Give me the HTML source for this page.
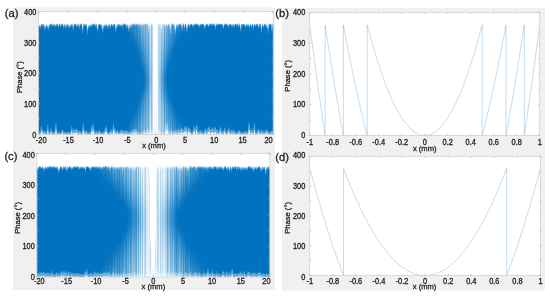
<!DOCTYPE html><html><head><meta charset="utf-8"><style>html,body{margin:0;padding:0;background:#fff;overflow:hidden}svg{display:block}stop{stop-color:#fff}</style></head><body><svg width="550" height="296" viewBox="0 0 550 296" font-family="'Liberation Sans', Arial, sans-serif"><defs><linearGradient id="g1" x1="0" y1="0" x2="0" y2="1"><stop offset="0.00" stop-opacity="0.00"/><stop offset="0.01" stop-opacity="0.00"/><stop offset="0.10" stop-opacity="0.00"/><stop offset="0.18" stop-opacity="0.00"/><stop offset="0.26" stop-opacity="0.00"/><stop offset="0.34" stop-opacity="0.00"/><stop offset="0.42" stop-opacity="0.00"/><stop offset="0.51" stop-opacity="0.00"/><stop offset="0.59" stop-opacity="0.00"/><stop offset="0.67" stop-opacity="0.00"/><stop offset="0.75" stop-opacity="0.00"/><stop offset="0.84" stop-opacity="0.00"/><stop offset="0.92" stop-opacity="0.00"/><stop offset="1.00" stop-opacity="0.03"/></linearGradient><linearGradient id="g2" x1="0" y1="0" x2="0" y2="1"><stop offset="0.00" stop-opacity="0.01"/><stop offset="0.01" stop-opacity="0.01"/><stop offset="0.10" stop-opacity="0.00"/><stop offset="0.18" stop-opacity="0.00"/><stop offset="0.26" stop-opacity="0.00"/><stop offset="0.34" stop-opacity="0.00"/><stop offset="0.42" stop-opacity="0.00"/><stop offset="0.51" stop-opacity="0.00"/><stop offset="0.59" stop-opacity="0.00"/><stop offset="0.67" stop-opacity="0.00"/><stop offset="0.75" stop-opacity="0.00"/><stop offset="0.84" stop-opacity="0.00"/><stop offset="0.92" stop-opacity="0.00"/><stop offset="1.00" stop-opacity="0.03"/></linearGradient><linearGradient id="g3" x1="0" y1="0" x2="0" y2="1"><stop offset="0.00" stop-opacity="0.03"/><stop offset="0.01" stop-opacity="0.03"/><stop offset="0.10" stop-opacity="0.00"/><stop offset="0.18" stop-opacity="0.00"/><stop offset="0.26" stop-opacity="0.00"/><stop offset="0.34" stop-opacity="0.00"/><stop offset="0.42" stop-opacity="0.00"/><stop offset="0.51" stop-opacity="0.00"/><stop offset="0.59" stop-opacity="0.00"/><stop offset="0.67" stop-opacity="0.00"/><stop offset="0.75" stop-opacity="0.00"/><stop offset="0.84" stop-opacity="0.00"/><stop offset="0.92" stop-opacity="0.00"/><stop offset="1.00" stop-opacity="0.07"/></linearGradient><linearGradient id="g4" x1="0" y1="0" x2="0" y2="1"><stop offset="0.00" stop-opacity="0.03"/><stop offset="0.01" stop-opacity="0.03"/><stop offset="0.10" stop-opacity="0.00"/><stop offset="0.18" stop-opacity="0.00"/><stop offset="0.26" stop-opacity="0.00"/><stop offset="0.34" stop-opacity="0.00"/><stop offset="0.42" stop-opacity="0.00"/><stop offset="0.51" stop-opacity="0.00"/><stop offset="0.59" stop-opacity="0.00"/><stop offset="0.67" stop-opacity="0.00"/><stop offset="0.75" stop-opacity="0.00"/><stop offset="0.84" stop-opacity="0.00"/><stop offset="0.92" stop-opacity="0.00"/><stop offset="1.00" stop-opacity="0.05"/></linearGradient><linearGradient id="g5" x1="0" y1="0" x2="0" y2="1"><stop offset="0.00" stop-opacity="0.05"/><stop offset="0.01" stop-opacity="0.05"/><stop offset="0.10" stop-opacity="0.00"/><stop offset="0.18" stop-opacity="0.00"/><stop offset="0.26" stop-opacity="0.00"/><stop offset="0.34" stop-opacity="0.00"/><stop offset="0.42" stop-opacity="0.00"/><stop offset="0.51" stop-opacity="0.00"/><stop offset="0.59" stop-opacity="0.00"/><stop offset="0.67" stop-opacity="0.00"/><stop offset="0.75" stop-opacity="0.00"/><stop offset="0.84" stop-opacity="0.00"/><stop offset="0.92" stop-opacity="0.01"/><stop offset="1.00" stop-opacity="0.08"/></linearGradient><linearGradient id="g6" x1="0" y1="0" x2="0" y2="1"><stop offset="0.00" stop-opacity="0.07"/><stop offset="0.01" stop-opacity="0.07"/><stop offset="0.10" stop-opacity="0.00"/><stop offset="0.18" stop-opacity="0.00"/><stop offset="0.26" stop-opacity="0.00"/><stop offset="0.34" stop-opacity="0.00"/><stop offset="0.42" stop-opacity="0.00"/><stop offset="0.51" stop-opacity="0.00"/><stop offset="0.59" stop-opacity="0.00"/><stop offset="0.67" stop-opacity="0.00"/><stop offset="0.75" stop-opacity="0.00"/><stop offset="0.84" stop-opacity="0.00"/><stop offset="0.92" stop-opacity="0.03"/><stop offset="1.00" stop-opacity="0.11"/></linearGradient><linearGradient id="g7" x1="0" y1="0" x2="0" y2="1"><stop offset="0.00" stop-opacity="0.09"/><stop offset="0.01" stop-opacity="0.09"/><stop offset="0.10" stop-opacity="0.02"/><stop offset="0.18" stop-opacity="0.00"/><stop offset="0.26" stop-opacity="0.00"/><stop offset="0.34" stop-opacity="0.00"/><stop offset="0.42" stop-opacity="0.00"/><stop offset="0.51" stop-opacity="0.00"/><stop offset="0.59" stop-opacity="0.00"/><stop offset="0.67" stop-opacity="0.00"/><stop offset="0.75" stop-opacity="0.00"/><stop offset="0.84" stop-opacity="0.00"/><stop offset="0.92" stop-opacity="0.04"/><stop offset="1.00" stop-opacity="0.12"/></linearGradient><linearGradient id="g8" x1="0" y1="0" x2="0" y2="1"><stop offset="0.00" stop-opacity="0.12"/><stop offset="0.01" stop-opacity="0.12"/><stop offset="0.10" stop-opacity="0.04"/><stop offset="0.18" stop-opacity="0.00"/><stop offset="0.26" stop-opacity="0.00"/><stop offset="0.34" stop-opacity="0.00"/><stop offset="0.42" stop-opacity="0.00"/><stop offset="0.51" stop-opacity="0.00"/><stop offset="0.59" stop-opacity="0.00"/><stop offset="0.67" stop-opacity="0.00"/><stop offset="0.75" stop-opacity="0.00"/><stop offset="0.84" stop-opacity="0.00"/><stop offset="0.92" stop-opacity="0.07"/><stop offset="1.00" stop-opacity="0.16"/></linearGradient><linearGradient id="g9" x1="0" y1="0" x2="0" y2="1"><stop offset="0.00" stop-opacity="0.16"/><stop offset="0.01" stop-opacity="0.16"/><stop offset="0.10" stop-opacity="0.06"/><stop offset="0.18" stop-opacity="0.00"/><stop offset="0.26" stop-opacity="0.00"/><stop offset="0.34" stop-opacity="0.00"/><stop offset="0.42" stop-opacity="0.00"/><stop offset="0.51" stop-opacity="0.00"/><stop offset="0.59" stop-opacity="0.00"/><stop offset="0.67" stop-opacity="0.00"/><stop offset="0.75" stop-opacity="0.00"/><stop offset="0.84" stop-opacity="0.00"/><stop offset="0.92" stop-opacity="0.10"/><stop offset="1.00" stop-opacity="0.20"/></linearGradient><linearGradient id="g10" x1="0" y1="0" x2="0" y2="1"><stop offset="0.00" stop-opacity="0.21"/><stop offset="0.01" stop-opacity="0.21"/><stop offset="0.10" stop-opacity="0.10"/><stop offset="0.18" stop-opacity="0.00"/><stop offset="0.26" stop-opacity="0.00"/><stop offset="0.34" stop-opacity="0.00"/><stop offset="0.42" stop-opacity="0.00"/><stop offset="0.51" stop-opacity="0.00"/><stop offset="0.59" stop-opacity="0.00"/><stop offset="0.67" stop-opacity="0.00"/><stop offset="0.75" stop-opacity="0.00"/><stop offset="0.84" stop-opacity="0.02"/><stop offset="0.92" stop-opacity="0.14"/><stop offset="1.00" stop-opacity="0.25"/></linearGradient><linearGradient id="g11" x1="0" y1="0" x2="0" y2="1"><stop offset="0.00" stop-opacity="0.15"/><stop offset="0.01" stop-opacity="0.15"/><stop offset="0.10" stop-opacity="0.08"/><stop offset="0.18" stop-opacity="0.01"/><stop offset="0.26" stop-opacity="0.00"/><stop offset="0.34" stop-opacity="0.00"/><stop offset="0.42" stop-opacity="0.00"/><stop offset="0.51" stop-opacity="0.00"/><stop offset="0.59" stop-opacity="0.00"/><stop offset="0.67" stop-opacity="0.00"/><stop offset="0.75" stop-opacity="0.00"/><stop offset="0.84" stop-opacity="0.03"/><stop offset="0.92" stop-opacity="0.10"/><stop offset="1.00" stop-opacity="0.18"/></linearGradient><linearGradient id="g12" x1="0" y1="0" x2="0" y2="1"><stop offset="0.00" stop-opacity="0.22"/><stop offset="0.01" stop-opacity="0.22"/><stop offset="0.10" stop-opacity="0.13"/><stop offset="0.18" stop-opacity="0.04"/><stop offset="0.26" stop-opacity="0.00"/><stop offset="0.34" stop-opacity="0.00"/><stop offset="0.42" stop-opacity="0.00"/><stop offset="0.51" stop-opacity="0.00"/><stop offset="0.59" stop-opacity="0.00"/><stop offset="0.67" stop-opacity="0.00"/><stop offset="0.75" stop-opacity="0.00"/><stop offset="0.84" stop-opacity="0.06"/><stop offset="0.92" stop-opacity="0.17"/><stop offset="1.00" stop-opacity="0.25"/></linearGradient><linearGradient id="g13" x1="0" y1="0" x2="0" y2="1"><stop offset="0.00" stop-opacity="0.25"/><stop offset="0.01" stop-opacity="0.25"/><stop offset="0.10" stop-opacity="0.17"/><stop offset="0.18" stop-opacity="0.07"/><stop offset="0.26" stop-opacity="0.00"/><stop offset="0.34" stop-opacity="0.00"/><stop offset="0.42" stop-opacity="0.00"/><stop offset="0.51" stop-opacity="0.00"/><stop offset="0.59" stop-opacity="0.00"/><stop offset="0.67" stop-opacity="0.00"/><stop offset="0.75" stop-opacity="0.00"/><stop offset="0.84" stop-opacity="0.09"/><stop offset="0.92" stop-opacity="0.20"/><stop offset="1.00" stop-opacity="0.29"/></linearGradient><linearGradient id="g14" x1="0" y1="0" x2="0" y2="1"><stop offset="0.00" stop-opacity="0.21"/><stop offset="0.01" stop-opacity="0.21"/><stop offset="0.10" stop-opacity="0.15"/><stop offset="0.18" stop-opacity="0.07"/><stop offset="0.26" stop-opacity="0.00"/><stop offset="0.34" stop-opacity="0.00"/><stop offset="0.42" stop-opacity="0.00"/><stop offset="0.51" stop-opacity="0.00"/><stop offset="0.59" stop-opacity="0.00"/><stop offset="0.67" stop-opacity="0.00"/><stop offset="0.75" stop-opacity="0.01"/><stop offset="0.84" stop-opacity="0.09"/><stop offset="0.92" stop-opacity="0.17"/><stop offset="1.00" stop-opacity="0.24"/></linearGradient><linearGradient id="g15" x1="0" y1="0" x2="0" y2="1"><stop offset="0.00" stop-opacity="0.18"/><stop offset="0.01" stop-opacity="0.18"/><stop offset="0.10" stop-opacity="0.13"/><stop offset="0.18" stop-opacity="0.07"/><stop offset="0.26" stop-opacity="0.01"/><stop offset="0.34" stop-opacity="0.00"/><stop offset="0.42" stop-opacity="0.00"/><stop offset="0.51" stop-opacity="0.00"/><stop offset="0.59" stop-opacity="0.00"/><stop offset="0.67" stop-opacity="0.00"/><stop offset="0.75" stop-opacity="0.02"/><stop offset="0.84" stop-opacity="0.08"/><stop offset="0.92" stop-opacity="0.15"/><stop offset="1.00" stop-opacity="0.20"/></linearGradient><linearGradient id="g16" x1="0" y1="0" x2="0" y2="1"><stop offset="0.00" stop-opacity="0.39"/><stop offset="0.01" stop-opacity="0.39"/><stop offset="0.10" stop-opacity="0.30"/><stop offset="0.18" stop-opacity="0.20"/><stop offset="0.26" stop-opacity="0.07"/><stop offset="0.34" stop-opacity="0.00"/><stop offset="0.42" stop-opacity="0.00"/><stop offset="0.51" stop-opacity="0.00"/><stop offset="0.59" stop-opacity="0.00"/><stop offset="0.67" stop-opacity="0.00"/><stop offset="0.75" stop-opacity="0.09"/><stop offset="0.84" stop-opacity="0.22"/><stop offset="0.92" stop-opacity="0.34"/><stop offset="1.00" stop-opacity="0.42"/></linearGradient><linearGradient id="g17" x1="0" y1="0" x2="0" y2="1"><stop offset="0.00" stop-opacity="0.28"/><stop offset="0.01" stop-opacity="0.28"/><stop offset="0.10" stop-opacity="0.22"/><stop offset="0.18" stop-opacity="0.15"/><stop offset="0.26" stop-opacity="0.07"/><stop offset="0.34" stop-opacity="0.00"/><stop offset="0.42" stop-opacity="0.00"/><stop offset="0.51" stop-opacity="0.00"/><stop offset="0.59" stop-opacity="0.00"/><stop offset="0.67" stop-opacity="0.00"/><stop offset="0.75" stop-opacity="0.08"/><stop offset="0.84" stop-opacity="0.17"/><stop offset="0.92" stop-opacity="0.24"/><stop offset="1.00" stop-opacity="0.30"/></linearGradient><linearGradient id="g18" x1="0" y1="0" x2="0" y2="1"><stop offset="0.00" stop-opacity="0.31"/><stop offset="0.01" stop-opacity="0.31"/><stop offset="0.10" stop-opacity="0.25"/><stop offset="0.18" stop-opacity="0.18"/><stop offset="0.26" stop-opacity="0.10"/><stop offset="0.34" stop-opacity="0.02"/><stop offset="0.42" stop-opacity="0.00"/><stop offset="0.51" stop-opacity="0.00"/><stop offset="0.59" stop-opacity="0.00"/><stop offset="0.67" stop-opacity="0.02"/><stop offset="0.75" stop-opacity="0.11"/><stop offset="0.84" stop-opacity="0.20"/><stop offset="0.92" stop-opacity="0.27"/><stop offset="1.00" stop-opacity="0.33"/></linearGradient><linearGradient id="g19" x1="0" y1="0" x2="0" y2="1"><stop offset="0.00" stop-opacity="0.47"/><stop offset="0.01" stop-opacity="0.47"/><stop offset="0.10" stop-opacity="0.40"/><stop offset="0.18" stop-opacity="0.31"/><stop offset="0.26" stop-opacity="0.20"/><stop offset="0.34" stop-opacity="0.08"/><stop offset="0.42" stop-opacity="0.00"/><stop offset="0.51" stop-opacity="0.00"/><stop offset="0.59" stop-opacity="0.00"/><stop offset="0.67" stop-opacity="0.08"/><stop offset="0.75" stop-opacity="0.22"/><stop offset="0.84" stop-opacity="0.33"/><stop offset="0.92" stop-opacity="0.42"/><stop offset="1.00" stop-opacity="0.49"/></linearGradient><linearGradient id="g20" x1="0" y1="0" x2="0" y2="1"><stop offset="0.00" stop-opacity="0.43"/><stop offset="0.01" stop-opacity="0.43"/><stop offset="0.10" stop-opacity="0.37"/><stop offset="0.18" stop-opacity="0.30"/><stop offset="0.26" stop-opacity="0.21"/><stop offset="0.34" stop-opacity="0.11"/><stop offset="0.42" stop-opacity="0.01"/><stop offset="0.51" stop-opacity="0.00"/><stop offset="0.59" stop-opacity="0.01"/><stop offset="0.67" stop-opacity="0.11"/><stop offset="0.75" stop-opacity="0.22"/><stop offset="0.84" stop-opacity="0.31"/><stop offset="0.92" stop-opacity="0.39"/><stop offset="1.00" stop-opacity="0.45"/></linearGradient><linearGradient id="g21" x1="0" y1="0" x2="0" y2="1"><stop offset="0.00" stop-opacity="0.43"/><stop offset="0.01" stop-opacity="0.43"/><stop offset="0.10" stop-opacity="0.38"/><stop offset="0.18" stop-opacity="0.31"/><stop offset="0.26" stop-opacity="0.23"/><stop offset="0.34" stop-opacity="0.14"/><stop offset="0.42" stop-opacity="0.05"/><stop offset="0.51" stop-opacity="0.00"/><stop offset="0.59" stop-opacity="0.04"/><stop offset="0.67" stop-opacity="0.14"/><stop offset="0.75" stop-opacity="0.24"/><stop offset="0.84" stop-opacity="0.33"/><stop offset="0.92" stop-opacity="0.39"/><stop offset="1.00" stop-opacity="0.45"/></linearGradient><linearGradient id="g22" x1="0" y1="0" x2="0" y2="1"><stop offset="0.00" stop-opacity="0.54"/><stop offset="0.01" stop-opacity="0.54"/><stop offset="0.10" stop-opacity="0.49"/><stop offset="0.18" stop-opacity="0.42"/><stop offset="0.26" stop-opacity="0.34"/><stop offset="0.34" stop-opacity="0.23"/><stop offset="0.42" stop-opacity="0.12"/><stop offset="0.51" stop-opacity="0.04"/><stop offset="0.59" stop-opacity="0.11"/><stop offset="0.67" stop-opacity="0.24"/><stop offset="0.75" stop-opacity="0.35"/><stop offset="0.84" stop-opacity="0.43"/><stop offset="0.92" stop-opacity="0.50"/><stop offset="1.00" stop-opacity="0.55"/></linearGradient><linearGradient id="g23" x1="0" y1="0" x2="0" y2="1"><stop offset="0.00" stop-opacity="0.37"/><stop offset="0.01" stop-opacity="0.37"/><stop offset="0.10" stop-opacity="0.33"/><stop offset="0.18" stop-opacity="0.29"/><stop offset="0.26" stop-opacity="0.23"/><stop offset="0.34" stop-opacity="0.17"/><stop offset="0.42" stop-opacity="0.10"/><stop offset="0.51" stop-opacity="0.06"/><stop offset="0.59" stop-opacity="0.10"/><stop offset="0.67" stop-opacity="0.17"/><stop offset="0.75" stop-opacity="0.24"/><stop offset="0.84" stop-opacity="0.30"/><stop offset="0.92" stop-opacity="0.34"/><stop offset="1.00" stop-opacity="0.38"/></linearGradient><linearGradient id="g24" x1="0" y1="0" x2="0" y2="1"><stop offset="0.00" stop-opacity="0.58"/><stop offset="0.01" stop-opacity="0.58"/><stop offset="0.10" stop-opacity="0.54"/><stop offset="0.18" stop-opacity="0.49"/><stop offset="0.26" stop-opacity="0.43"/><stop offset="0.34" stop-opacity="0.35"/><stop offset="0.42" stop-opacity="0.25"/><stop offset="0.51" stop-opacity="0.18"/><stop offset="0.59" stop-opacity="0.24"/><stop offset="0.67" stop-opacity="0.35"/><stop offset="0.75" stop-opacity="0.43"/><stop offset="0.84" stop-opacity="0.50"/><stop offset="0.92" stop-opacity="0.55"/><stop offset="1.00" stop-opacity="0.59"/></linearGradient><linearGradient id="g25" x1="0" y1="0" x2="0" y2="1"><stop offset="0.00" stop-opacity="0.52"/><stop offset="0.01" stop-opacity="0.52"/><stop offset="0.10" stop-opacity="0.49"/><stop offset="0.18" stop-opacity="0.45"/><stop offset="0.26" stop-opacity="0.40"/><stop offset="0.34" stop-opacity="0.34"/><stop offset="0.42" stop-opacity="0.26"/><stop offset="0.51" stop-opacity="0.21"/><stop offset="0.59" stop-opacity="0.26"/><stop offset="0.67" stop-opacity="0.34"/><stop offset="0.75" stop-opacity="0.40"/><stop offset="0.84" stop-opacity="0.46"/><stop offset="0.92" stop-opacity="0.50"/><stop offset="1.00" stop-opacity="0.53"/></linearGradient><linearGradient id="g26" x1="0" y1="0" x2="0" y2="1"><stop offset="0.00" stop-opacity="0.47"/><stop offset="0.01" stop-opacity="0.47"/><stop offset="0.10" stop-opacity="0.45"/><stop offset="0.18" stop-opacity="0.42"/><stop offset="0.26" stop-opacity="0.38"/><stop offset="0.34" stop-opacity="0.33"/><stop offset="0.42" stop-opacity="0.27"/><stop offset="0.51" stop-opacity="0.23"/><stop offset="0.59" stop-opacity="0.26"/><stop offset="0.67" stop-opacity="0.32"/><stop offset="0.75" stop-opacity="0.38"/><stop offset="0.84" stop-opacity="0.42"/><stop offset="0.92" stop-opacity="0.45"/><stop offset="1.00" stop-opacity="0.48"/></linearGradient><linearGradient id="g27" x1="0" y1="0" x2="0" y2="1"><stop offset="0.00" stop-opacity="0.67"/><stop offset="0.01" stop-opacity="0.67"/><stop offset="0.10" stop-opacity="0.65"/><stop offset="0.18" stop-opacity="0.62"/><stop offset="0.26" stop-opacity="0.58"/><stop offset="0.34" stop-opacity="0.54"/><stop offset="0.42" stop-opacity="0.48"/><stop offset="0.51" stop-opacity="0.43"/><stop offset="0.59" stop-opacity="0.47"/><stop offset="0.67" stop-opacity="0.53"/><stop offset="0.75" stop-opacity="0.58"/><stop offset="0.84" stop-opacity="0.62"/><stop offset="0.92" stop-opacity="0.65"/><stop offset="1.00" stop-opacity="0.67"/></linearGradient><linearGradient id="g28" x1="0" y1="0" x2="0" y2="1"><stop offset="0.00" stop-opacity="0.78"/><stop offset="0.01" stop-opacity="0.78"/><stop offset="0.10" stop-opacity="0.77"/><stop offset="0.18" stop-opacity="0.75"/><stop offset="0.26" stop-opacity="0.72"/><stop offset="0.34" stop-opacity="0.68"/><stop offset="0.42" stop-opacity="0.64"/><stop offset="0.51" stop-opacity="0.60"/><stop offset="0.59" stop-opacity="0.63"/><stop offset="0.67" stop-opacity="0.68"/><stop offset="0.75" stop-opacity="0.72"/><stop offset="0.84" stop-opacity="0.74"/><stop offset="0.92" stop-opacity="0.77"/><stop offset="1.00" stop-opacity="0.78"/></linearGradient><linearGradient id="g29" x1="0" y1="0" x2="0" y2="1"><stop offset="0.00" stop-opacity="0.60"/><stop offset="0.01" stop-opacity="0.60"/><stop offset="0.10" stop-opacity="0.59"/><stop offset="0.18" stop-opacity="0.58"/><stop offset="0.26" stop-opacity="0.57"/><stop offset="0.34" stop-opacity="0.55"/><stop offset="0.42" stop-opacity="0.52"/><stop offset="0.51" stop-opacity="0.50"/><stop offset="0.59" stop-opacity="0.52"/><stop offset="0.67" stop-opacity="0.54"/><stop offset="0.75" stop-opacity="0.56"/><stop offset="0.84" stop-opacity="0.58"/><stop offset="0.92" stop-opacity="0.59"/><stop offset="1.00" stop-opacity="0.60"/></linearGradient><linearGradient id="g30" x1="0" y1="0" x2="0" y2="1"><stop offset="0.00" stop-opacity="0.76"/><stop offset="0.01" stop-opacity="0.76"/><stop offset="0.10" stop-opacity="0.76"/><stop offset="0.18" stop-opacity="0.76"/><stop offset="0.26" stop-opacity="0.75"/><stop offset="0.34" stop-opacity="0.75"/><stop offset="0.42" stop-opacity="0.74"/><stop offset="0.51" stop-opacity="0.73"/><stop offset="0.59" stop-opacity="0.73"/><stop offset="0.67" stop-opacity="0.74"/><stop offset="0.75" stop-opacity="0.75"/><stop offset="0.84" stop-opacity="0.75"/><stop offset="0.92" stop-opacity="0.75"/><stop offset="1.00" stop-opacity="0.75"/></linearGradient><linearGradient id="g31" x1="0" y1="0" x2="0" y2="1"><stop offset="0.00" stop-opacity="1.00"/><stop offset="0.01" stop-opacity="1.00"/><stop offset="0.10" stop-opacity="1.00"/><stop offset="0.18" stop-opacity="1.00"/><stop offset="0.26" stop-opacity="1.00"/><stop offset="0.34" stop-opacity="1.00"/><stop offset="0.42" stop-opacity="1.00"/><stop offset="0.51" stop-opacity="1.00"/><stop offset="0.59" stop-opacity="1.00"/><stop offset="0.67" stop-opacity="1.00"/><stop offset="0.75" stop-opacity="1.00"/><stop offset="0.84" stop-opacity="1.00"/><stop offset="0.92" stop-opacity="1.00"/><stop offset="1.00" stop-opacity="1.00"/></linearGradient><linearGradient id="g32" x1="0" y1="0" x2="0" y2="1"><stop offset="0.00" stop-opacity="1.00"/><stop offset="0.01" stop-opacity="1.00"/><stop offset="0.10" stop-opacity="1.00"/><stop offset="0.18" stop-opacity="1.00"/><stop offset="0.26" stop-opacity="1.00"/><stop offset="0.34" stop-opacity="1.00"/><stop offset="0.42" stop-opacity="1.00"/><stop offset="0.51" stop-opacity="1.00"/><stop offset="0.59" stop-opacity="1.00"/><stop offset="0.67" stop-opacity="1.00"/><stop offset="0.75" stop-opacity="1.00"/><stop offset="0.84" stop-opacity="1.00"/><stop offset="0.92" stop-opacity="1.00"/><stop offset="1.00" stop-opacity="1.00"/></linearGradient><linearGradient id="g33" x1="0" y1="0" x2="0" y2="1"><stop offset="0.00" stop-opacity="1.00"/><stop offset="0.01" stop-opacity="1.00"/><stop offset="0.10" stop-opacity="1.00"/><stop offset="0.18" stop-opacity="1.00"/><stop offset="0.26" stop-opacity="1.00"/><stop offset="0.34" stop-opacity="1.00"/><stop offset="0.42" stop-opacity="1.00"/><stop offset="0.51" stop-opacity="1.00"/><stop offset="0.59" stop-opacity="1.00"/><stop offset="0.67" stop-opacity="1.00"/><stop offset="0.75" stop-opacity="1.00"/><stop offset="0.84" stop-opacity="1.00"/><stop offset="0.92" stop-opacity="1.00"/><stop offset="1.00" stop-opacity="1.00"/></linearGradient><linearGradient id="g34" x1="0" y1="0" x2="0" y2="1"><stop offset="0.00" stop-opacity="1.00"/><stop offset="0.01" stop-opacity="1.00"/><stop offset="0.10" stop-opacity="1.00"/><stop offset="0.18" stop-opacity="1.00"/><stop offset="0.26" stop-opacity="1.00"/><stop offset="0.34" stop-opacity="1.00"/><stop offset="0.42" stop-opacity="1.00"/><stop offset="0.51" stop-opacity="1.00"/><stop offset="0.59" stop-opacity="1.00"/><stop offset="0.67" stop-opacity="1.00"/><stop offset="0.75" stop-opacity="1.00"/><stop offset="0.84" stop-opacity="1.00"/><stop offset="0.92" stop-opacity="1.00"/><stop offset="1.00" stop-opacity="1.00"/></linearGradient><linearGradient id="g35" x1="0" y1="0" x2="0" y2="1"><stop offset="0.00" stop-opacity="1.00"/><stop offset="0.01" stop-opacity="1.00"/><stop offset="0.10" stop-opacity="1.00"/><stop offset="0.18" stop-opacity="1.00"/><stop offset="0.26" stop-opacity="1.00"/><stop offset="0.34" stop-opacity="1.00"/><stop offset="0.42" stop-opacity="1.00"/><stop offset="0.51" stop-opacity="1.00"/><stop offset="0.59" stop-opacity="1.00"/><stop offset="0.67" stop-opacity="1.00"/><stop offset="0.75" stop-opacity="1.00"/><stop offset="0.84" stop-opacity="1.00"/><stop offset="0.92" stop-opacity="1.00"/><stop offset="1.00" stop-opacity="1.00"/></linearGradient><linearGradient id="g36" x1="0" y1="0" x2="0" y2="1"><stop offset="0.00" stop-opacity="0.76"/><stop offset="0.01" stop-opacity="0.76"/><stop offset="0.10" stop-opacity="0.75"/><stop offset="0.18" stop-opacity="0.75"/><stop offset="0.26" stop-opacity="0.74"/><stop offset="0.34" stop-opacity="0.73"/><stop offset="0.42" stop-opacity="0.71"/><stop offset="0.51" stop-opacity="0.70"/><stop offset="0.59" stop-opacity="0.71"/><stop offset="0.67" stop-opacity="0.72"/><stop offset="0.75" stop-opacity="0.73"/><stop offset="0.84" stop-opacity="0.74"/><stop offset="0.92" stop-opacity="0.75"/><stop offset="1.00" stop-opacity="0.75"/></linearGradient><linearGradient id="g37" x1="0" y1="0" x2="0" y2="1"><stop offset="0.00" stop-opacity="0.73"/><stop offset="0.01" stop-opacity="0.73"/><stop offset="0.10" stop-opacity="0.72"/><stop offset="0.18" stop-opacity="0.70"/><stop offset="0.26" stop-opacity="0.68"/><stop offset="0.34" stop-opacity="0.66"/><stop offset="0.42" stop-opacity="0.63"/><stop offset="0.51" stop-opacity="0.60"/><stop offset="0.59" stop-opacity="0.62"/><stop offset="0.67" stop-opacity="0.65"/><stop offset="0.75" stop-opacity="0.68"/><stop offset="0.84" stop-opacity="0.70"/><stop offset="0.92" stop-opacity="0.71"/><stop offset="1.00" stop-opacity="0.73"/></linearGradient><linearGradient id="g38" x1="0" y1="0" x2="0" y2="1"><stop offset="0.00" stop-opacity="0.74"/><stop offset="0.01" stop-opacity="0.74"/><stop offset="0.10" stop-opacity="0.72"/><stop offset="0.18" stop-opacity="0.70"/><stop offset="0.26" stop-opacity="0.66"/><stop offset="0.34" stop-opacity="0.62"/><stop offset="0.42" stop-opacity="0.57"/><stop offset="0.51" stop-opacity="0.53"/><stop offset="0.59" stop-opacity="0.57"/><stop offset="0.67" stop-opacity="0.62"/><stop offset="0.75" stop-opacity="0.66"/><stop offset="0.84" stop-opacity="0.69"/><stop offset="0.92" stop-opacity="0.72"/><stop offset="1.00" stop-opacity="0.74"/></linearGradient><linearGradient id="g39" x1="0" y1="0" x2="0" y2="1"><stop offset="0.00" stop-opacity="0.59"/><stop offset="0.01" stop-opacity="0.59"/><stop offset="0.10" stop-opacity="0.57"/><stop offset="0.18" stop-opacity="0.54"/><stop offset="0.26" stop-opacity="0.50"/><stop offset="0.34" stop-opacity="0.45"/><stop offset="0.42" stop-opacity="0.39"/><stop offset="0.51" stop-opacity="0.34"/><stop offset="0.59" stop-opacity="0.38"/><stop offset="0.67" stop-opacity="0.45"/><stop offset="0.75" stop-opacity="0.50"/><stop offset="0.84" stop-opacity="0.54"/><stop offset="0.92" stop-opacity="0.57"/><stop offset="1.00" stop-opacity="0.59"/></linearGradient><linearGradient id="g40" x1="0" y1="0" x2="0" y2="1"><stop offset="0.00" stop-opacity="0.65"/><stop offset="0.01" stop-opacity="0.65"/><stop offset="0.10" stop-opacity="0.62"/><stop offset="0.18" stop-opacity="0.58"/><stop offset="0.26" stop-opacity="0.53"/><stop offset="0.34" stop-opacity="0.46"/><stop offset="0.42" stop-opacity="0.39"/><stop offset="0.51" stop-opacity="0.32"/><stop offset="0.59" stop-opacity="0.38"/><stop offset="0.67" stop-opacity="0.46"/><stop offset="0.75" stop-opacity="0.53"/><stop offset="0.84" stop-opacity="0.59"/><stop offset="0.92" stop-opacity="0.63"/><stop offset="1.00" stop-opacity="0.66"/></linearGradient><linearGradient id="g41" x1="0" y1="0" x2="0" y2="1"><stop offset="0.00" stop-opacity="0.65"/><stop offset="0.01" stop-opacity="0.65"/><stop offset="0.10" stop-opacity="0.61"/><stop offset="0.18" stop-opacity="0.57"/><stop offset="0.26" stop-opacity="0.50"/><stop offset="0.34" stop-opacity="0.42"/><stop offset="0.42" stop-opacity="0.33"/><stop offset="0.51" stop-opacity="0.25"/><stop offset="0.59" stop-opacity="0.32"/><stop offset="0.67" stop-opacity="0.42"/><stop offset="0.75" stop-opacity="0.51"/><stop offset="0.84" stop-opacity="0.57"/><stop offset="0.92" stop-opacity="0.62"/><stop offset="1.00" stop-opacity="0.66"/></linearGradient><linearGradient id="g42" x1="0" y1="0" x2="0" y2="1"><stop offset="0.00" stop-opacity="0.41"/><stop offset="0.01" stop-opacity="0.41"/><stop offset="0.10" stop-opacity="0.37"/><stop offset="0.18" stop-opacity="0.33"/><stop offset="0.26" stop-opacity="0.27"/><stop offset="0.34" stop-opacity="0.21"/><stop offset="0.42" stop-opacity="0.14"/><stop offset="0.51" stop-opacity="0.09"/><stop offset="0.59" stop-opacity="0.13"/><stop offset="0.67" stop-opacity="0.21"/><stop offset="0.75" stop-opacity="0.28"/><stop offset="0.84" stop-opacity="0.33"/><stop offset="0.92" stop-opacity="0.38"/><stop offset="1.00" stop-opacity="0.42"/></linearGradient><linearGradient id="g43" x1="0" y1="0" x2="0" y2="1"><stop offset="0.00" stop-opacity="0.58"/><stop offset="0.01" stop-opacity="0.58"/><stop offset="0.10" stop-opacity="0.53"/><stop offset="0.18" stop-opacity="0.46"/><stop offset="0.26" stop-opacity="0.38"/><stop offset="0.34" stop-opacity="0.28"/><stop offset="0.42" stop-opacity="0.17"/><stop offset="0.51" stop-opacity="0.09"/><stop offset="0.59" stop-opacity="0.16"/><stop offset="0.67" stop-opacity="0.28"/><stop offset="0.75" stop-opacity="0.39"/><stop offset="0.84" stop-opacity="0.48"/><stop offset="0.92" stop-opacity="0.54"/><stop offset="1.00" stop-opacity="0.59"/></linearGradient><linearGradient id="g44" x1="0" y1="0" x2="0" y2="1"><stop offset="0.00" stop-opacity="0.43"/><stop offset="0.01" stop-opacity="0.43"/><stop offset="0.10" stop-opacity="0.38"/><stop offset="0.18" stop-opacity="0.32"/><stop offset="0.26" stop-opacity="0.25"/><stop offset="0.34" stop-opacity="0.16"/><stop offset="0.42" stop-opacity="0.07"/><stop offset="0.51" stop-opacity="0.02"/><stop offset="0.59" stop-opacity="0.07"/><stop offset="0.67" stop-opacity="0.16"/><stop offset="0.75" stop-opacity="0.26"/><stop offset="0.84" stop-opacity="0.33"/><stop offset="0.92" stop-opacity="0.39"/><stop offset="1.00" stop-opacity="0.44"/></linearGradient><linearGradient id="g45" x1="0" y1="0" x2="0" y2="1"><stop offset="0.00" stop-opacity="0.42"/><stop offset="0.01" stop-opacity="0.42"/><stop offset="0.10" stop-opacity="0.37"/><stop offset="0.18" stop-opacity="0.30"/><stop offset="0.26" stop-opacity="0.22"/><stop offset="0.34" stop-opacity="0.12"/><stop offset="0.42" stop-opacity="0.03"/><stop offset="0.51" stop-opacity="0.00"/><stop offset="0.59" stop-opacity="0.03"/><stop offset="0.67" stop-opacity="0.13"/><stop offset="0.75" stop-opacity="0.23"/><stop offset="0.84" stop-opacity="0.32"/><stop offset="0.92" stop-opacity="0.38"/><stop offset="1.00" stop-opacity="0.44"/></linearGradient><linearGradient id="g46" x1="0" y1="0" x2="0" y2="1"><stop offset="0.00" stop-opacity="0.31"/><stop offset="0.01" stop-opacity="0.31"/><stop offset="0.10" stop-opacity="0.26"/><stop offset="0.18" stop-opacity="0.20"/><stop offset="0.26" stop-opacity="0.13"/><stop offset="0.34" stop-opacity="0.06"/><stop offset="0.42" stop-opacity="0.00"/><stop offset="0.51" stop-opacity="0.00"/><stop offset="0.59" stop-opacity="0.00"/><stop offset="0.67" stop-opacity="0.06"/><stop offset="0.75" stop-opacity="0.14"/><stop offset="0.84" stop-opacity="0.22"/><stop offset="0.92" stop-opacity="0.28"/><stop offset="1.00" stop-opacity="0.33"/></linearGradient><linearGradient id="g47" x1="0" y1="0" x2="0" y2="1"><stop offset="0.00" stop-opacity="0.41"/><stop offset="0.01" stop-opacity="0.41"/><stop offset="0.10" stop-opacity="0.35"/><stop offset="0.18" stop-opacity="0.26"/><stop offset="0.26" stop-opacity="0.16"/><stop offset="0.34" stop-opacity="0.05"/><stop offset="0.42" stop-opacity="0.00"/><stop offset="0.51" stop-opacity="0.00"/><stop offset="0.59" stop-opacity="0.00"/><stop offset="0.67" stop-opacity="0.05"/><stop offset="0.75" stop-opacity="0.18"/><stop offset="0.84" stop-opacity="0.28"/><stop offset="0.92" stop-opacity="0.37"/><stop offset="1.00" stop-opacity="0.44"/></linearGradient><linearGradient id="g48" x1="0" y1="0" x2="0" y2="1"><stop offset="0.00" stop-opacity="0.30"/><stop offset="0.01" stop-opacity="0.30"/><stop offset="0.10" stop-opacity="0.24"/><stop offset="0.18" stop-opacity="0.17"/><stop offset="0.26" stop-opacity="0.09"/><stop offset="0.34" stop-opacity="0.01"/><stop offset="0.42" stop-opacity="0.00"/><stop offset="0.51" stop-opacity="0.00"/><stop offset="0.59" stop-opacity="0.00"/><stop offset="0.67" stop-opacity="0.01"/><stop offset="0.75" stop-opacity="0.10"/><stop offset="0.84" stop-opacity="0.18"/><stop offset="0.92" stop-opacity="0.26"/><stop offset="1.00" stop-opacity="0.32"/></linearGradient><linearGradient id="g49" x1="0" y1="0" x2="0" y2="1"><stop offset="0.00" stop-opacity="0.39"/><stop offset="0.01" stop-opacity="0.39"/><stop offset="0.10" stop-opacity="0.31"/><stop offset="0.18" stop-opacity="0.21"/><stop offset="0.26" stop-opacity="0.09"/><stop offset="0.34" stop-opacity="0.00"/><stop offset="0.42" stop-opacity="0.00"/><stop offset="0.51" stop-opacity="0.00"/><stop offset="0.59" stop-opacity="0.00"/><stop offset="0.67" stop-opacity="0.00"/><stop offset="0.75" stop-opacity="0.11"/><stop offset="0.84" stop-opacity="0.23"/><stop offset="0.92" stop-opacity="0.34"/><stop offset="1.00" stop-opacity="0.42"/></linearGradient><linearGradient id="g50" x1="0" y1="0" x2="0" y2="1"><stop offset="0.00" stop-opacity="0.24"/><stop offset="0.01" stop-opacity="0.24"/><stop offset="0.10" stop-opacity="0.18"/><stop offset="0.18" stop-opacity="0.11"/><stop offset="0.26" stop-opacity="0.03"/><stop offset="0.34" stop-opacity="0.00"/><stop offset="0.42" stop-opacity="0.00"/><stop offset="0.51" stop-opacity="0.00"/><stop offset="0.59" stop-opacity="0.00"/><stop offset="0.67" stop-opacity="0.00"/><stop offset="0.75" stop-opacity="0.04"/><stop offset="0.84" stop-opacity="0.13"/><stop offset="0.92" stop-opacity="0.20"/><stop offset="1.00" stop-opacity="0.27"/></linearGradient><linearGradient id="g51" x1="0" y1="0" x2="0" y2="1"><stop offset="0.00" stop-opacity="0.27"/><stop offset="0.01" stop-opacity="0.27"/><stop offset="0.10" stop-opacity="0.20"/><stop offset="0.18" stop-opacity="0.11"/><stop offset="0.26" stop-opacity="0.02"/><stop offset="0.34" stop-opacity="0.00"/><stop offset="0.42" stop-opacity="0.00"/><stop offset="0.51" stop-opacity="0.00"/><stop offset="0.59" stop-opacity="0.00"/><stop offset="0.67" stop-opacity="0.00"/><stop offset="0.75" stop-opacity="0.03"/><stop offset="0.84" stop-opacity="0.13"/><stop offset="0.92" stop-opacity="0.22"/><stop offset="1.00" stop-opacity="0.30"/></linearGradient><linearGradient id="g52" x1="0" y1="0" x2="0" y2="1"><stop offset="0.00" stop-opacity="0.22"/><stop offset="0.01" stop-opacity="0.22"/><stop offset="0.10" stop-opacity="0.15"/><stop offset="0.18" stop-opacity="0.07"/><stop offset="0.26" stop-opacity="0.00"/><stop offset="0.34" stop-opacity="0.00"/><stop offset="0.42" stop-opacity="0.00"/><stop offset="0.51" stop-opacity="0.00"/><stop offset="0.59" stop-opacity="0.00"/><stop offset="0.67" stop-opacity="0.00"/><stop offset="0.75" stop-opacity="0.00"/><stop offset="0.84" stop-opacity="0.09"/><stop offset="0.92" stop-opacity="0.17"/><stop offset="1.00" stop-opacity="0.25"/></linearGradient><linearGradient id="g53" x1="0" y1="0" x2="0" y2="1"><stop offset="0.00" stop-opacity="0.23"/><stop offset="0.01" stop-opacity="0.23"/><stop offset="0.10" stop-opacity="0.15"/><stop offset="0.18" stop-opacity="0.05"/><stop offset="0.26" stop-opacity="0.00"/><stop offset="0.34" stop-opacity="0.00"/><stop offset="0.42" stop-opacity="0.00"/><stop offset="0.51" stop-opacity="0.00"/><stop offset="0.59" stop-opacity="0.00"/><stop offset="0.67" stop-opacity="0.00"/><stop offset="0.75" stop-opacity="0.00"/><stop offset="0.84" stop-opacity="0.08"/><stop offset="0.92" stop-opacity="0.18"/><stop offset="1.00" stop-opacity="0.26"/></linearGradient><linearGradient id="g54" x1="0" y1="0" x2="0" y2="1"><stop offset="0.00" stop-opacity="0.15"/><stop offset="0.01" stop-opacity="0.15"/><stop offset="0.10" stop-opacity="0.08"/><stop offset="0.18" stop-opacity="0.02"/><stop offset="0.26" stop-opacity="0.00"/><stop offset="0.34" stop-opacity="0.00"/><stop offset="0.42" stop-opacity="0.00"/><stop offset="0.51" stop-opacity="0.00"/><stop offset="0.59" stop-opacity="0.00"/><stop offset="0.67" stop-opacity="0.00"/><stop offset="0.75" stop-opacity="0.00"/><stop offset="0.84" stop-opacity="0.04"/><stop offset="0.92" stop-opacity="0.11"/><stop offset="1.00" stop-opacity="0.17"/></linearGradient><linearGradient id="g55" x1="0" y1="0" x2="0" y2="1"><stop offset="0.00" stop-opacity="0.13"/><stop offset="0.01" stop-opacity="0.13"/><stop offset="0.10" stop-opacity="0.06"/><stop offset="0.18" stop-opacity="0.01"/><stop offset="0.26" stop-opacity="0.00"/><stop offset="0.34" stop-opacity="0.00"/><stop offset="0.42" stop-opacity="0.00"/><stop offset="0.51" stop-opacity="0.00"/><stop offset="0.59" stop-opacity="0.00"/><stop offset="0.67" stop-opacity="0.00"/><stop offset="0.75" stop-opacity="0.00"/><stop offset="0.84" stop-opacity="0.02"/><stop offset="0.92" stop-opacity="0.09"/><stop offset="1.00" stop-opacity="0.15"/></linearGradient><linearGradient id="g56" x1="0" y1="0" x2="0" y2="1"><stop offset="0.00" stop-opacity="0.17"/><stop offset="0.01" stop-opacity="0.17"/><stop offset="0.10" stop-opacity="0.08"/><stop offset="0.18" stop-opacity="0.00"/><stop offset="0.26" stop-opacity="0.00"/><stop offset="0.34" stop-opacity="0.00"/><stop offset="0.42" stop-opacity="0.00"/><stop offset="0.51" stop-opacity="0.00"/><stop offset="0.59" stop-opacity="0.00"/><stop offset="0.67" stop-opacity="0.00"/><stop offset="0.75" stop-opacity="0.00"/><stop offset="0.84" stop-opacity="0.01"/><stop offset="0.92" stop-opacity="0.11"/><stop offset="1.00" stop-opacity="0.21"/></linearGradient><linearGradient id="g57" x1="0" y1="0" x2="0" y2="1"><stop offset="0.00" stop-opacity="0.15"/><stop offset="0.01" stop-opacity="0.15"/><stop offset="0.10" stop-opacity="0.06"/><stop offset="0.18" stop-opacity="0.00"/><stop offset="0.26" stop-opacity="0.00"/><stop offset="0.34" stop-opacity="0.00"/><stop offset="0.42" stop-opacity="0.00"/><stop offset="0.51" stop-opacity="0.00"/><stop offset="0.59" stop-opacity="0.00"/><stop offset="0.67" stop-opacity="0.00"/><stop offset="0.75" stop-opacity="0.00"/><stop offset="0.84" stop-opacity="0.00"/><stop offset="0.92" stop-opacity="0.09"/><stop offset="1.00" stop-opacity="0.19"/></linearGradient><linearGradient id="g58" x1="0" y1="0" x2="0" y2="1"><stop offset="0.00" stop-opacity="0.11"/><stop offset="0.01" stop-opacity="0.11"/><stop offset="0.10" stop-opacity="0.03"/><stop offset="0.18" stop-opacity="0.00"/><stop offset="0.26" stop-opacity="0.00"/><stop offset="0.34" stop-opacity="0.00"/><stop offset="0.42" stop-opacity="0.00"/><stop offset="0.51" stop-opacity="0.00"/><stop offset="0.59" stop-opacity="0.00"/><stop offset="0.67" stop-opacity="0.00"/><stop offset="0.75" stop-opacity="0.00"/><stop offset="0.84" stop-opacity="0.00"/><stop offset="0.92" stop-opacity="0.06"/><stop offset="1.00" stop-opacity="0.15"/></linearGradient><linearGradient id="g59" x1="0" y1="0" x2="0" y2="1"><stop offset="0.00" stop-opacity="0.11"/><stop offset="0.01" stop-opacity="0.11"/><stop offset="0.10" stop-opacity="0.02"/><stop offset="0.18" stop-opacity="0.00"/><stop offset="0.26" stop-opacity="0.00"/><stop offset="0.34" stop-opacity="0.00"/><stop offset="0.42" stop-opacity="0.00"/><stop offset="0.51" stop-opacity="0.00"/><stop offset="0.59" stop-opacity="0.00"/><stop offset="0.67" stop-opacity="0.00"/><stop offset="0.75" stop-opacity="0.00"/><stop offset="0.84" stop-opacity="0.00"/><stop offset="0.92" stop-opacity="0.05"/><stop offset="1.00" stop-opacity="0.16"/></linearGradient><linearGradient id="g60" x1="0" y1="0" x2="0" y2="1"><stop offset="0.00" stop-opacity="0.05"/><stop offset="0.01" stop-opacity="0.05"/><stop offset="0.10" stop-opacity="0.00"/><stop offset="0.18" stop-opacity="0.00"/><stop offset="0.26" stop-opacity="0.00"/><stop offset="0.34" stop-opacity="0.00"/><stop offset="0.42" stop-opacity="0.00"/><stop offset="0.51" stop-opacity="0.00"/><stop offset="0.59" stop-opacity="0.00"/><stop offset="0.67" stop-opacity="0.00"/><stop offset="0.75" stop-opacity="0.00"/><stop offset="0.84" stop-opacity="0.00"/><stop offset="0.92" stop-opacity="0.02"/><stop offset="1.00" stop-opacity="0.08"/></linearGradient><linearGradient id="g61" x1="0" y1="0" x2="0" y2="1"><stop offset="0.00" stop-opacity="0.06"/><stop offset="0.01" stop-opacity="0.06"/><stop offset="0.10" stop-opacity="0.00"/><stop offset="0.18" stop-opacity="0.00"/><stop offset="0.26" stop-opacity="0.00"/><stop offset="0.34" stop-opacity="0.00"/><stop offset="0.42" stop-opacity="0.00"/><stop offset="0.51" stop-opacity="0.00"/><stop offset="0.59" stop-opacity="0.00"/><stop offset="0.67" stop-opacity="0.00"/><stop offset="0.75" stop-opacity="0.00"/><stop offset="0.84" stop-opacity="0.00"/><stop offset="0.92" stop-opacity="0.01"/><stop offset="1.00" stop-opacity="0.11"/></linearGradient><linearGradient id="g62" x1="0" y1="0" x2="0" y2="1"><stop offset="0.00" stop-opacity="0.02"/><stop offset="0.01" stop-opacity="0.02"/><stop offset="0.10" stop-opacity="0.00"/><stop offset="0.18" stop-opacity="0.00"/><stop offset="0.26" stop-opacity="0.00"/><stop offset="0.34" stop-opacity="0.00"/><stop offset="0.42" stop-opacity="0.00"/><stop offset="0.51" stop-opacity="0.00"/><stop offset="0.59" stop-opacity="0.00"/><stop offset="0.67" stop-opacity="0.00"/><stop offset="0.75" stop-opacity="0.00"/><stop offset="0.84" stop-opacity="0.00"/><stop offset="0.92" stop-opacity="0.00"/><stop offset="1.00" stop-opacity="0.05"/></linearGradient><linearGradient id="g63" x1="0" y1="0" x2="0" y2="1"><stop offset="0.00" stop-opacity="0.03"/><stop offset="0.01" stop-opacity="0.03"/><stop offset="0.10" stop-opacity="0.00"/><stop offset="0.18" stop-opacity="0.00"/><stop offset="0.26" stop-opacity="0.00"/><stop offset="0.34" stop-opacity="0.00"/><stop offset="0.42" stop-opacity="0.00"/><stop offset="0.51" stop-opacity="0.00"/><stop offset="0.59" stop-opacity="0.00"/><stop offset="0.67" stop-opacity="0.00"/><stop offset="0.75" stop-opacity="0.00"/><stop offset="0.84" stop-opacity="0.00"/><stop offset="0.92" stop-opacity="0.00"/><stop offset="1.00" stop-opacity="0.07"/></linearGradient><linearGradient id="g64" x1="0" y1="0" x2="0" y2="1"><stop offset="0.00" stop-opacity="0.01"/><stop offset="0.01" stop-opacity="0.01"/><stop offset="0.10" stop-opacity="0.00"/><stop offset="0.18" stop-opacity="0.00"/><stop offset="0.26" stop-opacity="0.00"/><stop offset="0.34" stop-opacity="0.00"/><stop offset="0.42" stop-opacity="0.00"/><stop offset="0.51" stop-opacity="0.00"/><stop offset="0.59" stop-opacity="0.00"/><stop offset="0.67" stop-opacity="0.00"/><stop offset="0.75" stop-opacity="0.00"/><stop offset="0.84" stop-opacity="0.00"/><stop offset="0.92" stop-opacity="0.00"/><stop offset="1.00" stop-opacity="0.04"/></linearGradient><linearGradient id="g65" x1="0" y1="0" x2="0" y2="1"><stop offset="0.00" stop-opacity="0.00"/><stop offset="0.01" stop-opacity="0.00"/><stop offset="0.10" stop-opacity="0.00"/><stop offset="0.18" stop-opacity="0.00"/><stop offset="0.26" stop-opacity="0.00"/><stop offset="0.34" stop-opacity="0.00"/><stop offset="0.42" stop-opacity="0.00"/><stop offset="0.51" stop-opacity="0.00"/><stop offset="0.59" stop-opacity="0.00"/><stop offset="0.67" stop-opacity="0.00"/><stop offset="0.75" stop-opacity="0.00"/><stop offset="0.84" stop-opacity="0.00"/><stop offset="0.92" stop-opacity="0.00"/><stop offset="1.00" stop-opacity="0.03"/></linearGradient><linearGradient id="g66" x1="0" y1="0" x2="0" y2="1"><stop offset="0.00" stop-opacity="0.02"/><stop offset="0.01" stop-opacity="0.02"/><stop offset="0.10" stop-opacity="0.00"/><stop offset="0.18" stop-opacity="0.00"/><stop offset="0.26" stop-opacity="0.00"/><stop offset="0.34" stop-opacity="0.00"/><stop offset="0.42" stop-opacity="0.00"/><stop offset="0.51" stop-opacity="0.00"/><stop offset="0.59" stop-opacity="0.00"/><stop offset="0.67" stop-opacity="0.00"/><stop offset="0.75" stop-opacity="0.00"/><stop offset="0.84" stop-opacity="0.00"/><stop offset="0.92" stop-opacity="0.00"/><stop offset="1.00" stop-opacity="0.01"/></linearGradient><linearGradient id="g67" x1="0" y1="0" x2="0" y2="1"><stop offset="0.00" stop-opacity="0.03"/><stop offset="0.01" stop-opacity="0.03"/><stop offset="0.10" stop-opacity="0.00"/><stop offset="0.18" stop-opacity="0.00"/><stop offset="0.26" stop-opacity="0.00"/><stop offset="0.34" stop-opacity="0.00"/><stop offset="0.42" stop-opacity="0.00"/><stop offset="0.51" stop-opacity="0.00"/><stop offset="0.59" stop-opacity="0.00"/><stop offset="0.67" stop-opacity="0.00"/><stop offset="0.75" stop-opacity="0.00"/><stop offset="0.84" stop-opacity="0.00"/><stop offset="0.92" stop-opacity="0.00"/><stop offset="1.00" stop-opacity="0.02"/></linearGradient><linearGradient id="g68" x1="0" y1="0" x2="0" y2="1"><stop offset="0.00" stop-opacity="0.03"/><stop offset="0.01" stop-opacity="0.03"/><stop offset="0.10" stop-opacity="0.00"/><stop offset="0.18" stop-opacity="0.00"/><stop offset="0.26" stop-opacity="0.00"/><stop offset="0.34" stop-opacity="0.00"/><stop offset="0.42" stop-opacity="0.00"/><stop offset="0.51" stop-opacity="0.00"/><stop offset="0.59" stop-opacity="0.00"/><stop offset="0.67" stop-opacity="0.00"/><stop offset="0.75" stop-opacity="0.00"/><stop offset="0.84" stop-opacity="0.00"/><stop offset="0.92" stop-opacity="0.00"/><stop offset="1.00" stop-opacity="0.01"/></linearGradient><linearGradient id="g69" x1="0" y1="0" x2="0" y2="1"><stop offset="0.00" stop-opacity="0.03"/><stop offset="0.01" stop-opacity="0.03"/><stop offset="0.10" stop-opacity="0.00"/><stop offset="0.18" stop-opacity="0.00"/><stop offset="0.26" stop-opacity="0.00"/><stop offset="0.34" stop-opacity="0.00"/><stop offset="0.42" stop-opacity="0.00"/><stop offset="0.51" stop-opacity="0.00"/><stop offset="0.59" stop-opacity="0.00"/><stop offset="0.67" stop-opacity="0.00"/><stop offset="0.75" stop-opacity="0.00"/><stop offset="0.84" stop-opacity="0.00"/><stop offset="0.92" stop-opacity="0.00"/><stop offset="1.00" stop-opacity="0.02"/></linearGradient><linearGradient id="g70" x1="0" y1="0" x2="0" y2="1"><stop offset="0.00" stop-opacity="0.11"/><stop offset="0.01" stop-opacity="0.11"/><stop offset="0.10" stop-opacity="0.00"/><stop offset="0.18" stop-opacity="0.00"/><stop offset="0.26" stop-opacity="0.00"/><stop offset="0.34" stop-opacity="0.00"/><stop offset="0.42" stop-opacity="0.00"/><stop offset="0.51" stop-opacity="0.00"/><stop offset="0.59" stop-opacity="0.00"/><stop offset="0.67" stop-opacity="0.00"/><stop offset="0.75" stop-opacity="0.00"/><stop offset="0.84" stop-opacity="0.00"/><stop offset="0.92" stop-opacity="0.00"/><stop offset="1.00" stop-opacity="0.07"/></linearGradient><linearGradient id="g71" x1="0" y1="0" x2="0" y2="1"><stop offset="0.00" stop-opacity="0.09"/><stop offset="0.01" stop-opacity="0.09"/><stop offset="0.10" stop-opacity="0.00"/><stop offset="0.18" stop-opacity="0.00"/><stop offset="0.26" stop-opacity="0.00"/><stop offset="0.34" stop-opacity="0.00"/><stop offset="0.42" stop-opacity="0.00"/><stop offset="0.51" stop-opacity="0.00"/><stop offset="0.59" stop-opacity="0.00"/><stop offset="0.67" stop-opacity="0.00"/><stop offset="0.75" stop-opacity="0.00"/><stop offset="0.84" stop-opacity="0.00"/><stop offset="0.92" stop-opacity="0.00"/><stop offset="1.00" stop-opacity="0.07"/></linearGradient><linearGradient id="g72" x1="0" y1="0" x2="0" y2="1"><stop offset="0.00" stop-opacity="0.07"/><stop offset="0.01" stop-opacity="0.07"/><stop offset="0.10" stop-opacity="0.00"/><stop offset="0.18" stop-opacity="0.00"/><stop offset="0.26" stop-opacity="0.00"/><stop offset="0.34" stop-opacity="0.00"/><stop offset="0.42" stop-opacity="0.00"/><stop offset="0.51" stop-opacity="0.00"/><stop offset="0.59" stop-opacity="0.00"/><stop offset="0.67" stop-opacity="0.00"/><stop offset="0.75" stop-opacity="0.00"/><stop offset="0.84" stop-opacity="0.00"/><stop offset="0.92" stop-opacity="0.00"/><stop offset="1.00" stop-opacity="0.05"/></linearGradient><linearGradient id="g73" x1="0" y1="0" x2="0" y2="1"><stop offset="0.00" stop-opacity="0.10"/><stop offset="0.01" stop-opacity="0.10"/><stop offset="0.10" stop-opacity="0.00"/><stop offset="0.18" stop-opacity="0.00"/><stop offset="0.26" stop-opacity="0.00"/><stop offset="0.34" stop-opacity="0.00"/><stop offset="0.42" stop-opacity="0.00"/><stop offset="0.51" stop-opacity="0.00"/><stop offset="0.59" stop-opacity="0.00"/><stop offset="0.67" stop-opacity="0.00"/><stop offset="0.75" stop-opacity="0.00"/><stop offset="0.84" stop-opacity="0.00"/><stop offset="0.92" stop-opacity="0.00"/><stop offset="1.00" stop-opacity="0.08"/></linearGradient><linearGradient id="g74" x1="0" y1="0" x2="0" y2="1"><stop offset="0.00" stop-opacity="0.17"/><stop offset="0.01" stop-opacity="0.17"/><stop offset="0.10" stop-opacity="0.02"/><stop offset="0.18" stop-opacity="0.00"/><stop offset="0.26" stop-opacity="0.00"/><stop offset="0.34" stop-opacity="0.00"/><stop offset="0.42" stop-opacity="0.00"/><stop offset="0.51" stop-opacity="0.00"/><stop offset="0.59" stop-opacity="0.00"/><stop offset="0.67" stop-opacity="0.00"/><stop offset="0.75" stop-opacity="0.00"/><stop offset="0.84" stop-opacity="0.00"/><stop offset="0.92" stop-opacity="0.01"/><stop offset="1.00" stop-opacity="0.14"/></linearGradient><linearGradient id="g75" x1="0" y1="0" x2="0" y2="1"><stop offset="0.00" stop-opacity="0.18"/><stop offset="0.01" stop-opacity="0.18"/><stop offset="0.10" stop-opacity="0.03"/><stop offset="0.18" stop-opacity="0.00"/><stop offset="0.26" stop-opacity="0.00"/><stop offset="0.34" stop-opacity="0.00"/><stop offset="0.42" stop-opacity="0.00"/><stop offset="0.51" stop-opacity="0.00"/><stop offset="0.59" stop-opacity="0.00"/><stop offset="0.67" stop-opacity="0.00"/><stop offset="0.75" stop-opacity="0.00"/><stop offset="0.84" stop-opacity="0.00"/><stop offset="0.92" stop-opacity="0.03"/><stop offset="1.00" stop-opacity="0.15"/></linearGradient><linearGradient id="g76" x1="0" y1="0" x2="0" y2="1"><stop offset="0.00" stop-opacity="0.19"/><stop offset="0.01" stop-opacity="0.19"/><stop offset="0.10" stop-opacity="0.05"/><stop offset="0.18" stop-opacity="0.00"/><stop offset="0.26" stop-opacity="0.00"/><stop offset="0.34" stop-opacity="0.00"/><stop offset="0.42" stop-opacity="0.00"/><stop offset="0.51" stop-opacity="0.00"/><stop offset="0.59" stop-opacity="0.00"/><stop offset="0.67" stop-opacity="0.00"/><stop offset="0.75" stop-opacity="0.00"/><stop offset="0.84" stop-opacity="0.00"/><stop offset="0.92" stop-opacity="0.05"/><stop offset="1.00" stop-opacity="0.16"/></linearGradient><linearGradient id="g77" x1="0" y1="0" x2="0" y2="1"><stop offset="0.00" stop-opacity="0.14"/><stop offset="0.01" stop-opacity="0.14"/><stop offset="0.10" stop-opacity="0.04"/><stop offset="0.18" stop-opacity="0.00"/><stop offset="0.26" stop-opacity="0.00"/><stop offset="0.34" stop-opacity="0.00"/><stop offset="0.42" stop-opacity="0.00"/><stop offset="0.51" stop-opacity="0.00"/><stop offset="0.59" stop-opacity="0.00"/><stop offset="0.67" stop-opacity="0.00"/><stop offset="0.75" stop-opacity="0.00"/><stop offset="0.84" stop-opacity="0.00"/><stop offset="0.92" stop-opacity="0.04"/><stop offset="1.00" stop-opacity="0.12"/></linearGradient><linearGradient id="g78" x1="0" y1="0" x2="0" y2="1"><stop offset="0.00" stop-opacity="0.17"/><stop offset="0.01" stop-opacity="0.17"/><stop offset="0.10" stop-opacity="0.06"/><stop offset="0.18" stop-opacity="0.00"/><stop offset="0.26" stop-opacity="0.00"/><stop offset="0.34" stop-opacity="0.00"/><stop offset="0.42" stop-opacity="0.00"/><stop offset="0.51" stop-opacity="0.00"/><stop offset="0.59" stop-opacity="0.00"/><stop offset="0.67" stop-opacity="0.00"/><stop offset="0.75" stop-opacity="0.00"/><stop offset="0.84" stop-opacity="0.00"/><stop offset="0.92" stop-opacity="0.06"/><stop offset="1.00" stop-opacity="0.14"/></linearGradient><linearGradient id="g79" x1="0" y1="0" x2="0" y2="1"><stop offset="0.00" stop-opacity="0.21"/><stop offset="0.01" stop-opacity="0.21"/><stop offset="0.10" stop-opacity="0.09"/><stop offset="0.18" stop-opacity="0.00"/><stop offset="0.26" stop-opacity="0.00"/><stop offset="0.34" stop-opacity="0.00"/><stop offset="0.42" stop-opacity="0.00"/><stop offset="0.51" stop-opacity="0.00"/><stop offset="0.59" stop-opacity="0.00"/><stop offset="0.67" stop-opacity="0.00"/><stop offset="0.75" stop-opacity="0.00"/><stop offset="0.84" stop-opacity="0.00"/><stop offset="0.92" stop-opacity="0.08"/><stop offset="1.00" stop-opacity="0.18"/></linearGradient><linearGradient id="g80" x1="0" y1="0" x2="0" y2="1"><stop offset="0.00" stop-opacity="0.12"/><stop offset="0.01" stop-opacity="0.12"/><stop offset="0.10" stop-opacity="0.05"/><stop offset="0.18" stop-opacity="0.00"/><stop offset="0.26" stop-opacity="0.00"/><stop offset="0.34" stop-opacity="0.00"/><stop offset="0.42" stop-opacity="0.00"/><stop offset="0.51" stop-opacity="0.00"/><stop offset="0.59" stop-opacity="0.00"/><stop offset="0.67" stop-opacity="0.00"/><stop offset="0.75" stop-opacity="0.00"/><stop offset="0.84" stop-opacity="0.00"/><stop offset="0.92" stop-opacity="0.05"/><stop offset="1.00" stop-opacity="0.10"/></linearGradient><linearGradient id="g81" x1="0" y1="0" x2="0" y2="1"><stop offset="0.00" stop-opacity="0.22"/><stop offset="0.01" stop-opacity="0.22"/><stop offset="0.10" stop-opacity="0.11"/><stop offset="0.18" stop-opacity="0.00"/><stop offset="0.26" stop-opacity="0.00"/><stop offset="0.34" stop-opacity="0.00"/><stop offset="0.42" stop-opacity="0.00"/><stop offset="0.51" stop-opacity="0.00"/><stop offset="0.59" stop-opacity="0.00"/><stop offset="0.67" stop-opacity="0.00"/><stop offset="0.75" stop-opacity="0.00"/><stop offset="0.84" stop-opacity="0.01"/><stop offset="0.92" stop-opacity="0.10"/><stop offset="1.00" stop-opacity="0.19"/></linearGradient><linearGradient id="g82" x1="0" y1="0" x2="0" y2="1"><stop offset="0.00" stop-opacity="0.18"/><stop offset="0.01" stop-opacity="0.18"/><stop offset="0.10" stop-opacity="0.09"/><stop offset="0.18" stop-opacity="0.00"/><stop offset="0.26" stop-opacity="0.00"/><stop offset="0.34" stop-opacity="0.00"/><stop offset="0.42" stop-opacity="0.00"/><stop offset="0.51" stop-opacity="0.00"/><stop offset="0.59" stop-opacity="0.00"/><stop offset="0.67" stop-opacity="0.00"/><stop offset="0.75" stop-opacity="0.00"/><stop offset="0.84" stop-opacity="0.02"/><stop offset="0.92" stop-opacity="0.09"/><stop offset="1.00" stop-opacity="0.15"/></linearGradient><linearGradient id="g83" x1="0" y1="0" x2="0" y2="1"><stop offset="0.00" stop-opacity="0.31"/><stop offset="0.01" stop-opacity="0.31"/><stop offset="0.10" stop-opacity="0.18"/><stop offset="0.18" stop-opacity="0.02"/><stop offset="0.26" stop-opacity="0.00"/><stop offset="0.34" stop-opacity="0.00"/><stop offset="0.42" stop-opacity="0.00"/><stop offset="0.51" stop-opacity="0.00"/><stop offset="0.59" stop-opacity="0.00"/><stop offset="0.67" stop-opacity="0.00"/><stop offset="0.75" stop-opacity="0.00"/><stop offset="0.84" stop-opacity="0.05"/><stop offset="0.92" stop-opacity="0.17"/><stop offset="1.00" stop-opacity="0.28"/></linearGradient><linearGradient id="g84" x1="0" y1="0" x2="0" y2="1"><stop offset="0.00" stop-opacity="0.16"/><stop offset="0.01" stop-opacity="0.16"/><stop offset="0.10" stop-opacity="0.09"/><stop offset="0.18" stop-opacity="0.02"/><stop offset="0.26" stop-opacity="0.00"/><stop offset="0.34" stop-opacity="0.00"/><stop offset="0.42" stop-opacity="0.00"/><stop offset="0.51" stop-opacity="0.00"/><stop offset="0.59" stop-opacity="0.00"/><stop offset="0.67" stop-opacity="0.00"/><stop offset="0.75" stop-opacity="0.00"/><stop offset="0.84" stop-opacity="0.03"/><stop offset="0.92" stop-opacity="0.08"/><stop offset="1.00" stop-opacity="0.14"/></linearGradient><linearGradient id="g85" x1="0" y1="0" x2="0" y2="1"><stop offset="0.00" stop-opacity="0.30"/><stop offset="0.01" stop-opacity="0.30"/><stop offset="0.10" stop-opacity="0.19"/><stop offset="0.18" stop-opacity="0.06"/><stop offset="0.26" stop-opacity="0.00"/><stop offset="0.34" stop-opacity="0.00"/><stop offset="0.42" stop-opacity="0.00"/><stop offset="0.51" stop-opacity="0.00"/><stop offset="0.59" stop-opacity="0.00"/><stop offset="0.67" stop-opacity="0.00"/><stop offset="0.75" stop-opacity="0.00"/><stop offset="0.84" stop-opacity="0.08"/><stop offset="0.92" stop-opacity="0.18"/><stop offset="1.00" stop-opacity="0.27"/></linearGradient><linearGradient id="g86" x1="0" y1="0" x2="0" y2="1"><stop offset="0.00" stop-opacity="0.36"/><stop offset="0.01" stop-opacity="0.36"/><stop offset="0.10" stop-opacity="0.24"/><stop offset="0.18" stop-opacity="0.09"/><stop offset="0.26" stop-opacity="0.00"/><stop offset="0.34" stop-opacity="0.00"/><stop offset="0.42" stop-opacity="0.00"/><stop offset="0.51" stop-opacity="0.00"/><stop offset="0.59" stop-opacity="0.00"/><stop offset="0.67" stop-opacity="0.00"/><stop offset="0.75" stop-opacity="0.00"/><stop offset="0.84" stop-opacity="0.11"/><stop offset="0.92" stop-opacity="0.23"/><stop offset="1.00" stop-opacity="0.33"/></linearGradient><linearGradient id="g87" x1="0" y1="0" x2="0" y2="1"><stop offset="0.00" stop-opacity="0.23"/><stop offset="0.01" stop-opacity="0.23"/><stop offset="0.10" stop-opacity="0.15"/><stop offset="0.18" stop-opacity="0.06"/><stop offset="0.26" stop-opacity="0.00"/><stop offset="0.34" stop-opacity="0.00"/><stop offset="0.42" stop-opacity="0.00"/><stop offset="0.51" stop-opacity="0.00"/><stop offset="0.59" stop-opacity="0.00"/><stop offset="0.67" stop-opacity="0.00"/><stop offset="0.75" stop-opacity="0.00"/><stop offset="0.84" stop-opacity="0.07"/><stop offset="0.92" stop-opacity="0.14"/><stop offset="1.00" stop-opacity="0.20"/></linearGradient><linearGradient id="g88" x1="0" y1="0" x2="0" y2="1"><stop offset="0.00" stop-opacity="0.40"/><stop offset="0.01" stop-opacity="0.40"/><stop offset="0.10" stop-opacity="0.28"/><stop offset="0.18" stop-opacity="0.13"/><stop offset="0.26" stop-opacity="0.00"/><stop offset="0.34" stop-opacity="0.00"/><stop offset="0.42" stop-opacity="0.00"/><stop offset="0.51" stop-opacity="0.00"/><stop offset="0.59" stop-opacity="0.00"/><stop offset="0.67" stop-opacity="0.00"/><stop offset="0.75" stop-opacity="0.03"/><stop offset="0.84" stop-opacity="0.16"/><stop offset="0.92" stop-opacity="0.27"/><stop offset="1.00" stop-opacity="0.37"/></linearGradient><linearGradient id="g89" x1="0" y1="0" x2="0" y2="1"><stop offset="0.00" stop-opacity="0.42"/><stop offset="0.01" stop-opacity="0.42"/><stop offset="0.10" stop-opacity="0.30"/><stop offset="0.18" stop-opacity="0.15"/><stop offset="0.26" stop-opacity="0.00"/><stop offset="0.34" stop-opacity="0.00"/><stop offset="0.42" stop-opacity="0.00"/><stop offset="0.51" stop-opacity="0.00"/><stop offset="0.59" stop-opacity="0.00"/><stop offset="0.67" stop-opacity="0.00"/><stop offset="0.75" stop-opacity="0.05"/><stop offset="0.84" stop-opacity="0.18"/><stop offset="0.92" stop-opacity="0.29"/><stop offset="1.00" stop-opacity="0.38"/></linearGradient><linearGradient id="g90" x1="0" y1="0" x2="0" y2="1"><stop offset="0.00" stop-opacity="0.21"/><stop offset="0.01" stop-opacity="0.21"/><stop offset="0.10" stop-opacity="0.14"/><stop offset="0.18" stop-opacity="0.07"/><stop offset="0.26" stop-opacity="0.00"/><stop offset="0.34" stop-opacity="0.00"/><stop offset="0.42" stop-opacity="0.00"/><stop offset="0.51" stop-opacity="0.00"/><stop offset="0.59" stop-opacity="0.00"/><stop offset="0.67" stop-opacity="0.00"/><stop offset="0.75" stop-opacity="0.03"/><stop offset="0.84" stop-opacity="0.08"/><stop offset="0.92" stop-opacity="0.14"/><stop offset="1.00" stop-opacity="0.19"/></linearGradient><linearGradient id="g91" x1="0" y1="0" x2="0" y2="1"><stop offset="0.00" stop-opacity="0.41"/><stop offset="0.01" stop-opacity="0.41"/><stop offset="0.10" stop-opacity="0.30"/><stop offset="0.18" stop-opacity="0.18"/><stop offset="0.26" stop-opacity="0.03"/><stop offset="0.34" stop-opacity="0.00"/><stop offset="0.42" stop-opacity="0.00"/><stop offset="0.51" stop-opacity="0.00"/><stop offset="0.59" stop-opacity="0.00"/><stop offset="0.67" stop-opacity="0.00"/><stop offset="0.75" stop-opacity="0.09"/><stop offset="0.84" stop-opacity="0.20"/><stop offset="0.92" stop-opacity="0.29"/><stop offset="1.00" stop-opacity="0.38"/></linearGradient><linearGradient id="g92" x1="0" y1="0" x2="0" y2="1"><stop offset="0.00" stop-opacity="0.23"/><stop offset="0.01" stop-opacity="0.23"/><stop offset="0.10" stop-opacity="0.16"/><stop offset="0.18" stop-opacity="0.09"/><stop offset="0.26" stop-opacity="0.02"/><stop offset="0.34" stop-opacity="0.00"/><stop offset="0.42" stop-opacity="0.00"/><stop offset="0.51" stop-opacity="0.00"/><stop offset="0.59" stop-opacity="0.00"/><stop offset="0.67" stop-opacity="0.00"/><stop offset="0.75" stop-opacity="0.05"/><stop offset="0.84" stop-opacity="0.10"/><stop offset="0.92" stop-opacity="0.15"/><stop offset="1.00" stop-opacity="0.20"/></linearGradient><linearGradient id="g93" x1="0" y1="0" x2="0" y2="1"><stop offset="0.00" stop-opacity="0.38"/><stop offset="0.01" stop-opacity="0.38"/><stop offset="0.10" stop-opacity="0.29"/><stop offset="0.18" stop-opacity="0.19"/><stop offset="0.26" stop-opacity="0.07"/><stop offset="0.34" stop-opacity="0.00"/><stop offset="0.42" stop-opacity="0.00"/><stop offset="0.51" stop-opacity="0.00"/><stop offset="0.59" stop-opacity="0.00"/><stop offset="0.67" stop-opacity="0.01"/><stop offset="0.75" stop-opacity="0.11"/><stop offset="0.84" stop-opacity="0.20"/><stop offset="0.92" stop-opacity="0.28"/><stop offset="1.00" stop-opacity="0.35"/></linearGradient><linearGradient id="g94" x1="0" y1="0" x2="0" y2="1"><stop offset="0.00" stop-opacity="0.38"/><stop offset="0.01" stop-opacity="0.38"/><stop offset="0.10" stop-opacity="0.29"/><stop offset="0.18" stop-opacity="0.19"/><stop offset="0.26" stop-opacity="0.08"/><stop offset="0.34" stop-opacity="0.00"/><stop offset="0.42" stop-opacity="0.00"/><stop offset="0.51" stop-opacity="0.00"/><stop offset="0.59" stop-opacity="0.00"/><stop offset="0.67" stop-opacity="0.03"/><stop offset="0.75" stop-opacity="0.12"/><stop offset="0.84" stop-opacity="0.21"/><stop offset="0.92" stop-opacity="0.28"/><stop offset="1.00" stop-opacity="0.35"/></linearGradient><linearGradient id="g95" x1="0" y1="0" x2="0" y2="1"><stop offset="0.00" stop-opacity="0.32"/><stop offset="0.01" stop-opacity="0.32"/><stop offset="0.10" stop-opacity="0.25"/><stop offset="0.18" stop-opacity="0.17"/><stop offset="0.26" stop-opacity="0.08"/><stop offset="0.34" stop-opacity="0.00"/><stop offset="0.42" stop-opacity="0.00"/><stop offset="0.51" stop-opacity="0.00"/><stop offset="0.59" stop-opacity="0.00"/><stop offset="0.67" stop-opacity="0.04"/><stop offset="0.75" stop-opacity="0.11"/><stop offset="0.84" stop-opacity="0.18"/><stop offset="0.92" stop-opacity="0.24"/><stop offset="1.00" stop-opacity="0.30"/></linearGradient><linearGradient id="g96" x1="0" y1="0" x2="0" y2="1"><stop offset="0.00" stop-opacity="0.37"/><stop offset="0.01" stop-opacity="0.37"/><stop offset="0.10" stop-opacity="0.30"/><stop offset="0.18" stop-opacity="0.21"/><stop offset="0.26" stop-opacity="0.11"/><stop offset="0.34" stop-opacity="0.01"/><stop offset="0.42" stop-opacity="0.00"/><stop offset="0.51" stop-opacity="0.00"/><stop offset="0.59" stop-opacity="0.00"/><stop offset="0.67" stop-opacity="0.06"/><stop offset="0.75" stop-opacity="0.14"/><stop offset="0.84" stop-opacity="0.22"/><stop offset="0.92" stop-opacity="0.29"/><stop offset="1.00" stop-opacity="0.35"/></linearGradient><linearGradient id="g97" x1="0" y1="0" x2="0" y2="1"><stop offset="0.00" stop-opacity="0.54"/><stop offset="0.01" stop-opacity="0.54"/><stop offset="0.10" stop-opacity="0.45"/><stop offset="0.18" stop-opacity="0.33"/><stop offset="0.26" stop-opacity="0.19"/><stop offset="0.34" stop-opacity="0.04"/><stop offset="0.42" stop-opacity="0.00"/><stop offset="0.51" stop-opacity="0.00"/><stop offset="0.59" stop-opacity="0.00"/><stop offset="0.67" stop-opacity="0.12"/><stop offset="0.75" stop-opacity="0.24"/><stop offset="0.84" stop-opacity="0.35"/><stop offset="0.92" stop-opacity="0.44"/><stop offset="1.00" stop-opacity="0.51"/></linearGradient><linearGradient id="g98" x1="0" y1="0" x2="0" y2="1"><stop offset="0.00" stop-opacity="0.40"/><stop offset="0.01" stop-opacity="0.40"/><stop offset="0.10" stop-opacity="0.33"/><stop offset="0.18" stop-opacity="0.24"/><stop offset="0.26" stop-opacity="0.15"/><stop offset="0.34" stop-opacity="0.04"/><stop offset="0.42" stop-opacity="0.00"/><stop offset="0.51" stop-opacity="0.00"/><stop offset="0.59" stop-opacity="0.02"/><stop offset="0.67" stop-opacity="0.10"/><stop offset="0.75" stop-opacity="0.18"/><stop offset="0.84" stop-opacity="0.25"/><stop offset="0.92" stop-opacity="0.32"/><stop offset="1.00" stop-opacity="0.37"/></linearGradient><linearGradient id="g99" x1="0" y1="0" x2="0" y2="1"><stop offset="0.00" stop-opacity="0.36"/><stop offset="0.01" stop-opacity="0.36"/><stop offset="0.10" stop-opacity="0.30"/><stop offset="0.18" stop-opacity="0.22"/><stop offset="0.26" stop-opacity="0.14"/><stop offset="0.34" stop-opacity="0.05"/><stop offset="0.42" stop-opacity="0.00"/><stop offset="0.51" stop-opacity="0.00"/><stop offset="0.59" stop-opacity="0.03"/><stop offset="0.67" stop-opacity="0.10"/><stop offset="0.75" stop-opacity="0.16"/><stop offset="0.84" stop-opacity="0.23"/><stop offset="0.92" stop-opacity="0.29"/><stop offset="1.00" stop-opacity="0.34"/></linearGradient><linearGradient id="g100" x1="0" y1="0" x2="0" y2="1"><stop offset="0.00" stop-opacity="0.56"/><stop offset="0.01" stop-opacity="0.56"/><stop offset="0.10" stop-opacity="0.48"/><stop offset="0.18" stop-opacity="0.38"/><stop offset="0.26" stop-opacity="0.26"/><stop offset="0.34" stop-opacity="0.12"/><stop offset="0.42" stop-opacity="0.00"/><stop offset="0.51" stop-opacity="0.00"/><stop offset="0.59" stop-opacity="0.09"/><stop offset="0.67" stop-opacity="0.20"/><stop offset="0.75" stop-opacity="0.30"/><stop offset="0.84" stop-opacity="0.39"/><stop offset="0.92" stop-opacity="0.47"/><stop offset="1.00" stop-opacity="0.53"/></linearGradient><linearGradient id="g101" x1="0" y1="0" x2="0" y2="1"><stop offset="0.00" stop-opacity="0.50"/><stop offset="0.01" stop-opacity="0.50"/><stop offset="0.10" stop-opacity="0.43"/><stop offset="0.18" stop-opacity="0.34"/><stop offset="0.26" stop-opacity="0.24"/><stop offset="0.34" stop-opacity="0.12"/><stop offset="0.42" stop-opacity="0.03"/><stop offset="0.51" stop-opacity="0.02"/><stop offset="0.59" stop-opacity="0.09"/><stop offset="0.67" stop-opacity="0.18"/><stop offset="0.75" stop-opacity="0.27"/><stop offset="0.84" stop-opacity="0.34"/><stop offset="0.92" stop-opacity="0.41"/><stop offset="1.00" stop-opacity="0.47"/></linearGradient><linearGradient id="g102" x1="0" y1="0" x2="0" y2="1"><stop offset="0.00" stop-opacity="0.64"/><stop offset="0.01" stop-opacity="0.64"/><stop offset="0.10" stop-opacity="0.56"/><stop offset="0.18" stop-opacity="0.46"/><stop offset="0.26" stop-opacity="0.34"/><stop offset="0.34" stop-opacity="0.20"/><stop offset="0.42" stop-opacity="0.07"/><stop offset="0.51" stop-opacity="0.07"/><stop offset="0.59" stop-opacity="0.16"/><stop offset="0.67" stop-opacity="0.27"/><stop offset="0.75" stop-opacity="0.38"/><stop offset="0.84" stop-opacity="0.47"/><stop offset="0.92" stop-opacity="0.54"/><stop offset="1.00" stop-opacity="0.60"/></linearGradient><linearGradient id="g103" x1="0" y1="0" x2="0" y2="1"><stop offset="0.00" stop-opacity="0.45"/><stop offset="0.01" stop-opacity="0.45"/><stop offset="0.10" stop-opacity="0.39"/><stop offset="0.18" stop-opacity="0.32"/><stop offset="0.26" stop-opacity="0.23"/><stop offset="0.34" stop-opacity="0.14"/><stop offset="0.42" stop-opacity="0.06"/><stop offset="0.51" stop-opacity="0.06"/><stop offset="0.59" stop-opacity="0.12"/><stop offset="0.67" stop-opacity="0.19"/><stop offset="0.75" stop-opacity="0.26"/><stop offset="0.84" stop-opacity="0.32"/><stop offset="0.92" stop-opacity="0.38"/><stop offset="1.00" stop-opacity="0.42"/></linearGradient><linearGradient id="g104" x1="0" y1="0" x2="0" y2="1"><stop offset="0.00" stop-opacity="0.50"/><stop offset="0.01" stop-opacity="0.50"/><stop offset="0.10" stop-opacity="0.44"/><stop offset="0.18" stop-opacity="0.37"/><stop offset="0.26" stop-opacity="0.28"/><stop offset="0.34" stop-opacity="0.18"/><stop offset="0.42" stop-opacity="0.10"/><stop offset="0.51" stop-opacity="0.09"/><stop offset="0.59" stop-opacity="0.15"/><stop offset="0.67" stop-opacity="0.23"/><stop offset="0.75" stop-opacity="0.30"/><stop offset="0.84" stop-opacity="0.37"/><stop offset="0.92" stop-opacity="0.42"/><stop offset="1.00" stop-opacity="0.47"/></linearGradient><linearGradient id="g105" x1="0" y1="0" x2="0" y2="1"><stop offset="0.00" stop-opacity="0.69"/><stop offset="0.01" stop-opacity="0.69"/><stop offset="0.10" stop-opacity="0.63"/><stop offset="0.18" stop-opacity="0.54"/><stop offset="0.26" stop-opacity="0.43"/><stop offset="0.34" stop-opacity="0.31"/><stop offset="0.42" stop-opacity="0.19"/><stop offset="0.51" stop-opacity="0.18"/><stop offset="0.59" stop-opacity="0.27"/><stop offset="0.67" stop-opacity="0.37"/><stop offset="0.75" stop-opacity="0.46"/><stop offset="0.84" stop-opacity="0.54"/><stop offset="0.92" stop-opacity="0.61"/><stop offset="1.00" stop-opacity="0.66"/></linearGradient><linearGradient id="g106" x1="0" y1="0" x2="0" y2="1"><stop offset="0.00" stop-opacity="0.60"/><stop offset="0.01" stop-opacity="0.60"/><stop offset="0.10" stop-opacity="0.54"/><stop offset="0.18" stop-opacity="0.47"/><stop offset="0.26" stop-opacity="0.38"/><stop offset="0.34" stop-opacity="0.28"/><stop offset="0.42" stop-opacity="0.18"/><stop offset="0.51" stop-opacity="0.18"/><stop offset="0.59" stop-opacity="0.25"/><stop offset="0.67" stop-opacity="0.33"/><stop offset="0.75" stop-opacity="0.40"/><stop offset="0.84" stop-opacity="0.47"/><stop offset="0.92" stop-opacity="0.53"/><stop offset="1.00" stop-opacity="0.57"/></linearGradient><linearGradient id="g107" x1="0" y1="0" x2="0" y2="1"><stop offset="0.00" stop-opacity="0.62"/><stop offset="0.01" stop-opacity="0.62"/><stop offset="0.10" stop-opacity="0.57"/><stop offset="0.18" stop-opacity="0.50"/><stop offset="0.26" stop-opacity="0.41"/><stop offset="0.34" stop-opacity="0.31"/><stop offset="0.42" stop-opacity="0.22"/><stop offset="0.51" stop-opacity="0.21"/><stop offset="0.59" stop-opacity="0.28"/><stop offset="0.67" stop-opacity="0.36"/><stop offset="0.75" stop-opacity="0.43"/><stop offset="0.84" stop-opacity="0.49"/><stop offset="0.92" stop-opacity="0.55"/><stop offset="1.00" stop-opacity="0.59"/></linearGradient><linearGradient id="g108" x1="0" y1="0" x2="0" y2="1"><stop offset="0.00" stop-opacity="0.53"/><stop offset="0.01" stop-opacity="0.53"/><stop offset="0.10" stop-opacity="0.49"/><stop offset="0.18" stop-opacity="0.43"/><stop offset="0.26" stop-opacity="0.35"/><stop offset="0.34" stop-opacity="0.27"/><stop offset="0.42" stop-opacity="0.19"/><stop offset="0.51" stop-opacity="0.19"/><stop offset="0.59" stop-opacity="0.24"/><stop offset="0.67" stop-opacity="0.31"/><stop offset="0.75" stop-opacity="0.37"/><stop offset="0.84" stop-opacity="0.42"/><stop offset="0.92" stop-opacity="0.47"/><stop offset="1.00" stop-opacity="0.50"/></linearGradient><linearGradient id="g109" x1="0" y1="0" x2="0" y2="1"><stop offset="0.00" stop-opacity="0.46"/><stop offset="0.01" stop-opacity="0.46"/><stop offset="0.10" stop-opacity="0.42"/><stop offset="0.18" stop-opacity="0.37"/><stop offset="0.26" stop-opacity="0.31"/><stop offset="0.34" stop-opacity="0.24"/><stop offset="0.42" stop-opacity="0.17"/><stop offset="0.51" stop-opacity="0.17"/><stop offset="0.59" stop-opacity="0.21"/><stop offset="0.67" stop-opacity="0.27"/><stop offset="0.75" stop-opacity="0.32"/><stop offset="0.84" stop-opacity="0.36"/><stop offset="0.92" stop-opacity="0.40"/><stop offset="1.00" stop-opacity="0.44"/></linearGradient><linearGradient id="g110" x1="0" y1="0" x2="0" y2="1"><stop offset="0.00" stop-opacity="0.85"/><stop offset="0.01" stop-opacity="0.85"/><stop offset="0.10" stop-opacity="0.79"/><stop offset="0.18" stop-opacity="0.73"/><stop offset="0.26" stop-opacity="0.64"/><stop offset="0.34" stop-opacity="0.54"/><stop offset="0.42" stop-opacity="0.44"/><stop offset="0.51" stop-opacity="0.43"/><stop offset="0.59" stop-opacity="0.50"/><stop offset="0.67" stop-opacity="0.59"/><stop offset="0.75" stop-opacity="0.66"/><stop offset="0.84" stop-opacity="0.72"/><stop offset="0.92" stop-opacity="0.77"/><stop offset="1.00" stop-opacity="0.81"/></linearGradient><linearGradient id="g111" x1="0" y1="0" x2="0" y2="1"><stop offset="0.00" stop-opacity="0.53"/><stop offset="0.01" stop-opacity="0.53"/><stop offset="0.10" stop-opacity="0.49"/><stop offset="0.18" stop-opacity="0.44"/><stop offset="0.26" stop-opacity="0.38"/><stop offset="0.34" stop-opacity="0.31"/><stop offset="0.42" stop-opacity="0.25"/><stop offset="0.51" stop-opacity="0.24"/><stop offset="0.59" stop-opacity="0.29"/><stop offset="0.67" stop-opacity="0.34"/><stop offset="0.75" stop-opacity="0.39"/><stop offset="0.84" stop-opacity="0.43"/><stop offset="0.92" stop-opacity="0.47"/><stop offset="1.00" stop-opacity="0.50"/></linearGradient><linearGradient id="g112" x1="0" y1="0" x2="0" y2="1"><stop offset="0.00" stop-opacity="0.85"/><stop offset="0.01" stop-opacity="0.85"/><stop offset="0.10" stop-opacity="0.81"/><stop offset="0.18" stop-opacity="0.75"/><stop offset="0.26" stop-opacity="0.68"/><stop offset="0.34" stop-opacity="0.60"/><stop offset="0.42" stop-opacity="0.51"/><stop offset="0.51" stop-opacity="0.50"/><stop offset="0.59" stop-opacity="0.56"/><stop offset="0.67" stop-opacity="0.63"/><stop offset="0.75" stop-opacity="0.69"/><stop offset="0.84" stop-opacity="0.74"/><stop offset="0.92" stop-opacity="0.78"/><stop offset="1.00" stop-opacity="0.81"/></linearGradient><linearGradient id="g113" x1="0" y1="0" x2="0" y2="1"><stop offset="0.00" stop-opacity="0.68"/><stop offset="0.01" stop-opacity="0.68"/><stop offset="0.10" stop-opacity="0.64"/><stop offset="0.18" stop-opacity="0.60"/><stop offset="0.26" stop-opacity="0.54"/><stop offset="0.34" stop-opacity="0.47"/><stop offset="0.42" stop-opacity="0.41"/><stop offset="0.51" stop-opacity="0.40"/><stop offset="0.59" stop-opacity="0.45"/><stop offset="0.67" stop-opacity="0.50"/><stop offset="0.75" stop-opacity="0.54"/><stop offset="0.84" stop-opacity="0.58"/><stop offset="0.92" stop-opacity="0.62"/><stop offset="1.00" stop-opacity="0.64"/></linearGradient><linearGradient id="g114" x1="0" y1="0" x2="0" y2="1"><stop offset="0.00" stop-opacity="0.92"/><stop offset="0.01" stop-opacity="0.92"/><stop offset="0.10" stop-opacity="0.90"/><stop offset="0.18" stop-opacity="0.85"/><stop offset="0.26" stop-opacity="0.79"/><stop offset="0.34" stop-opacity="0.72"/><stop offset="0.42" stop-opacity="0.65"/><stop offset="0.51" stop-opacity="0.64"/><stop offset="0.59" stop-opacity="0.69"/><stop offset="0.67" stop-opacity="0.74"/><stop offset="0.75" stop-opacity="0.79"/><stop offset="0.84" stop-opacity="0.84"/><stop offset="0.92" stop-opacity="0.87"/><stop offset="1.00" stop-opacity="0.90"/></linearGradient><linearGradient id="g115" x1="0" y1="0" x2="0" y2="1"><stop offset="0.00" stop-opacity="0.73"/><stop offset="0.01" stop-opacity="0.73"/><stop offset="0.10" stop-opacity="0.70"/><stop offset="0.18" stop-opacity="0.66"/><stop offset="0.26" stop-opacity="0.61"/><stop offset="0.34" stop-opacity="0.56"/><stop offset="0.42" stop-opacity="0.50"/><stop offset="0.51" stop-opacity="0.49"/><stop offset="0.59" stop-opacity="0.53"/><stop offset="0.67" stop-opacity="0.57"/><stop offset="0.75" stop-opacity="0.61"/><stop offset="0.84" stop-opacity="0.64"/><stop offset="0.92" stop-opacity="0.67"/><stop offset="1.00" stop-opacity="0.69"/></linearGradient><linearGradient id="g116" x1="0" y1="0" x2="0" y2="1"><stop offset="0.00" stop-opacity="0.92"/><stop offset="0.01" stop-opacity="0.92"/><stop offset="0.10" stop-opacity="0.92"/><stop offset="0.18" stop-opacity="0.91"/><stop offset="0.26" stop-opacity="0.86"/><stop offset="0.34" stop-opacity="0.80"/><stop offset="0.42" stop-opacity="0.74"/><stop offset="0.51" stop-opacity="0.74"/><stop offset="0.59" stop-opacity="0.77"/><stop offset="0.67" stop-opacity="0.82"/><stop offset="0.75" stop-opacity="0.85"/><stop offset="0.84" stop-opacity="0.89"/><stop offset="0.92" stop-opacity="0.91"/><stop offset="1.00" stop-opacity="0.92"/></linearGradient><linearGradient id="g117" x1="0" y1="0" x2="0" y2="1"><stop offset="0.00" stop-opacity="0.83"/><stop offset="0.01" stop-opacity="0.83"/><stop offset="0.10" stop-opacity="0.81"/><stop offset="0.18" stop-opacity="0.78"/><stop offset="0.26" stop-opacity="0.74"/><stop offset="0.34" stop-opacity="0.70"/><stop offset="0.42" stop-opacity="0.65"/><stop offset="0.51" stop-opacity="0.64"/><stop offset="0.59" stop-opacity="0.67"/><stop offset="0.67" stop-opacity="0.70"/><stop offset="0.75" stop-opacity="0.73"/><stop offset="0.84" stop-opacity="0.76"/><stop offset="0.92" stop-opacity="0.78"/><stop offset="1.00" stop-opacity="0.80"/></linearGradient><linearGradient id="g118" x1="0" y1="0" x2="0" y2="1"><stop offset="0.00" stop-opacity="0.72"/><stop offset="0.01" stop-opacity="0.72"/><stop offset="0.10" stop-opacity="0.70"/><stop offset="0.18" stop-opacity="0.68"/><stop offset="0.26" stop-opacity="0.65"/><stop offset="0.34" stop-opacity="0.61"/><stop offset="0.42" stop-opacity="0.57"/><stop offset="0.51" stop-opacity="0.57"/><stop offset="0.59" stop-opacity="0.59"/><stop offset="0.67" stop-opacity="0.61"/><stop offset="0.75" stop-opacity="0.63"/><stop offset="0.84" stop-opacity="0.65"/><stop offset="0.92" stop-opacity="0.67"/><stop offset="1.00" stop-opacity="0.68"/></linearGradient><linearGradient id="g119" x1="0" y1="0" x2="0" y2="1"><stop offset="0.00" stop-opacity="0.92"/><stop offset="0.01" stop-opacity="0.92"/><stop offset="0.10" stop-opacity="0.92"/><stop offset="0.18" stop-opacity="0.91"/><stop offset="0.26" stop-opacity="0.89"/><stop offset="0.34" stop-opacity="0.86"/><stop offset="0.42" stop-opacity="0.82"/><stop offset="0.51" stop-opacity="0.81"/><stop offset="0.59" stop-opacity="0.83"/><stop offset="0.67" stop-opacity="0.85"/><stop offset="0.75" stop-opacity="0.87"/><stop offset="0.84" stop-opacity="0.89"/><stop offset="0.92" stop-opacity="0.90"/><stop offset="1.00" stop-opacity="0.91"/></linearGradient><linearGradient id="g120" x1="0" y1="0" x2="0" y2="1"><stop offset="0.00" stop-opacity="0.92"/><stop offset="0.01" stop-opacity="0.92"/><stop offset="0.10" stop-opacity="0.92"/><stop offset="0.18" stop-opacity="0.92"/><stop offset="0.26" stop-opacity="0.90"/><stop offset="0.34" stop-opacity="0.87"/><stop offset="0.42" stop-opacity="0.85"/><stop offset="0.51" stop-opacity="0.84"/><stop offset="0.59" stop-opacity="0.85"/><stop offset="0.67" stop-opacity="0.86"/><stop offset="0.75" stop-opacity="0.88"/><stop offset="0.84" stop-opacity="0.89"/><stop offset="0.92" stop-opacity="0.90"/><stop offset="1.00" stop-opacity="0.91"/></linearGradient><linearGradient id="g121" x1="0" y1="0" x2="0" y2="1"><stop offset="0.00" stop-opacity="0.92"/><stop offset="0.01" stop-opacity="0.92"/><stop offset="0.10" stop-opacity="0.92"/><stop offset="0.18" stop-opacity="0.92"/><stop offset="0.26" stop-opacity="0.92"/><stop offset="0.34" stop-opacity="0.92"/><stop offset="0.42" stop-opacity="0.90"/><stop offset="0.51" stop-opacity="0.89"/><stop offset="0.59" stop-opacity="0.90"/><stop offset="0.67" stop-opacity="0.91"/><stop offset="0.75" stop-opacity="0.91"/><stop offset="0.84" stop-opacity="0.92"/><stop offset="0.92" stop-opacity="0.92"/><stop offset="1.00" stop-opacity="0.92"/></linearGradient><linearGradient id="g122" x1="0" y1="0" x2="0" y2="1"><stop offset="0.00" stop-opacity="1.00"/><stop offset="0.01" stop-opacity="1.00"/><stop offset="0.10" stop-opacity="1.00"/><stop offset="0.18" stop-opacity="0.89"/><stop offset="0.26" stop-opacity="0.88"/><stop offset="0.34" stop-opacity="0.87"/><stop offset="0.42" stop-opacity="0.86"/><stop offset="0.51" stop-opacity="0.85"/><stop offset="0.59" stop-opacity="0.85"/><stop offset="0.67" stop-opacity="0.85"/><stop offset="0.75" stop-opacity="0.85"/><stop offset="0.84" stop-opacity="0.85"/><stop offset="0.92" stop-opacity="0.86"/><stop offset="1.00" stop-opacity="0.86"/></linearGradient><linearGradient id="g123" x1="0" y1="0" x2="0" y2="1"><stop offset="0.00" stop-opacity="1.00"/><stop offset="0.01" stop-opacity="1.00"/><stop offset="0.10" stop-opacity="1.00"/><stop offset="0.18" stop-opacity="1.00"/><stop offset="0.26" stop-opacity="1.00"/><stop offset="0.34" stop-opacity="1.00"/><stop offset="0.42" stop-opacity="1.00"/><stop offset="0.51" stop-opacity="1.00"/><stop offset="0.59" stop-opacity="1.00"/><stop offset="0.67" stop-opacity="1.00"/><stop offset="0.75" stop-opacity="0.78"/><stop offset="0.84" stop-opacity="0.78"/><stop offset="0.92" stop-opacity="0.78"/><stop offset="1.00" stop-opacity="0.77"/></linearGradient><linearGradient id="g124" x1="0" y1="0" x2="0" y2="1"><stop offset="0.00" stop-opacity="1.00"/><stop offset="0.01" stop-opacity="1.00"/><stop offset="0.10" stop-opacity="1.00"/><stop offset="0.18" stop-opacity="1.00"/><stop offset="0.26" stop-opacity="1.00"/><stop offset="0.34" stop-opacity="1.00"/><stop offset="0.42" stop-opacity="1.00"/><stop offset="0.51" stop-opacity="1.00"/><stop offset="0.59" stop-opacity="1.00"/><stop offset="0.67" stop-opacity="1.00"/><stop offset="0.75" stop-opacity="1.00"/><stop offset="0.84" stop-opacity="1.00"/><stop offset="0.92" stop-opacity="1.00"/><stop offset="1.00" stop-opacity="1.00"/></linearGradient><linearGradient id="g125" x1="0" y1="0" x2="0" y2="1"><stop offset="0.00" stop-opacity="1.00"/><stop offset="0.01" stop-opacity="1.00"/><stop offset="0.10" stop-opacity="1.00"/><stop offset="0.18" stop-opacity="1.00"/><stop offset="0.26" stop-opacity="1.00"/><stop offset="0.34" stop-opacity="1.00"/><stop offset="0.42" stop-opacity="1.00"/><stop offset="0.51" stop-opacity="1.00"/><stop offset="0.59" stop-opacity="1.00"/><stop offset="0.67" stop-opacity="1.00"/><stop offset="0.75" stop-opacity="1.00"/><stop offset="0.84" stop-opacity="1.00"/><stop offset="0.92" stop-opacity="1.00"/><stop offset="1.00" stop-opacity="1.00"/></linearGradient><linearGradient id="g126" x1="0" y1="0" x2="0" y2="1"><stop offset="0.00" stop-opacity="1.00"/><stop offset="0.01" stop-opacity="1.00"/><stop offset="0.10" stop-opacity="1.00"/><stop offset="0.18" stop-opacity="1.00"/><stop offset="0.26" stop-opacity="1.00"/><stop offset="0.34" stop-opacity="1.00"/><stop offset="0.42" stop-opacity="1.00"/><stop offset="0.51" stop-opacity="1.00"/><stop offset="0.59" stop-opacity="1.00"/><stop offset="0.67" stop-opacity="1.00"/><stop offset="0.75" stop-opacity="1.00"/><stop offset="0.84" stop-opacity="1.00"/><stop offset="0.92" stop-opacity="1.00"/><stop offset="1.00" stop-opacity="1.00"/></linearGradient><linearGradient id="g127" x1="0" y1="0" x2="0" y2="1"><stop offset="0.00" stop-opacity="1.00"/><stop offset="0.01" stop-opacity="1.00"/><stop offset="0.10" stop-opacity="1.00"/><stop offset="0.18" stop-opacity="1.00"/><stop offset="0.26" stop-opacity="1.00"/><stop offset="0.34" stop-opacity="1.00"/><stop offset="0.42" stop-opacity="1.00"/><stop offset="0.51" stop-opacity="1.00"/><stop offset="0.59" stop-opacity="1.00"/><stop offset="0.67" stop-opacity="1.00"/><stop offset="0.75" stop-opacity="1.00"/><stop offset="0.84" stop-opacity="1.00"/><stop offset="0.92" stop-opacity="1.00"/><stop offset="1.00" stop-opacity="1.00"/></linearGradient><linearGradient id="g128" x1="0" y1="0" x2="0" y2="1"><stop offset="0.00" stop-opacity="1.00"/><stop offset="0.01" stop-opacity="1.00"/><stop offset="0.10" stop-opacity="1.00"/><stop offset="0.18" stop-opacity="1.00"/><stop offset="0.26" stop-opacity="1.00"/><stop offset="0.34" stop-opacity="1.00"/><stop offset="0.42" stop-opacity="1.00"/><stop offset="0.51" stop-opacity="1.00"/><stop offset="0.59" stop-opacity="1.00"/><stop offset="0.67" stop-opacity="1.00"/><stop offset="0.75" stop-opacity="0.85"/><stop offset="0.84" stop-opacity="0.84"/><stop offset="0.92" stop-opacity="0.84"/><stop offset="1.00" stop-opacity="0.84"/></linearGradient><linearGradient id="g129" x1="0" y1="0" x2="0" y2="1"><stop offset="0.00" stop-opacity="1.00"/><stop offset="0.01" stop-opacity="1.00"/><stop offset="0.10" stop-opacity="1.00"/><stop offset="0.18" stop-opacity="0.92"/><stop offset="0.26" stop-opacity="0.92"/><stop offset="0.34" stop-opacity="0.92"/><stop offset="0.42" stop-opacity="0.92"/><stop offset="0.51" stop-opacity="0.92"/><stop offset="0.59" stop-opacity="0.92"/><stop offset="0.67" stop-opacity="0.92"/><stop offset="0.75" stop-opacity="0.92"/><stop offset="0.84" stop-opacity="0.92"/><stop offset="0.92" stop-opacity="0.92"/><stop offset="1.00" stop-opacity="0.92"/></linearGradient><linearGradient id="g130" x1="0" y1="0" x2="0" y2="1"><stop offset="0.00" stop-opacity="0.76"/><stop offset="0.01" stop-opacity="0.76"/><stop offset="0.10" stop-opacity="0.75"/><stop offset="0.18" stop-opacity="0.74"/><stop offset="0.26" stop-opacity="0.73"/><stop offset="0.34" stop-opacity="0.71"/><stop offset="0.42" stop-opacity="0.70"/><stop offset="0.51" stop-opacity="0.69"/><stop offset="0.59" stop-opacity="0.69"/><stop offset="0.67" stop-opacity="0.70"/><stop offset="0.75" stop-opacity="0.71"/><stop offset="0.84" stop-opacity="0.71"/><stop offset="0.92" stop-opacity="0.72"/><stop offset="1.00" stop-opacity="0.72"/></linearGradient><linearGradient id="g131" x1="0" y1="0" x2="0" y2="1"><stop offset="0.00" stop-opacity="0.82"/><stop offset="0.01" stop-opacity="0.82"/><stop offset="0.10" stop-opacity="0.81"/><stop offset="0.18" stop-opacity="0.80"/><stop offset="0.26" stop-opacity="0.78"/><stop offset="0.34" stop-opacity="0.75"/><stop offset="0.42" stop-opacity="0.73"/><stop offset="0.51" stop-opacity="0.72"/><stop offset="0.59" stop-opacity="0.73"/><stop offset="0.67" stop-opacity="0.75"/><stop offset="0.75" stop-opacity="0.76"/><stop offset="0.84" stop-opacity="0.77"/><stop offset="0.92" stop-opacity="0.78"/><stop offset="1.00" stop-opacity="0.79"/></linearGradient><linearGradient id="g132" x1="0" y1="0" x2="0" y2="1"><stop offset="0.00" stop-opacity="0.92"/><stop offset="0.01" stop-opacity="0.92"/><stop offset="0.10" stop-opacity="0.92"/><stop offset="0.18" stop-opacity="0.92"/><stop offset="0.26" stop-opacity="0.91"/><stop offset="0.34" stop-opacity="0.88"/><stop offset="0.42" stop-opacity="0.85"/><stop offset="0.51" stop-opacity="0.84"/><stop offset="0.59" stop-opacity="0.86"/><stop offset="0.67" stop-opacity="0.88"/><stop offset="0.75" stop-opacity="0.90"/><stop offset="0.84" stop-opacity="0.91"/><stop offset="0.92" stop-opacity="0.92"/><stop offset="1.00" stop-opacity="0.92"/></linearGradient><linearGradient id="g133" x1="0" y1="0" x2="0" y2="1"><stop offset="0.00" stop-opacity="0.78"/><stop offset="0.01" stop-opacity="0.78"/><stop offset="0.10" stop-opacity="0.76"/><stop offset="0.18" stop-opacity="0.74"/><stop offset="0.26" stop-opacity="0.70"/><stop offset="0.34" stop-opacity="0.67"/><stop offset="0.42" stop-opacity="0.63"/><stop offset="0.51" stop-opacity="0.62"/><stop offset="0.59" stop-opacity="0.64"/><stop offset="0.67" stop-opacity="0.67"/><stop offset="0.75" stop-opacity="0.69"/><stop offset="0.84" stop-opacity="0.71"/><stop offset="0.92" stop-opacity="0.73"/><stop offset="1.00" stop-opacity="0.74"/></linearGradient><linearGradient id="g134" x1="0" y1="0" x2="0" y2="1"><stop offset="0.00" stop-opacity="0.90"/><stop offset="0.01" stop-opacity="0.90"/><stop offset="0.10" stop-opacity="0.87"/><stop offset="0.18" stop-opacity="0.84"/><stop offset="0.26" stop-opacity="0.81"/><stop offset="0.34" stop-opacity="0.76"/><stop offset="0.42" stop-opacity="0.71"/><stop offset="0.51" stop-opacity="0.70"/><stop offset="0.59" stop-opacity="0.73"/><stop offset="0.67" stop-opacity="0.77"/><stop offset="0.75" stop-opacity="0.80"/><stop offset="0.84" stop-opacity="0.82"/><stop offset="0.92" stop-opacity="0.84"/><stop offset="1.00" stop-opacity="0.86"/></linearGradient><linearGradient id="g135" x1="0" y1="0" x2="0" y2="1"><stop offset="0.00" stop-opacity="0.83"/><stop offset="0.01" stop-opacity="0.83"/><stop offset="0.10" stop-opacity="0.81"/><stop offset="0.18" stop-opacity="0.77"/><stop offset="0.26" stop-opacity="0.73"/><stop offset="0.34" stop-opacity="0.68"/><stop offset="0.42" stop-opacity="0.62"/><stop offset="0.51" stop-opacity="0.62"/><stop offset="0.59" stop-opacity="0.65"/><stop offset="0.67" stop-opacity="0.69"/><stop offset="0.75" stop-opacity="0.73"/><stop offset="0.84" stop-opacity="0.76"/><stop offset="0.92" stop-opacity="0.78"/><stop offset="1.00" stop-opacity="0.80"/></linearGradient><linearGradient id="g136" x1="0" y1="0" x2="0" y2="1"><stop offset="0.00" stop-opacity="0.92"/><stop offset="0.01" stop-opacity="0.92"/><stop offset="0.10" stop-opacity="0.92"/><stop offset="0.18" stop-opacity="0.88"/><stop offset="0.26" stop-opacity="0.83"/><stop offset="0.34" stop-opacity="0.76"/><stop offset="0.42" stop-opacity="0.69"/><stop offset="0.51" stop-opacity="0.68"/><stop offset="0.59" stop-opacity="0.73"/><stop offset="0.67" stop-opacity="0.78"/><stop offset="0.75" stop-opacity="0.82"/><stop offset="0.84" stop-opacity="0.86"/><stop offset="0.92" stop-opacity="0.89"/><stop offset="1.00" stop-opacity="0.91"/></linearGradient><linearGradient id="g137" x1="0" y1="0" x2="0" y2="1"><stop offset="0.00" stop-opacity="0.92"/><stop offset="0.01" stop-opacity="0.92"/><stop offset="0.10" stop-opacity="0.92"/><stop offset="0.18" stop-opacity="0.87"/><stop offset="0.26" stop-opacity="0.81"/><stop offset="0.34" stop-opacity="0.74"/><stop offset="0.42" stop-opacity="0.66"/><stop offset="0.51" stop-opacity="0.65"/><stop offset="0.59" stop-opacity="0.70"/><stop offset="0.67" stop-opacity="0.76"/><stop offset="0.75" stop-opacity="0.81"/><stop offset="0.84" stop-opacity="0.85"/><stop offset="0.92" stop-opacity="0.89"/><stop offset="1.00" stop-opacity="0.91"/></linearGradient><linearGradient id="g138" x1="0" y1="0" x2="0" y2="1"><stop offset="0.00" stop-opacity="0.82"/><stop offset="0.01" stop-opacity="0.82"/><stop offset="0.10" stop-opacity="0.78"/><stop offset="0.18" stop-opacity="0.73"/><stop offset="0.26" stop-opacity="0.67"/><stop offset="0.34" stop-opacity="0.60"/><stop offset="0.42" stop-opacity="0.52"/><stop offset="0.51" stop-opacity="0.51"/><stop offset="0.59" stop-opacity="0.57"/><stop offset="0.67" stop-opacity="0.62"/><stop offset="0.75" stop-opacity="0.68"/><stop offset="0.84" stop-opacity="0.72"/><stop offset="0.92" stop-opacity="0.76"/><stop offset="1.00" stop-opacity="0.79"/></linearGradient><linearGradient id="g139" x1="0" y1="0" x2="0" y2="1"><stop offset="0.00" stop-opacity="0.84"/><stop offset="0.01" stop-opacity="0.84"/><stop offset="0.10" stop-opacity="0.79"/><stop offset="0.18" stop-opacity="0.74"/><stop offset="0.26" stop-opacity="0.67"/><stop offset="0.34" stop-opacity="0.59"/><stop offset="0.42" stop-opacity="0.50"/><stop offset="0.51" stop-opacity="0.49"/><stop offset="0.59" stop-opacity="0.55"/><stop offset="0.67" stop-opacity="0.62"/><stop offset="0.75" stop-opacity="0.68"/><stop offset="0.84" stop-opacity="0.73"/><stop offset="0.92" stop-opacity="0.77"/><stop offset="1.00" stop-opacity="0.80"/></linearGradient><linearGradient id="g140" x1="0" y1="0" x2="0" y2="1"><stop offset="0.00" stop-opacity="0.55"/><stop offset="0.01" stop-opacity="0.55"/><stop offset="0.10" stop-opacity="0.51"/><stop offset="0.18" stop-opacity="0.46"/><stop offset="0.26" stop-opacity="0.40"/><stop offset="0.34" stop-opacity="0.33"/><stop offset="0.42" stop-opacity="0.27"/><stop offset="0.51" stop-opacity="0.26"/><stop offset="0.59" stop-opacity="0.31"/><stop offset="0.67" stop-opacity="0.36"/><stop offset="0.75" stop-opacity="0.41"/><stop offset="0.84" stop-opacity="0.46"/><stop offset="0.92" stop-opacity="0.49"/><stop offset="1.00" stop-opacity="0.52"/></linearGradient><linearGradient id="g141" x1="0" y1="0" x2="0" y2="1"><stop offset="0.00" stop-opacity="0.76"/><stop offset="0.01" stop-opacity="0.76"/><stop offset="0.10" stop-opacity="0.71"/><stop offset="0.18" stop-opacity="0.65"/><stop offset="0.26" stop-opacity="0.57"/><stop offset="0.34" stop-opacity="0.47"/><stop offset="0.42" stop-opacity="0.38"/><stop offset="0.51" stop-opacity="0.37"/><stop offset="0.59" stop-opacity="0.44"/><stop offset="0.67" stop-opacity="0.51"/><stop offset="0.75" stop-opacity="0.58"/><stop offset="0.84" stop-opacity="0.64"/><stop offset="0.92" stop-opacity="0.69"/><stop offset="1.00" stop-opacity="0.72"/></linearGradient><linearGradient id="g142" x1="0" y1="0" x2="0" y2="1"><stop offset="0.00" stop-opacity="0.79"/><stop offset="0.01" stop-opacity="0.79"/><stop offset="0.10" stop-opacity="0.74"/><stop offset="0.18" stop-opacity="0.67"/><stop offset="0.26" stop-opacity="0.58"/><stop offset="0.34" stop-opacity="0.47"/><stop offset="0.42" stop-opacity="0.37"/><stop offset="0.51" stop-opacity="0.36"/><stop offset="0.59" stop-opacity="0.44"/><stop offset="0.67" stop-opacity="0.52"/><stop offset="0.75" stop-opacity="0.60"/><stop offset="0.84" stop-opacity="0.66"/><stop offset="0.92" stop-opacity="0.71"/><stop offset="1.00" stop-opacity="0.76"/></linearGradient><linearGradient id="g143" x1="0" y1="0" x2="0" y2="1"><stop offset="0.00" stop-opacity="0.60"/><stop offset="0.01" stop-opacity="0.60"/><stop offset="0.10" stop-opacity="0.55"/><stop offset="0.18" stop-opacity="0.48"/><stop offset="0.26" stop-opacity="0.41"/><stop offset="0.34" stop-opacity="0.31"/><stop offset="0.42" stop-opacity="0.23"/><stop offset="0.51" stop-opacity="0.22"/><stop offset="0.59" stop-opacity="0.29"/><stop offset="0.67" stop-opacity="0.36"/><stop offset="0.75" stop-opacity="0.42"/><stop offset="0.84" stop-opacity="0.48"/><stop offset="0.92" stop-opacity="0.53"/><stop offset="1.00" stop-opacity="0.57"/></linearGradient><linearGradient id="g144" x1="0" y1="0" x2="0" y2="1"><stop offset="0.00" stop-opacity="0.64"/><stop offset="0.01" stop-opacity="0.64"/><stop offset="0.10" stop-opacity="0.58"/><stop offset="0.18" stop-opacity="0.51"/><stop offset="0.26" stop-opacity="0.42"/><stop offset="0.34" stop-opacity="0.32"/><stop offset="0.42" stop-opacity="0.22"/><stop offset="0.51" stop-opacity="0.22"/><stop offset="0.59" stop-opacity="0.29"/><stop offset="0.67" stop-opacity="0.37"/><stop offset="0.75" stop-opacity="0.44"/><stop offset="0.84" stop-opacity="0.51"/><stop offset="0.92" stop-opacity="0.56"/><stop offset="1.00" stop-opacity="0.61"/></linearGradient><linearGradient id="g145" x1="0" y1="0" x2="0" y2="1"><stop offset="0.00" stop-opacity="0.59"/><stop offset="0.01" stop-opacity="0.59"/><stop offset="0.10" stop-opacity="0.54"/><stop offset="0.18" stop-opacity="0.46"/><stop offset="0.26" stop-opacity="0.37"/><stop offset="0.34" stop-opacity="0.27"/><stop offset="0.42" stop-opacity="0.18"/><stop offset="0.51" stop-opacity="0.17"/><stop offset="0.59" stop-opacity="0.24"/><stop offset="0.67" stop-opacity="0.32"/><stop offset="0.75" stop-opacity="0.40"/><stop offset="0.84" stop-opacity="0.46"/><stop offset="0.92" stop-opacity="0.52"/><stop offset="1.00" stop-opacity="0.56"/></linearGradient><linearGradient id="g146" x1="0" y1="0" x2="0" y2="1"><stop offset="0.00" stop-opacity="0.75"/><stop offset="0.01" stop-opacity="0.75"/><stop offset="0.10" stop-opacity="0.68"/><stop offset="0.18" stop-opacity="0.59"/><stop offset="0.26" stop-opacity="0.48"/><stop offset="0.34" stop-opacity="0.34"/><stop offset="0.42" stop-opacity="0.21"/><stop offset="0.51" stop-opacity="0.20"/><stop offset="0.59" stop-opacity="0.30"/><stop offset="0.67" stop-opacity="0.41"/><stop offset="0.75" stop-opacity="0.51"/><stop offset="0.84" stop-opacity="0.59"/><stop offset="0.92" stop-opacity="0.66"/><stop offset="1.00" stop-opacity="0.72"/></linearGradient><linearGradient id="g147" x1="0" y1="0" x2="0" y2="1"><stop offset="0.00" stop-opacity="0.50"/><stop offset="0.01" stop-opacity="0.50"/><stop offset="0.10" stop-opacity="0.44"/><stop offset="0.18" stop-opacity="0.37"/><stop offset="0.26" stop-opacity="0.28"/><stop offset="0.34" stop-opacity="0.18"/><stop offset="0.42" stop-opacity="0.10"/><stop offset="0.51" stop-opacity="0.09"/><stop offset="0.59" stop-opacity="0.15"/><stop offset="0.67" stop-opacity="0.23"/><stop offset="0.75" stop-opacity="0.30"/><stop offset="0.84" stop-opacity="0.37"/><stop offset="0.92" stop-opacity="0.42"/><stop offset="1.00" stop-opacity="0.47"/></linearGradient><linearGradient id="g148" x1="0" y1="0" x2="0" y2="1"><stop offset="0.00" stop-opacity="0.51"/><stop offset="0.01" stop-opacity="0.51"/><stop offset="0.10" stop-opacity="0.45"/><stop offset="0.18" stop-opacity="0.37"/><stop offset="0.26" stop-opacity="0.27"/><stop offset="0.34" stop-opacity="0.17"/><stop offset="0.42" stop-opacity="0.08"/><stop offset="0.51" stop-opacity="0.07"/><stop offset="0.59" stop-opacity="0.14"/><stop offset="0.67" stop-opacity="0.22"/><stop offset="0.75" stop-opacity="0.30"/><stop offset="0.84" stop-opacity="0.37"/><stop offset="0.92" stop-opacity="0.43"/><stop offset="1.00" stop-opacity="0.48"/></linearGradient><linearGradient id="g149" x1="0" y1="0" x2="0" y2="1"><stop offset="0.00" stop-opacity="0.35"/><stop offset="0.01" stop-opacity="0.35"/><stop offset="0.10" stop-opacity="0.30"/><stop offset="0.18" stop-opacity="0.23"/><stop offset="0.26" stop-opacity="0.16"/><stop offset="0.34" stop-opacity="0.09"/><stop offset="0.42" stop-opacity="0.03"/><stop offset="0.51" stop-opacity="0.03"/><stop offset="0.59" stop-opacity="0.07"/><stop offset="0.67" stop-opacity="0.12"/><stop offset="0.75" stop-opacity="0.18"/><stop offset="0.84" stop-opacity="0.24"/><stop offset="0.92" stop-opacity="0.28"/><stop offset="1.00" stop-opacity="0.33"/></linearGradient><linearGradient id="g150" x1="0" y1="0" x2="0" y2="1"><stop offset="0.00" stop-opacity="0.49"/><stop offset="0.01" stop-opacity="0.49"/><stop offset="0.10" stop-opacity="0.42"/><stop offset="0.18" stop-opacity="0.33"/><stop offset="0.26" stop-opacity="0.23"/><stop offset="0.34" stop-opacity="0.12"/><stop offset="0.42" stop-opacity="0.03"/><stop offset="0.51" stop-opacity="0.02"/><stop offset="0.59" stop-opacity="0.09"/><stop offset="0.67" stop-opacity="0.18"/><stop offset="0.75" stop-opacity="0.26"/><stop offset="0.84" stop-opacity="0.34"/><stop offset="0.92" stop-opacity="0.40"/><stop offset="1.00" stop-opacity="0.46"/></linearGradient><linearGradient id="g151" x1="0" y1="0" x2="0" y2="1"><stop offset="0.00" stop-opacity="0.54"/><stop offset="0.01" stop-opacity="0.54"/><stop offset="0.10" stop-opacity="0.46"/><stop offset="0.18" stop-opacity="0.37"/><stop offset="0.26" stop-opacity="0.25"/><stop offset="0.34" stop-opacity="0.12"/><stop offset="0.42" stop-opacity="0.00"/><stop offset="0.51" stop-opacity="0.00"/><stop offset="0.59" stop-opacity="0.08"/><stop offset="0.67" stop-opacity="0.19"/><stop offset="0.75" stop-opacity="0.28"/><stop offset="0.84" stop-opacity="0.37"/><stop offset="0.92" stop-opacity="0.45"/><stop offset="1.00" stop-opacity="0.51"/></linearGradient><linearGradient id="g152" x1="0" y1="0" x2="0" y2="1"><stop offset="0.00" stop-opacity="0.62"/><stop offset="0.01" stop-opacity="0.62"/><stop offset="0.10" stop-opacity="0.53"/><stop offset="0.18" stop-opacity="0.42"/><stop offset="0.26" stop-opacity="0.27"/><stop offset="0.34" stop-opacity="0.11"/><stop offset="0.42" stop-opacity="0.00"/><stop offset="0.51" stop-opacity="0.00"/><stop offset="0.59" stop-opacity="0.07"/><stop offset="0.67" stop-opacity="0.20"/><stop offset="0.75" stop-opacity="0.32"/><stop offset="0.84" stop-opacity="0.43"/><stop offset="0.92" stop-opacity="0.52"/><stop offset="1.00" stop-opacity="0.59"/></linearGradient><linearGradient id="g153" x1="0" y1="0" x2="0" y2="1"><stop offset="0.00" stop-opacity="0.60"/><stop offset="0.01" stop-opacity="0.60"/><stop offset="0.10" stop-opacity="0.51"/><stop offset="0.18" stop-opacity="0.39"/><stop offset="0.26" stop-opacity="0.24"/><stop offset="0.34" stop-opacity="0.08"/><stop offset="0.42" stop-opacity="0.00"/><stop offset="0.51" stop-opacity="0.00"/><stop offset="0.59" stop-opacity="0.04"/><stop offset="0.67" stop-opacity="0.17"/><stop offset="0.75" stop-opacity="0.29"/><stop offset="0.84" stop-opacity="0.40"/><stop offset="0.92" stop-opacity="0.49"/><stop offset="1.00" stop-opacity="0.57"/></linearGradient><linearGradient id="g154" x1="0" y1="0" x2="0" y2="1"><stop offset="0.00" stop-opacity="0.39"/><stop offset="0.01" stop-opacity="0.39"/><stop offset="0.10" stop-opacity="0.32"/><stop offset="0.18" stop-opacity="0.23"/><stop offset="0.26" stop-opacity="0.13"/><stop offset="0.34" stop-opacity="0.03"/><stop offset="0.42" stop-opacity="0.00"/><stop offset="0.51" stop-opacity="0.00"/><stop offset="0.59" stop-opacity="0.00"/><stop offset="0.67" stop-opacity="0.08"/><stop offset="0.75" stop-opacity="0.16"/><stop offset="0.84" stop-opacity="0.24"/><stop offset="0.92" stop-opacity="0.30"/><stop offset="1.00" stop-opacity="0.36"/></linearGradient><linearGradient id="g155" x1="0" y1="0" x2="0" y2="1"><stop offset="0.00" stop-opacity="0.58"/><stop offset="0.01" stop-opacity="0.58"/><stop offset="0.10" stop-opacity="0.48"/><stop offset="0.18" stop-opacity="0.35"/><stop offset="0.26" stop-opacity="0.19"/><stop offset="0.34" stop-opacity="0.01"/><stop offset="0.42" stop-opacity="0.00"/><stop offset="0.51" stop-opacity="0.00"/><stop offset="0.59" stop-opacity="0.00"/><stop offset="0.67" stop-opacity="0.11"/><stop offset="0.75" stop-opacity="0.24"/><stop offset="0.84" stop-opacity="0.36"/><stop offset="0.92" stop-opacity="0.46"/><stop offset="1.00" stop-opacity="0.55"/></linearGradient><linearGradient id="g156" x1="0" y1="0" x2="0" y2="1"><stop offset="0.00" stop-opacity="0.32"/><stop offset="0.01" stop-opacity="0.32"/><stop offset="0.10" stop-opacity="0.25"/><stop offset="0.18" stop-opacity="0.16"/><stop offset="0.26" stop-opacity="0.08"/><stop offset="0.34" stop-opacity="0.00"/><stop offset="0.42" stop-opacity="0.00"/><stop offset="0.51" stop-opacity="0.00"/><stop offset="0.59" stop-opacity="0.00"/><stop offset="0.67" stop-opacity="0.04"/><stop offset="0.75" stop-opacity="0.11"/><stop offset="0.84" stop-opacity="0.17"/><stop offset="0.92" stop-opacity="0.24"/><stop offset="1.00" stop-opacity="0.29"/></linearGradient><linearGradient id="g157" x1="0" y1="0" x2="0" y2="1"><stop offset="0.00" stop-opacity="0.49"/><stop offset="0.01" stop-opacity="0.49"/><stop offset="0.10" stop-opacity="0.39"/><stop offset="0.18" stop-opacity="0.26"/><stop offset="0.26" stop-opacity="0.11"/><stop offset="0.34" stop-opacity="0.00"/><stop offset="0.42" stop-opacity="0.00"/><stop offset="0.51" stop-opacity="0.00"/><stop offset="0.59" stop-opacity="0.00"/><stop offset="0.67" stop-opacity="0.04"/><stop offset="0.75" stop-opacity="0.17"/><stop offset="0.84" stop-opacity="0.28"/><stop offset="0.92" stop-opacity="0.38"/><stop offset="1.00" stop-opacity="0.46"/></linearGradient><linearGradient id="g158" x1="0" y1="0" x2="0" y2="1"><stop offset="0.00" stop-opacity="0.28"/><stop offset="0.01" stop-opacity="0.28"/><stop offset="0.10" stop-opacity="0.21"/><stop offset="0.18" stop-opacity="0.13"/><stop offset="0.26" stop-opacity="0.04"/><stop offset="0.34" stop-opacity="0.00"/><stop offset="0.42" stop-opacity="0.00"/><stop offset="0.51" stop-opacity="0.00"/><stop offset="0.59" stop-opacity="0.00"/><stop offset="0.67" stop-opacity="0.01"/><stop offset="0.75" stop-opacity="0.07"/><stop offset="0.84" stop-opacity="0.14"/><stop offset="0.92" stop-opacity="0.20"/><stop offset="1.00" stop-opacity="0.26"/></linearGradient><linearGradient id="g159" x1="0" y1="0" x2="0" y2="1"><stop offset="0.00" stop-opacity="0.34"/><stop offset="0.01" stop-opacity="0.34"/><stop offset="0.10" stop-opacity="0.25"/><stop offset="0.18" stop-opacity="0.15"/><stop offset="0.26" stop-opacity="0.04"/><stop offset="0.34" stop-opacity="0.00"/><stop offset="0.42" stop-opacity="0.00"/><stop offset="0.51" stop-opacity="0.00"/><stop offset="0.59" stop-opacity="0.00"/><stop offset="0.67" stop-opacity="0.00"/><stop offset="0.75" stop-opacity="0.08"/><stop offset="0.84" stop-opacity="0.17"/><stop offset="0.92" stop-opacity="0.24"/><stop offset="1.00" stop-opacity="0.31"/></linearGradient><linearGradient id="g160" x1="0" y1="0" x2="0" y2="1"><stop offset="0.00" stop-opacity="0.23"/><stop offset="0.01" stop-opacity="0.23"/><stop offset="0.10" stop-opacity="0.17"/><stop offset="0.18" stop-opacity="0.09"/><stop offset="0.26" stop-opacity="0.02"/><stop offset="0.34" stop-opacity="0.00"/><stop offset="0.42" stop-opacity="0.00"/><stop offset="0.51" stop-opacity="0.00"/><stop offset="0.59" stop-opacity="0.00"/><stop offset="0.67" stop-opacity="0.00"/><stop offset="0.75" stop-opacity="0.04"/><stop offset="0.84" stop-opacity="0.10"/><stop offset="0.92" stop-opacity="0.16"/><stop offset="1.00" stop-opacity="0.21"/></linearGradient><linearGradient id="g161" x1="0" y1="0" x2="0" y2="1"><stop offset="0.00" stop-opacity="0.43"/><stop offset="0.01" stop-opacity="0.43"/><stop offset="0.10" stop-opacity="0.32"/><stop offset="0.18" stop-opacity="0.18"/><stop offset="0.26" stop-opacity="0.01"/><stop offset="0.34" stop-opacity="0.00"/><stop offset="0.42" stop-opacity="0.00"/><stop offset="0.51" stop-opacity="0.00"/><stop offset="0.59" stop-opacity="0.00"/><stop offset="0.67" stop-opacity="0.00"/><stop offset="0.75" stop-opacity="0.07"/><stop offset="0.84" stop-opacity="0.20"/><stop offset="0.92" stop-opacity="0.30"/><stop offset="1.00" stop-opacity="0.40"/></linearGradient><linearGradient id="g162" x1="0" y1="0" x2="0" y2="1"><stop offset="0.00" stop-opacity="0.40"/><stop offset="0.01" stop-opacity="0.40"/><stop offset="0.10" stop-opacity="0.29"/><stop offset="0.18" stop-opacity="0.15"/><stop offset="0.26" stop-opacity="0.00"/><stop offset="0.34" stop-opacity="0.00"/><stop offset="0.42" stop-opacity="0.00"/><stop offset="0.51" stop-opacity="0.00"/><stop offset="0.59" stop-opacity="0.00"/><stop offset="0.67" stop-opacity="0.00"/><stop offset="0.75" stop-opacity="0.05"/><stop offset="0.84" stop-opacity="0.17"/><stop offset="0.92" stop-opacity="0.28"/><stop offset="1.00" stop-opacity="0.37"/></linearGradient><linearGradient id="g163" x1="0" y1="0" x2="0" y2="1"><stop offset="0.00" stop-opacity="0.22"/><stop offset="0.01" stop-opacity="0.22"/><stop offset="0.10" stop-opacity="0.14"/><stop offset="0.18" stop-opacity="0.06"/><stop offset="0.26" stop-opacity="0.00"/><stop offset="0.34" stop-opacity="0.00"/><stop offset="0.42" stop-opacity="0.00"/><stop offset="0.51" stop-opacity="0.00"/><stop offset="0.59" stop-opacity="0.00"/><stop offset="0.67" stop-opacity="0.00"/><stop offset="0.75" stop-opacity="0.01"/><stop offset="0.84" stop-opacity="0.07"/><stop offset="0.92" stop-opacity="0.14"/><stop offset="1.00" stop-opacity="0.20"/></linearGradient><linearGradient id="g164" x1="0" y1="0" x2="0" y2="1"><stop offset="0.00" stop-opacity="0.30"/><stop offset="0.01" stop-opacity="0.30"/><stop offset="0.10" stop-opacity="0.20"/><stop offset="0.18" stop-opacity="0.08"/><stop offset="0.26" stop-opacity="0.00"/><stop offset="0.34" stop-opacity="0.00"/><stop offset="0.42" stop-opacity="0.00"/><stop offset="0.51" stop-opacity="0.00"/><stop offset="0.59" stop-opacity="0.00"/><stop offset="0.67" stop-opacity="0.00"/><stop offset="0.75" stop-opacity="0.00"/><stop offset="0.84" stop-opacity="0.10"/><stop offset="0.92" stop-opacity="0.19"/><stop offset="1.00" stop-opacity="0.27"/></linearGradient><linearGradient id="g165" x1="0" y1="0" x2="0" y2="1"><stop offset="0.00" stop-opacity="0.22"/><stop offset="0.01" stop-opacity="0.22"/><stop offset="0.10" stop-opacity="0.14"/><stop offset="0.18" stop-opacity="0.05"/><stop offset="0.26" stop-opacity="0.00"/><stop offset="0.34" stop-opacity="0.00"/><stop offset="0.42" stop-opacity="0.00"/><stop offset="0.51" stop-opacity="0.00"/><stop offset="0.59" stop-opacity="0.00"/><stop offset="0.67" stop-opacity="0.00"/><stop offset="0.75" stop-opacity="0.00"/><stop offset="0.84" stop-opacity="0.06"/><stop offset="0.92" stop-opacity="0.13"/><stop offset="1.00" stop-opacity="0.20"/></linearGradient><linearGradient id="g166" x1="0" y1="0" x2="0" y2="1"><stop offset="0.00" stop-opacity="0.26"/><stop offset="0.01" stop-opacity="0.26"/><stop offset="0.10" stop-opacity="0.16"/><stop offset="0.18" stop-opacity="0.05"/><stop offset="0.26" stop-opacity="0.00"/><stop offset="0.34" stop-opacity="0.00"/><stop offset="0.42" stop-opacity="0.00"/><stop offset="0.51" stop-opacity="0.00"/><stop offset="0.59" stop-opacity="0.00"/><stop offset="0.67" stop-opacity="0.00"/><stop offset="0.75" stop-opacity="0.00"/><stop offset="0.84" stop-opacity="0.07"/><stop offset="0.92" stop-opacity="0.15"/><stop offset="1.00" stop-opacity="0.23"/></linearGradient><linearGradient id="g167" x1="0" y1="0" x2="0" y2="1"><stop offset="0.00" stop-opacity="0.26"/><stop offset="0.01" stop-opacity="0.26"/><stop offset="0.10" stop-opacity="0.15"/><stop offset="0.18" stop-opacity="0.03"/><stop offset="0.26" stop-opacity="0.00"/><stop offset="0.34" stop-opacity="0.00"/><stop offset="0.42" stop-opacity="0.00"/><stop offset="0.51" stop-opacity="0.00"/><stop offset="0.59" stop-opacity="0.00"/><stop offset="0.67" stop-opacity="0.00"/><stop offset="0.75" stop-opacity="0.00"/><stop offset="0.84" stop-opacity="0.05"/><stop offset="0.92" stop-opacity="0.15"/><stop offset="1.00" stop-opacity="0.23"/></linearGradient><linearGradient id="g168" x1="0" y1="0" x2="0" y2="1"><stop offset="0.00" stop-opacity="0.15"/><stop offset="0.01" stop-opacity="0.15"/><stop offset="0.10" stop-opacity="0.08"/><stop offset="0.18" stop-opacity="0.01"/><stop offset="0.26" stop-opacity="0.00"/><stop offset="0.34" stop-opacity="0.00"/><stop offset="0.42" stop-opacity="0.00"/><stop offset="0.51" stop-opacity="0.00"/><stop offset="0.59" stop-opacity="0.00"/><stop offset="0.67" stop-opacity="0.00"/><stop offset="0.75" stop-opacity="0.00"/><stop offset="0.84" stop-opacity="0.02"/><stop offset="0.92" stop-opacity="0.08"/><stop offset="1.00" stop-opacity="0.14"/></linearGradient><linearGradient id="g169" x1="0" y1="0" x2="0" y2="1"><stop offset="0.00" stop-opacity="0.29"/><stop offset="0.01" stop-opacity="0.29"/><stop offset="0.10" stop-opacity="0.16"/><stop offset="0.18" stop-opacity="0.00"/><stop offset="0.26" stop-opacity="0.00"/><stop offset="0.34" stop-opacity="0.00"/><stop offset="0.42" stop-opacity="0.00"/><stop offset="0.51" stop-opacity="0.00"/><stop offset="0.59" stop-opacity="0.00"/><stop offset="0.67" stop-opacity="0.00"/><stop offset="0.75" stop-opacity="0.00"/><stop offset="0.84" stop-opacity="0.03"/><stop offset="0.92" stop-opacity="0.15"/><stop offset="1.00" stop-opacity="0.26"/></linearGradient><linearGradient id="g170" x1="0" y1="0" x2="0" y2="1"><stop offset="0.00" stop-opacity="0.17"/><stop offset="0.01" stop-opacity="0.17"/><stop offset="0.10" stop-opacity="0.08"/><stop offset="0.18" stop-opacity="0.00"/><stop offset="0.26" stop-opacity="0.00"/><stop offset="0.34" stop-opacity="0.00"/><stop offset="0.42" stop-opacity="0.00"/><stop offset="0.51" stop-opacity="0.00"/><stop offset="0.59" stop-opacity="0.00"/><stop offset="0.67" stop-opacity="0.00"/><stop offset="0.75" stop-opacity="0.00"/><stop offset="0.84" stop-opacity="0.01"/><stop offset="0.92" stop-opacity="0.08"/><stop offset="1.00" stop-opacity="0.15"/></linearGradient><linearGradient id="g171" x1="0" y1="0" x2="0" y2="1"><stop offset="0.00" stop-opacity="0.18"/><stop offset="0.01" stop-opacity="0.18"/><stop offset="0.10" stop-opacity="0.08"/><stop offset="0.18" stop-opacity="0.00"/><stop offset="0.26" stop-opacity="0.00"/><stop offset="0.34" stop-opacity="0.00"/><stop offset="0.42" stop-opacity="0.00"/><stop offset="0.51" stop-opacity="0.00"/><stop offset="0.59" stop-opacity="0.00"/><stop offset="0.67" stop-opacity="0.00"/><stop offset="0.75" stop-opacity="0.00"/><stop offset="0.84" stop-opacity="0.00"/><stop offset="0.92" stop-opacity="0.08"/><stop offset="1.00" stop-opacity="0.16"/></linearGradient><linearGradient id="g172" x1="0" y1="0" x2="0" y2="1"><stop offset="0.00" stop-opacity="0.11"/><stop offset="0.01" stop-opacity="0.11"/><stop offset="0.10" stop-opacity="0.04"/><stop offset="0.18" stop-opacity="0.00"/><stop offset="0.26" stop-opacity="0.00"/><stop offset="0.34" stop-opacity="0.00"/><stop offset="0.42" stop-opacity="0.00"/><stop offset="0.51" stop-opacity="0.00"/><stop offset="0.59" stop-opacity="0.00"/><stop offset="0.67" stop-opacity="0.00"/><stop offset="0.75" stop-opacity="0.00"/><stop offset="0.84" stop-opacity="0.00"/><stop offset="0.92" stop-opacity="0.04"/><stop offset="1.00" stop-opacity="0.09"/></linearGradient><linearGradient id="g173" x1="0" y1="0" x2="0" y2="1"><stop offset="0.00" stop-opacity="0.09"/><stop offset="0.01" stop-opacity="0.09"/><stop offset="0.10" stop-opacity="0.03"/><stop offset="0.18" stop-opacity="0.00"/><stop offset="0.26" stop-opacity="0.00"/><stop offset="0.34" stop-opacity="0.00"/><stop offset="0.42" stop-opacity="0.00"/><stop offset="0.51" stop-opacity="0.00"/><stop offset="0.59" stop-opacity="0.00"/><stop offset="0.67" stop-opacity="0.00"/><stop offset="0.75" stop-opacity="0.00"/><stop offset="0.84" stop-opacity="0.00"/><stop offset="0.92" stop-opacity="0.03"/><stop offset="1.00" stop-opacity="0.08"/></linearGradient><linearGradient id="g174" x1="0" y1="0" x2="0" y2="1"><stop offset="0.00" stop-opacity="0.11"/><stop offset="0.01" stop-opacity="0.11"/><stop offset="0.10" stop-opacity="0.03"/><stop offset="0.18" stop-opacity="0.00"/><stop offset="0.26" stop-opacity="0.00"/><stop offset="0.34" stop-opacity="0.00"/><stop offset="0.42" stop-opacity="0.00"/><stop offset="0.51" stop-opacity="0.00"/><stop offset="0.59" stop-opacity="0.00"/><stop offset="0.67" stop-opacity="0.00"/><stop offset="0.75" stop-opacity="0.00"/><stop offset="0.84" stop-opacity="0.00"/><stop offset="0.92" stop-opacity="0.03"/><stop offset="1.00" stop-opacity="0.09"/></linearGradient><linearGradient id="g175" x1="0" y1="0" x2="0" y2="1"><stop offset="0.00" stop-opacity="0.12"/><stop offset="0.01" stop-opacity="0.12"/><stop offset="0.10" stop-opacity="0.03"/><stop offset="0.18" stop-opacity="0.00"/><stop offset="0.26" stop-opacity="0.00"/><stop offset="0.34" stop-opacity="0.00"/><stop offset="0.42" stop-opacity="0.00"/><stop offset="0.51" stop-opacity="0.00"/><stop offset="0.59" stop-opacity="0.00"/><stop offset="0.67" stop-opacity="0.00"/><stop offset="0.75" stop-opacity="0.00"/><stop offset="0.84" stop-opacity="0.00"/><stop offset="0.92" stop-opacity="0.03"/><stop offset="1.00" stop-opacity="0.10"/></linearGradient><linearGradient id="g176" x1="0" y1="0" x2="0" y2="1"><stop offset="0.00" stop-opacity="0.18"/><stop offset="0.01" stop-opacity="0.18"/><stop offset="0.10" stop-opacity="0.03"/><stop offset="0.18" stop-opacity="0.00"/><stop offset="0.26" stop-opacity="0.00"/><stop offset="0.34" stop-opacity="0.00"/><stop offset="0.42" stop-opacity="0.00"/><stop offset="0.51" stop-opacity="0.00"/><stop offset="0.59" stop-opacity="0.00"/><stop offset="0.67" stop-opacity="0.00"/><stop offset="0.75" stop-opacity="0.00"/><stop offset="0.84" stop-opacity="0.00"/><stop offset="0.92" stop-opacity="0.03"/><stop offset="1.00" stop-opacity="0.15"/></linearGradient><linearGradient id="g177" x1="0" y1="0" x2="0" y2="1"><stop offset="0.00" stop-opacity="0.16"/><stop offset="0.01" stop-opacity="0.16"/><stop offset="0.10" stop-opacity="0.01"/><stop offset="0.18" stop-opacity="0.00"/><stop offset="0.26" stop-opacity="0.00"/><stop offset="0.34" stop-opacity="0.00"/><stop offset="0.42" stop-opacity="0.00"/><stop offset="0.51" stop-opacity="0.00"/><stop offset="0.59" stop-opacity="0.00"/><stop offset="0.67" stop-opacity="0.00"/><stop offset="0.75" stop-opacity="0.00"/><stop offset="0.84" stop-opacity="0.00"/><stop offset="0.92" stop-opacity="0.01"/><stop offset="1.00" stop-opacity="0.13"/></linearGradient><linearGradient id="g178" x1="0" y1="0" x2="0" y2="1"><stop offset="0.00" stop-opacity="0.10"/><stop offset="0.01" stop-opacity="0.10"/><stop offset="0.10" stop-opacity="0.00"/><stop offset="0.18" stop-opacity="0.00"/><stop offset="0.26" stop-opacity="0.00"/><stop offset="0.34" stop-opacity="0.00"/><stop offset="0.42" stop-opacity="0.00"/><stop offset="0.51" stop-opacity="0.00"/><stop offset="0.59" stop-opacity="0.00"/><stop offset="0.67" stop-opacity="0.00"/><stop offset="0.75" stop-opacity="0.00"/><stop offset="0.84" stop-opacity="0.00"/><stop offset="0.92" stop-opacity="0.00"/><stop offset="1.00" stop-opacity="0.08"/></linearGradient><linearGradient id="g179" x1="0" y1="0" x2="0" y2="1"><stop offset="0.00" stop-opacity="0.09"/><stop offset="0.01" stop-opacity="0.09"/><stop offset="0.10" stop-opacity="0.00"/><stop offset="0.18" stop-opacity="0.00"/><stop offset="0.26" stop-opacity="0.00"/><stop offset="0.34" stop-opacity="0.00"/><stop offset="0.42" stop-opacity="0.00"/><stop offset="0.51" stop-opacity="0.00"/><stop offset="0.59" stop-opacity="0.00"/><stop offset="0.67" stop-opacity="0.00"/><stop offset="0.75" stop-opacity="0.00"/><stop offset="0.84" stop-opacity="0.00"/><stop offset="0.92" stop-opacity="0.00"/><stop offset="1.00" stop-opacity="0.07"/></linearGradient><linearGradient id="g180" x1="0" y1="0" x2="0" y2="1"><stop offset="0.00" stop-opacity="0.10"/><stop offset="0.01" stop-opacity="0.10"/><stop offset="0.10" stop-opacity="0.00"/><stop offset="0.18" stop-opacity="0.00"/><stop offset="0.26" stop-opacity="0.00"/><stop offset="0.34" stop-opacity="0.00"/><stop offset="0.42" stop-opacity="0.00"/><stop offset="0.51" stop-opacity="0.00"/><stop offset="0.59" stop-opacity="0.00"/><stop offset="0.67" stop-opacity="0.00"/><stop offset="0.75" stop-opacity="0.00"/><stop offset="0.84" stop-opacity="0.00"/><stop offset="0.92" stop-opacity="0.00"/><stop offset="1.00" stop-opacity="0.07"/></linearGradient><linearGradient id="g181" x1="0" y1="0" x2="0" y2="1"><stop offset="0.00" stop-opacity="0.10"/><stop offset="0.01" stop-opacity="0.10"/><stop offset="0.10" stop-opacity="0.00"/><stop offset="0.18" stop-opacity="0.00"/><stop offset="0.26" stop-opacity="0.00"/><stop offset="0.34" stop-opacity="0.00"/><stop offset="0.42" stop-opacity="0.00"/><stop offset="0.51" stop-opacity="0.00"/><stop offset="0.59" stop-opacity="0.00"/><stop offset="0.67" stop-opacity="0.00"/><stop offset="0.75" stop-opacity="0.00"/><stop offset="0.84" stop-opacity="0.00"/><stop offset="0.92" stop-opacity="0.00"/><stop offset="1.00" stop-opacity="0.07"/></linearGradient><linearGradient id="g182" x1="0" y1="0" x2="0" y2="1"><stop offset="0.00" stop-opacity="0.05"/><stop offset="0.01" stop-opacity="0.05"/><stop offset="0.10" stop-opacity="0.00"/><stop offset="0.18" stop-opacity="0.00"/><stop offset="0.26" stop-opacity="0.00"/><stop offset="0.34" stop-opacity="0.00"/><stop offset="0.42" stop-opacity="0.00"/><stop offset="0.51" stop-opacity="0.00"/><stop offset="0.59" stop-opacity="0.00"/><stop offset="0.67" stop-opacity="0.00"/><stop offset="0.75" stop-opacity="0.00"/><stop offset="0.84" stop-opacity="0.00"/><stop offset="0.92" stop-opacity="0.00"/><stop offset="1.00" stop-opacity="0.03"/></linearGradient><linearGradient id="g183" x1="0" y1="0" x2="0" y2="1"><stop offset="0.00" stop-opacity="0.06"/><stop offset="0.01" stop-opacity="0.06"/><stop offset="0.10" stop-opacity="0.00"/><stop offset="0.18" stop-opacity="0.00"/><stop offset="0.26" stop-opacity="0.00"/><stop offset="0.34" stop-opacity="0.00"/><stop offset="0.42" stop-opacity="0.00"/><stop offset="0.51" stop-opacity="0.00"/><stop offset="0.59" stop-opacity="0.00"/><stop offset="0.67" stop-opacity="0.00"/><stop offset="0.75" stop-opacity="0.00"/><stop offset="0.84" stop-opacity="0.00"/><stop offset="0.92" stop-opacity="0.00"/><stop offset="1.00" stop-opacity="0.04"/></linearGradient><linearGradient id="g184" x1="0" y1="0" x2="0" y2="1"><stop offset="0.00" stop-opacity="0.03"/><stop offset="0.01" stop-opacity="0.03"/><stop offset="0.10" stop-opacity="0.00"/><stop offset="0.18" stop-opacity="0.00"/><stop offset="0.26" stop-opacity="0.00"/><stop offset="0.34" stop-opacity="0.00"/><stop offset="0.42" stop-opacity="0.00"/><stop offset="0.51" stop-opacity="0.00"/><stop offset="0.59" stop-opacity="0.00"/><stop offset="0.67" stop-opacity="0.00"/><stop offset="0.75" stop-opacity="0.00"/><stop offset="0.84" stop-opacity="0.00"/><stop offset="0.92" stop-opacity="0.00"/><stop offset="1.00" stop-opacity="0.02"/></linearGradient><linearGradient id="g185" x1="0" y1="0" x2="0" y2="1"><stop offset="0.00" stop-opacity="0.03"/><stop offset="0.01" stop-opacity="0.03"/><stop offset="0.10" stop-opacity="0.00"/><stop offset="0.18" stop-opacity="0.00"/><stop offset="0.26" stop-opacity="0.00"/><stop offset="0.34" stop-opacity="0.00"/><stop offset="0.42" stop-opacity="0.00"/><stop offset="0.51" stop-opacity="0.00"/><stop offset="0.59" stop-opacity="0.00"/><stop offset="0.67" stop-opacity="0.00"/><stop offset="0.75" stop-opacity="0.00"/><stop offset="0.84" stop-opacity="0.00"/><stop offset="0.92" stop-opacity="0.00"/><stop offset="1.00" stop-opacity="0.01"/></linearGradient><linearGradient id="g186" x1="0" y1="0" x2="0" y2="1"><stop offset="0.00" stop-opacity="0.02"/><stop offset="0.01" stop-opacity="0.02"/><stop offset="0.10" stop-opacity="0.00"/><stop offset="0.18" stop-opacity="0.00"/><stop offset="0.26" stop-opacity="0.00"/><stop offset="0.34" stop-opacity="0.00"/><stop offset="0.42" stop-opacity="0.00"/><stop offset="0.51" stop-opacity="0.00"/><stop offset="0.59" stop-opacity="0.00"/><stop offset="0.67" stop-opacity="0.00"/><stop offset="0.75" stop-opacity="0.00"/><stop offset="0.84" stop-opacity="0.00"/><stop offset="0.92" stop-opacity="0.00"/><stop offset="1.00" stop-opacity="0.00"/></linearGradient></defs><rect width="550" height="296" fill="#fff"/>
<rect x="13" y="7.5" width="262" height="282.5" fill="#f0f0f0"/>
<rect x="282" y="8" width="263" height="282.5" fill="#f0f0f0"/>
<rect x="38.50" y="11.50" width="234.70" height="123.00" fill="#fff"/>
<polygon fill="#0072BF" fill-opacity="0.62" points="38.5,23.6 38.8,25.0 39.2,25.4 39.5,24.9 39.8,25.3 40.2,26.0 40.5,24.3 40.8,26.1 41.2,25.0 41.5,23.7 41.8,23.8 42.2,23.6 42.5,24.3 42.8,24.0 43.2,24.2 43.5,23.7 43.8,24.5 44.2,27.8 44.5,25.4 44.8,25.0 45.2,25.9 45.5,26.7 45.8,26.0 46.2,24.7 46.5,24.1 46.8,24.5 47.2,25.6 47.5,26.4 47.8,25.3 48.2,27.3 48.5,27.5 48.8,24.6 49.2,24.5 49.5,25.2 49.8,24.2 50.2,23.7 50.5,23.4 50.8,24.2 51.2,23.5 51.5,23.8 51.8,23.7 52.2,23.9 52.5,25.0 52.8,25.6 53.2,24.2 53.5,24.0 53.8,23.7 54.2,23.9 54.5,24.0 54.8,24.9 55.2,25.3 55.5,24.3 55.8,25.1 56.2,24.5 56.5,23.6 56.8,24.2 57.2,24.3 57.5,23.8 57.8,23.5 58.2,24.5 58.5,25.7 58.8,24.5 59.2,23.5 59.5,23.6 59.8,23.6 60.2,24.3 60.5,26.1 60.8,25.4 61.2,23.8 61.5,23.8 61.8,23.9 62.2,23.7 62.5,23.7 62.8,23.5 63.2,23.6 63.5,25.9 63.8,26.8 64.2,24.6 64.5,24.0 64.8,24.2 65.2,24.1 65.5,25.2 65.8,26.3 66.2,25.5 66.5,24.4 66.8,24.3 67.2,24.2 67.5,24.2 67.8,23.7 68.2,24.3 68.5,25.6 68.8,25.6 69.2,24.8 69.5,25.9 69.8,25.0 70.2,24.4 70.5,25.8 70.8,25.4 71.2,24.2 71.5,24.3 71.8,23.6 72.2,23.5 72.5,24.0 72.8,26.4 73.2,27.9 73.5,26.0 73.8,24.0 74.2,24.0 74.5,24.1 74.8,23.8 75.2,23.9 75.5,23.4 75.8,24.1 76.2,23.6 76.5,24.8 76.8,25.4 77.2,25.2 77.5,24.2 77.8,23.6 78.2,24.0 78.5,24.0 78.8,24.8 79.2,26.4 79.5,25.3 79.8,23.9 80.2,23.7 80.5,23.6 80.8,23.9 81.2,23.4 81.5,23.7 81.8,23.8 82.2,24.8 82.5,28.4 82.8,30.0 83.2,25.9 83.5,23.6 83.8,23.6 84.2,24.3 84.5,24.2 84.8,24.3 85.2,24.6 85.5,24.5 85.8,24.1 86.2,23.8 86.5,23.6 86.8,25.0 87.2,28.1 87.5,30.4 87.8,27.8 88.2,25.2 88.5,24.9 88.8,26.2 89.2,24.7 89.5,25.6 89.8,25.6 90.2,24.3 90.5,24.5 90.8,25.2 91.2,24.1 91.5,25.4 91.8,24.8 92.2,23.8 92.5,24.1 92.8,23.7 93.2,24.3 93.5,23.8 93.8,23.6 94.2,23.6 94.5,23.8 94.8,24.0 95.2,24.7 95.5,24.7 95.8,24.4 96.2,23.6 96.5,24.3 96.8,24.3 97.2,26.7 97.5,29.1 97.8,27.4 98.2,25.5 98.5,24.2 98.8,24.1 99.2,24.3 99.5,24.2 99.8,23.7 100.2,23.6 100.5,24.2 100.8,24.4 101.2,24.7 101.5,25.2 101.8,24.0 102.2,25.5 102.5,27.7 102.8,29.1 103.2,26.8 103.5,24.8 103.8,25.2 104.2,24.7 104.5,24.1 104.8,26.1 105.2,25.6 105.5,24.5 105.8,24.4 106.2,25.0 106.5,24.5 106.8,23.5 107.2,24.7 107.5,25.7 107.8,27.0 108.2,25.2 108.5,24.3 108.8,24.2 109.2,23.4 109.5,23.8 109.8,24.9 110.2,26.1 110.5,25.5 110.8,24.2 111.2,23.5 111.5,24.2 111.8,23.6 112.2,24.3 112.5,24.9 112.8,24.9 113.2,24.4 113.5,24.5 113.8,24.0 114.2,23.6 114.5,24.0 114.8,23.7 115.2,24.1 115.5,26.2 115.8,29.3 116.2,28.0 116.5,25.4 116.8,24.2 117.2,24.1 117.5,25.5 117.8,24.0 118.2,24.3 118.5,24.3 118.8,23.7 119.2,23.6 119.5,24.2 119.8,24.8 120.2,24.2 120.5,23.9 120.8,25.4 121.2,24.8 121.5,24.5 121.8,25.0 122.2,24.1 122.5,24.3 122.8,25.3 123.2,23.7 123.5,24.1 123.8,23.5 124.2,23.6 124.5,24.1 124.8,23.6 125.2,23.5 125.5,23.4 125.8,23.9 126.2,23.7 126.5,26.3 126.8,26.1 127.2,24.3 127.5,24.2 127.8,25.3 128.2,24.5 128.5,26.8 128.8,29.0 129.2,27.5 129.5,25.4 129.8,23.8 130.2,24.0 130.5,25.7 130.8,25.3 131.2,24.4 131.5,25.6 131.8,24.5 132.2,24.2 132.5,23.7 132.8,23.9 133.2,23.7 133.5,24.1 133.8,23.6 134.2,23.6 134.5,23.6 134.8,24.1 135.2,25.1 135.5,23.9 135.8,23.7 136.2,23.8 136.5,24.3 136.8,23.9 137.2,23.6 137.5,24.1 137.8,24.0 138.2,24.3 138.5,23.5 138.8,23.8 139.2,24.1 139.5,24.2 139.8,24.2 140.2,24.9 140.5,25.5 140.8,23.5 141.2,23.6 141.5,24.3 141.8,24.2 142.2,25.0 142.5,24.6 142.8,24.4 143.2,23.8 143.5,23.6 143.8,24.1 144.2,24.3 144.5,23.5 144.8,23.9 145.2,24.0 145.5,23.6 145.8,23.7 146.2,23.5 146.5,23.6 146.8,23.6 147.2,23.9 147.5,24.0 147.8,23.6 148.2,23.5 148.5,26.2 148.8,29.0 149.2,27.1 149.5,24.7 149.8,24.2 150.2,26.1 150.5,24.3 150.8,23.5 151.2,23.5 151.5,23.8 151.8,23.9 152.2,24.0 152.5,23.9 152.8,25.1 153.2,26.8 153.5,25.4 153.8,24.1 154.2,24.5 154.5,25.7 154.8,24.8 155.2,24.3 155.5,23.7 155.8,23.8 156.2,24.2 156.5,24.3 156.9,23.7 157.2,23.6 157.5,24.1 157.9,23.6 158.2,23.4 158.5,24.2 158.9,23.8 159.2,24.1 159.5,23.8 159.9,24.2 160.2,23.8 160.5,23.5 160.9,23.4 161.2,25.9 161.5,28.2 161.9,28.4 162.2,25.4 162.5,24.0 162.9,23.7 163.2,23.9 163.5,23.5 163.9,23.7 164.2,23.9 164.5,24.2 164.9,26.0 165.2,26.6 165.5,24.1 165.9,24.3 166.2,23.6 166.5,23.5 166.9,25.8 167.2,24.9 167.5,24.7 167.9,24.9 168.2,24.5 168.5,23.7 168.9,24.2 169.2,24.0 169.5,24.1 169.9,24.8 170.2,29.3 170.5,28.5 170.9,24.8 171.2,24.2 171.5,24.1 171.9,23.6 172.2,23.6 172.5,23.8 172.9,23.9 173.2,23.7 173.5,23.5 173.9,23.6 174.2,24.1 174.5,25.1 174.9,27.0 175.2,30.1 175.5,29.3 175.9,26.0 176.2,24.2 176.5,24.3 176.9,25.3 177.2,24.1 177.5,24.7 177.9,25.1 178.2,24.7 178.5,24.1 178.9,23.8 179.2,24.0 179.5,23.8 179.9,23.8 180.2,23.4 180.5,24.0 180.9,23.8 181.2,23.6 181.5,24.1 181.9,26.7 182.2,28.7 182.5,25.7 182.9,23.8 183.2,23.5 183.5,23.5 183.9,23.8 184.2,24.0 184.5,28.2 184.9,24.9 185.2,23.4 185.5,24.0 185.9,23.5 186.2,24.1 186.5,26.9 186.9,29.4 187.2,28.1 187.5,25.7 187.9,23.7 188.2,24.3 188.5,23.5 188.9,24.2 189.2,24.3 189.5,24.8 189.9,26.6 190.2,24.2 190.5,24.3 190.9,23.8 191.2,24.3 191.5,24.2 191.9,23.5 192.2,24.1 192.5,25.1 192.9,25.1 193.2,25.2 193.5,24.7 193.9,23.5 194.2,24.2 194.5,23.6 194.9,24.1 195.2,23.5 195.5,23.9 195.9,24.2 196.2,23.6 196.5,23.6 196.9,23.9 197.2,23.7 197.5,23.4 197.9,23.6 198.2,23.5 198.5,24.2 198.9,25.2 199.2,26.1 199.5,24.2 199.9,24.1 200.2,23.5 200.5,23.9 200.9,24.0 201.2,23.7 201.5,24.2 201.9,23.9 202.2,23.9 202.5,24.2 202.9,23.5 203.2,24.3 203.5,24.0 203.9,23.8 204.2,26.9 204.5,25.8 204.9,24.9 205.2,25.1 205.5,24.8 205.9,24.6 206.2,23.8 206.5,23.6 206.9,24.1 207.2,23.4 207.5,24.1 207.9,23.8 208.2,24.7 208.5,25.6 208.9,24.9 209.2,24.4 209.5,23.7 209.9,23.4 210.2,23.4 210.5,23.5 210.9,24.0 211.2,23.8 211.5,23.9 211.9,24.2 212.2,23.5 212.5,23.6 212.9,24.0 213.2,23.4 213.5,23.4 213.9,23.7 214.2,23.5 214.5,23.7 214.9,24.4 215.2,26.8 215.5,25.9 215.9,23.6 216.2,24.0 216.5,23.8 216.9,23.5 217.2,25.3 217.5,24.0 217.9,23.5 218.2,23.5 218.5,24.0 218.9,24.2 219.2,24.1 219.5,23.8 219.9,23.6 220.2,23.4 220.5,24.0 220.9,23.9 221.2,23.7 221.5,24.0 221.9,23.8 222.2,24.2 222.5,24.1 222.9,24.3 223.2,26.6 223.5,26.1 223.9,24.8 224.2,23.8 224.5,23.6 224.9,23.5 225.2,24.1 225.5,23.4 225.9,23.9 226.2,24.2 226.5,23.5 226.9,23.6 227.2,23.9 227.5,24.2 227.9,25.2 228.2,26.3 228.5,25.1 228.9,24.3 229.2,23.7 229.5,23.4 229.9,24.2 230.2,24.1 230.5,24.0 230.9,23.4 231.2,24.2 231.5,25.2 231.9,24.8 232.2,24.1 232.5,24.3 232.9,24.9 233.2,24.7 233.5,24.0 233.9,23.6 234.2,25.7 234.5,24.8 234.9,24.0 235.2,24.2 235.5,24.0 235.9,23.6 236.2,23.9 236.5,23.8 236.9,24.1 237.2,23.9 237.5,23.6 237.9,24.0 238.2,24.7 238.5,25.2 238.9,25.5 239.2,23.6 239.5,23.6 239.9,23.6 240.2,24.2 240.5,27.9 240.9,29.4 241.2,25.4 241.5,24.2 241.9,23.7 242.2,23.6 242.5,24.2 242.9,24.0 243.2,24.0 243.5,24.0 243.9,24.3 244.2,23.8 244.5,24.2 244.9,24.8 245.2,26.3 245.5,25.6 245.9,24.5 246.2,23.9 246.5,23.7 246.9,24.0 247.2,25.0 247.5,24.0 247.9,24.7 248.2,24.4 248.5,24.2 248.9,24.2 249.2,26.0 249.5,25.8 249.9,24.5 250.2,23.4 250.5,23.4 250.9,24.2 251.2,25.2 251.5,25.7 251.9,24.7 252.2,23.5 252.5,23.9 252.9,23.7 253.2,25.8 253.5,27.8 253.9,24.2 254.2,23.5 254.5,24.2 254.9,24.2 255.2,25.0 255.5,25.0 255.9,24.0 256.2,23.5 256.5,23.4 256.9,24.2 257.2,24.1 257.5,24.0 257.9,24.2 258.2,25.4 258.5,26.2 258.9,24.7 259.2,23.5 259.5,24.1 259.9,23.6 260.2,23.7 260.5,23.8 260.9,23.6 261.2,27.5 261.5,29.2 261.9,26.0 262.2,23.7 262.5,23.7 262.9,24.3 263.2,24.5 263.5,26.2 263.9,25.8 264.2,23.9 264.5,23.8 264.9,23.8 265.2,24.1 265.5,23.7 265.9,25.1 266.2,26.1 266.5,24.9 266.9,24.2 267.2,23.5 267.5,26.6 267.9,29.2 268.2,28.6 268.5,25.7 268.9,24.1 269.2,24.3 269.5,23.4 269.9,23.8 270.2,23.8 270.5,24.1 270.9,23.6 271.2,23.8 271.5,24.8 271.9,30.0 272.2,27.1 272.5,24.2 272.9,23.7 273.2,23.6 273.2,134.2 272.9,134.2 272.5,134.1 272.2,133.8 271.9,133.6 271.5,133.5 271.2,133.7 270.9,134.0 270.5,134.2 270.2,134.2 269.9,134.2 269.5,134.2 269.2,134.2 268.9,134.2 268.5,134.2 268.2,134.2 267.9,133.7 267.5,133.0 267.2,132.9 266.9,133.6 266.5,133.5 266.2,132.7 265.9,132.8 265.5,133.6 265.2,134.2 264.9,134.2 264.5,134.2 264.2,133.9 263.9,133.4 263.5,133.8 263.2,134.2 262.9,134.2 262.5,133.9 262.2,133.5 261.9,133.2 261.5,133.0 261.2,133.4 260.9,133.8 260.5,134.2 260.2,134.2 259.9,134.2 259.5,134.1 259.2,133.5 258.9,132.9 258.5,132.3 258.2,132.6 257.9,133.2 257.5,133.8 257.2,134.2 256.9,134.2 256.5,134.2 256.2,134.2 255.9,134.2 255.5,134.2 255.2,134.2 254.9,132.9 254.5,129.7 254.2,129.7 253.9,132.9 253.5,134.2 253.2,134.2 252.9,134.2 252.5,133.7 252.2,132.5 251.9,132.4 251.5,133.7 251.2,133.6 250.9,133.2 250.5,133.0 250.2,133.4 249.9,133.7 249.5,131.7 249.2,129.3 248.9,129.4 248.5,131.8 248.2,134.2 247.9,134.2 247.5,134.2 247.2,134.2 246.9,134.2 246.5,134.2 246.2,134.2 245.9,134.2 245.5,133.9 245.2,133.6 244.9,133.4 244.5,133.8 244.2,134.1 243.9,134.2 243.5,134.2 243.2,134.2 242.9,134.2 242.5,134.2 242.2,134.2 241.9,134.2 241.5,134.2 241.2,134.2 240.9,134.2 240.5,134.2 240.2,134.2 239.9,133.9 239.5,133.5 239.2,133.2 238.9,133.1 238.5,133.5 238.2,133.8 237.9,134.1 237.5,134.2 237.2,134.2 236.9,134.2 236.5,134.2 236.2,134.2 235.9,134.2 235.5,134.2 235.2,134.2 234.9,134.2 234.5,134.0 234.2,133.0 233.9,132.6 233.5,133.6 233.2,134.2 232.9,134.2 232.5,133.9 232.2,133.3 231.9,132.8 231.5,133.3 231.2,133.8 230.9,134.2 230.5,134.2 230.2,134.2 229.9,134.2 229.5,133.4 229.2,132.5 228.9,131.5 228.5,132.2 228.2,133.1 227.9,134.1 227.5,133.8 227.2,133.4 226.9,133.9 226.5,134.2 226.2,134.2 225.9,134.2 225.5,134.2 225.2,132.9 224.9,131.5 224.5,131.9 224.2,133.3 223.9,134.2 223.5,133.7 223.2,133.3 222.9,133.8 222.5,134.2 222.2,134.2 221.9,134.2 221.5,134.2 221.2,133.8 220.9,132.6 220.5,131.4 220.2,131.4 219.9,132.6 219.5,133.8 219.2,134.2 218.9,134.2 218.5,134.2 218.2,134.2 217.9,133.6 217.5,133.0 217.2,132.7 216.9,133.4 216.5,134.0 216.2,134.0 215.9,133.1 215.5,132.2 215.2,131.4 214.9,131.6 214.5,132.4 214.2,133.3 213.9,133.1 213.5,133.0 213.2,133.4 212.9,132.6 212.5,131.1 212.2,132.4 211.9,133.1 211.5,132.3 211.2,132.5 210.9,133.2 210.5,133.9 210.2,134.2 209.9,133.1 209.5,131.9 209.2,130.8 208.9,131.5 208.5,132.7 208.2,131.6 207.9,132.2 207.5,133.3 207.2,134.2 206.9,134.2 206.5,134.2 206.2,133.9 205.9,133.1 205.5,132.3 205.2,132.3 204.9,133.1 204.5,133.9 204.2,134.2 203.9,134.2 203.5,134.2 203.2,134.2 202.9,134.2 202.5,134.2 202.2,134.2 201.9,134.2 201.5,133.7 201.2,132.8 200.9,133.2 200.5,134.1 200.2,133.7 199.9,132.9 199.5,133.6 199.2,134.2 198.9,134.2 198.5,134.2 198.2,134.2 197.9,134.2 197.5,133.3 197.2,131.7 196.9,130.1 196.5,130.4 196.2,131.9 195.9,133.5 195.5,134.2 195.2,134.1 194.9,132.9 194.5,131.8 194.2,130.7 193.9,131.4 193.5,132.6 193.2,133.7 192.9,134.2 192.5,134.2 192.2,134.2 191.9,134.2 191.5,134.2 191.2,134.2 190.9,134.2 190.5,133.6 190.2,132.8 189.9,132.2 189.5,133.0 189.2,132.7 188.9,131.7 188.5,131.3 188.2,132.3 187.9,133.3 187.5,134.2 187.2,134.2 186.9,133.7 186.5,132.6 186.2,131.4 185.9,130.2 185.5,131.3 185.2,132.4 184.9,131.4 184.5,131.9 184.2,132.9 183.9,133.2 183.5,132.7 183.2,133.0 182.9,133.5 182.5,133.7 182.2,132.8 181.9,131.9 181.5,131.3 181.2,132.2 180.9,133.1 180.5,134.0 180.2,134.2 179.9,134.2 179.5,133.8 179.2,133.1 178.9,132.5 178.5,132.3 178.2,133.0 177.9,133.7 177.5,134.2 177.2,134.2 176.9,134.2 176.5,133.7 176.2,133.0 175.9,133.2 175.5,133.9 175.2,132.9 174.9,133.0 174.5,134.0 174.2,133.7 173.9,133.4 173.5,133.8 173.2,134.1 172.9,134.2 172.5,134.2 172.2,133.9 171.9,132.9 171.5,132.4 171.2,133.4 170.9,134.2 170.5,134.2 170.2,134.1 169.9,133.8 169.5,133.5 169.2,133.6 168.9,134.0 168.5,134.2 168.2,132.5 167.9,129.8 167.5,129.2 167.2,131.8 166.9,132.9 166.5,130.7 166.2,128.5 165.9,130.1 165.5,132.3 165.2,134.2 164.9,134.2 164.5,134.2 164.2,134.2 163.9,134.2 163.5,134.2 163.2,134.2 162.9,134.2 162.5,134.2 162.2,134.2 161.9,134.2 161.5,134.2 161.2,134.2 160.9,134.2 160.5,134.2 160.2,134.2 159.9,133.9 159.5,133.0 159.2,132.5 158.9,133.4 158.5,133.7 158.2,133.2 157.9,132.9 157.5,133.5 157.2,134.1 156.9,132.9 156.5,131.7 156.2,132.4 155.8,133.7 155.5,134.2 155.2,134.2 154.8,134.2 154.5,134.2 154.2,134.2 153.8,134.2 153.5,134.2 153.2,134.2 152.8,134.2 152.5,133.9 152.2,133.6 151.8,133.3 151.5,133.4 151.2,133.7 150.8,132.8 150.5,131.3 150.2,132.2 149.8,133.7 149.5,133.6 149.2,133.5 148.8,134.0 148.5,134.2 148.2,133.6 147.8,132.5 147.5,131.7 147.2,132.8 146.8,133.8 146.5,134.2 146.2,134.2 145.8,134.2 145.5,134.2 145.2,133.8 144.8,133.4 144.5,132.9 144.2,132.9 143.8,133.3 143.5,133.8 143.2,134.2 142.8,134.2 142.5,134.2 142.2,134.2 141.8,134.2 141.5,134.2 141.2,134.2 140.8,134.2 140.5,134.2 140.2,134.2 139.8,134.2 139.5,134.2 139.2,134.2 138.8,134.2 138.5,134.2 138.2,134.2 137.8,134.2 137.5,134.2 137.2,134.2 136.8,133.7 136.5,133.0 136.2,132.4 135.8,132.6 135.5,133.3 135.2,134.0 134.8,133.4 134.5,132.8 134.2,132.2 133.8,132.8 133.5,133.4 133.2,134.0 132.8,133.8 132.5,133.5 132.2,133.2 131.8,133.5 131.5,133.8 131.2,134.1 130.8,134.2 130.5,134.2 130.2,134.2 129.8,134.2 129.5,134.2 129.2,134.2 128.8,134.2 128.5,134.2 128.2,134.2 127.8,134.2 127.5,134.2 127.2,134.2 126.8,133.8 126.5,133.4 126.2,133.1 125.8,133.6 125.5,134.0 125.2,134.2 124.8,134.2 124.5,133.9 124.2,133.7 123.8,133.4 123.5,133.6 123.2,133.9 122.8,134.1 122.5,133.3 122.2,132.9 121.8,133.8 121.5,133.7 121.2,133.2 120.8,132.9 120.5,133.4 120.2,134.0 119.8,134.2 119.5,134.2 119.2,134.2 118.8,134.2 118.5,134.2 118.2,134.2 117.8,133.7 117.5,133.0 117.2,133.1 116.8,133.7 116.5,134.1 116.2,133.5 115.8,133.3 115.5,133.9 115.2,133.4 114.8,132.3 114.5,132.8 114.2,133.8 113.8,131.3 113.5,128.9 113.2,131.2 112.8,133.7 112.5,134.2 112.2,134.2 111.8,134.2 111.5,133.4 111.2,132.6 110.8,132.8 110.5,133.6 110.2,134.2 109.8,134.2 109.5,134.2 109.2,134.2 108.8,134.2 108.5,134.2 108.2,134.2 107.8,134.2 107.5,134.2 107.2,134.2 106.8,132.6 106.5,130.2 106.2,132.1 105.8,132.9 105.5,132.1 105.2,131.9 104.8,132.7 104.5,133.5 104.2,134.2 103.8,134.2 103.5,134.2 103.2,134.2 102.8,134.2 102.5,134.2 102.2,134.2 101.8,134.2 101.5,134.2 101.2,134.2 100.8,134.2 100.5,134.2 100.2,134.2 99.8,134.0 99.5,133.0 99.2,132.8 98.8,133.8 98.5,134.2 98.2,134.2 97.8,134.2 97.5,134.2 97.2,134.2 96.8,134.2 96.5,133.7 96.2,133.3 95.8,133.8 95.5,134.2 95.2,134.2 94.8,134.2 94.5,134.2 94.2,134.2 93.8,133.5 93.5,131.6 93.2,129.7 92.8,130.1 92.5,131.9 92.2,132.7 91.8,130.9 91.5,131.6 91.2,133.4 90.8,134.2 90.5,134.2 90.2,134.2 89.8,134.2 89.5,134.2 89.2,134.2 88.8,134.2 88.5,134.2 88.2,134.2 87.8,134.2 87.5,134.2 87.2,134.2 86.8,133.7 86.5,133.3 86.2,133.4 85.8,133.8 85.5,133.9 85.2,133.6 84.8,133.3 84.5,133.6 84.2,133.8 83.8,133.8 83.5,130.6 83.2,129.0 82.8,132.2 82.5,134.2 82.2,134.2 81.8,134.2 81.5,134.2 81.2,134.2 80.8,134.2 80.5,134.1 80.2,133.8 79.8,133.6 79.5,133.3 79.2,133.5 78.8,133.7 78.5,134.0 78.2,134.2 77.8,133.7 77.5,133.2 77.2,132.7 76.8,133.2 76.5,132.9 76.2,132.0 75.8,132.8 75.5,133.3 75.2,132.8 74.8,133.1 74.5,133.6 74.2,133.4 73.8,132.4 73.5,132.7 73.2,133.6 72.8,134.2 72.5,134.2 72.2,133.1 71.8,131.1 71.5,131.4 71.2,133.4 70.8,134.2 70.5,134.2 70.2,134.2 69.8,134.2 69.5,134.2 69.2,134.2 68.8,134.2 68.5,134.2 68.2,134.2 67.8,134.2 67.5,134.2 67.2,134.2 66.8,134.2 66.5,134.2 66.2,134.2 65.8,134.2 65.5,134.2 65.2,134.2 64.8,134.2 64.5,134.2 64.2,134.2 63.8,134.2 63.5,134.2 63.2,133.9 62.8,133.3 62.5,132.6 62.2,133.0 61.8,133.6 61.5,134.2 61.2,134.2 60.8,134.2 60.5,134.2 60.2,134.2 59.8,134.2 59.5,134.2 59.2,134.2 58.8,134.2 58.5,134.2 58.2,134.2 57.8,134.2 57.5,134.2 57.2,134.2 56.8,134.2 56.5,133.0 56.2,130.1 55.8,129.1 55.5,132.0 55.2,134.2 54.8,134.2 54.5,134.2 54.2,134.2 53.8,134.2 53.5,134.2 53.2,134.2 52.8,134.2 52.5,134.2 52.2,134.2 51.8,134.2 51.5,133.2 51.2,131.8 50.8,132.5 50.5,133.9 50.2,134.2 49.8,134.2 49.5,134.2 49.2,134.2 48.8,134.2 48.5,134.2 48.2,132.0 47.8,129.5 47.5,131.7 47.2,134.2 46.8,134.2 46.5,134.2 46.2,134.2 45.8,134.2 45.5,134.2 45.2,134.2 44.8,134.0 44.5,133.7 44.2,133.3 43.8,133.5 43.5,133.8 43.2,134.1 42.8,133.2 42.5,132.5 42.2,133.6 41.8,133.3 41.5,131.2 41.2,131.2 40.8,133.3 40.5,134.2 40.2,134.2 39.8,134.2 39.5,134.2 39.2,134.2 38.8,134.2 38.5,134.2"/>
<polygon fill="#0072BF" points="38.5,26.2 38.8,26.5 39.2,26.5 39.5,26.6 39.8,27.3 40.2,29.0 40.5,27.2 40.8,28.5 41.2,27.5 41.5,24.9 41.8,24.9 42.2,25.3 42.5,27.1 42.8,25.5 43.2,25.7 43.5,24.3 43.8,27.0 44.2,31.1 44.5,29.7 44.8,27.6 45.2,28.7 45.5,30.0 45.8,27.8 46.2,26.9 46.5,25.8 46.8,27.0 47.2,27.8 47.5,28.5 47.8,27.2 48.2,30.4 48.5,30.9 48.8,28.5 49.2,26.7 49.5,27.1 49.8,25.4 50.2,25.0 50.5,25.5 50.8,25.2 51.2,24.5 51.5,25.0 51.8,25.8 52.2,25.5 52.5,26.2 52.8,26.7 53.2,26.6 53.5,26.1 53.8,24.5 54.2,24.7 54.5,25.9 54.8,27.1 55.2,27.8 55.5,26.2 55.8,26.2 56.2,25.8 56.5,26.2 56.8,25.5 57.2,24.5 57.5,25.8 57.8,24.9 58.2,26.8 58.5,29.1 58.8,27.3 59.2,25.8 59.5,25.0 59.8,24.6 60.2,26.7 60.5,27.4 60.8,27.0 61.2,25.7 61.5,24.4 61.8,24.9 62.2,25.6 62.5,25.4 62.8,25.1 63.2,26.0 63.5,28.3 63.8,29.4 64.2,27.6 64.5,24.9 64.8,26.1 65.2,27.4 65.5,27.7 65.8,29.0 66.2,28.4 66.5,26.8 66.8,25.4 67.2,25.5 67.5,26.0 67.8,26.5 68.2,27.1 68.5,28.0 68.8,27.5 69.2,27.3 69.5,28.0 69.8,27.4 70.2,26.9 70.5,27.1 70.8,27.4 71.2,25.7 71.5,25.4 71.8,25.3 72.2,24.8 72.5,27.2 72.8,29.4 73.2,31.0 73.5,28.6 73.8,26.9 74.2,25.8 74.5,24.6 74.8,25.3 75.2,25.5 75.5,24.9 75.8,25.1 76.2,26.4 76.5,25.7 76.8,27.4 77.2,26.9 77.5,27.1 77.8,26.5 78.2,25.1 78.5,25.4 78.8,27.8 79.2,29.4 79.5,28.2 79.8,26.2 80.2,25.3 80.5,25.6 80.8,25.1 81.2,25.0 81.5,25.8 81.8,24.6 82.2,29.0 82.5,32.3 82.8,34.4 83.2,29.5 83.5,27.1 83.8,24.9 84.2,24.5 84.5,25.4 84.8,26.1 85.2,26.0 85.5,26.1 85.8,25.6 86.2,25.5 86.5,26.0 86.8,28.7 87.2,31.5 87.5,35.2 87.8,33.2 88.2,29.6 88.5,26.7 88.8,28.6 89.2,27.0 89.5,27.2 89.8,27.1 90.2,26.5 90.5,27.1 90.8,26.7 91.2,26.0 91.5,27.1 91.8,26.6 92.2,26.7 92.5,24.9 92.8,25.3 93.2,25.6 93.5,25.6 93.8,25.0 94.2,24.8 94.5,25.2 94.8,24.8 95.2,26.6 95.5,26.6 95.8,26.8 96.2,25.2 96.5,25.8 96.8,28.0 97.2,30.7 97.5,32.7 97.8,30.5 98.2,29.2 98.5,26.1 98.8,24.7 99.2,24.8 99.5,25.1 99.8,25.0 100.2,25.3 100.5,25.4 100.8,25.9 101.2,27.9 101.5,27.7 101.8,26.4 102.2,29.9 102.5,32.2 102.8,33.7 103.2,30.4 103.5,29.3 103.8,27.4 104.2,25.4 104.5,26.0 104.8,28.7 105.2,28.5 105.5,26.6 105.8,25.1 106.2,25.8 106.5,25.8 106.8,26.6 107.2,27.0 107.5,27.8 107.8,29.7 108.2,28.5 108.5,26.4 108.8,26.4 109.2,25.3 109.5,26.1 109.8,27.2 110.2,28.9 110.5,28.8 110.8,27.6 111.2,25.3 111.5,25.4 111.8,25.5 112.2,26.2 112.5,26.2 112.8,27.4 113.2,26.4 113.5,25.5 113.8,25.0 114.2,24.5 114.5,25.1 114.8,24.9 115.2,27.9 115.5,29.8 115.8,32.7 116.2,31.3 116.5,29.0 116.8,27.2 117.2,25.9 117.5,28.5 117.8,26.1 118.2,25.2 118.5,25.4 118.8,25.6 119.2,24.9 119.5,25.9 119.8,27.3 120.2,24.9 120.5,26.3 120.8,27.2 121.2,25.7 121.5,26.1 121.8,26.8 122.2,26.4 122.5,26.4 122.8,28.3 123.2,25.7 123.5,25.1 123.8,25.7 124.2,24.4 124.5,25.4 124.8,25.3 125.2,24.8 125.5,25.7 125.8,24.9 126.2,26.0 126.5,28.5 126.8,28.8 127.2,25.5 127.5,26.4 127.8,27.6 128.2,28.5 128.5,30.9 128.8,32.0 129.2,31.6 129.5,29.0 129.8,27.2 130.2,25.4 130.5,27.9 130.8,28.2 131.2,26.5 131.5,28.0 131.8,26.7 132.2,25.4 132.5,24.8 132.8,25.2 133.2,25.3 133.5,25.6 133.8,24.4 134.2,25.5 134.5,25.7 134.8,26.4 135.2,26.0 135.5,25.0 135.8,24.3 136.2,24.6 136.5,25.8 136.8,25.3 137.2,25.4 137.5,25.6 137.8,25.8 138.2,25.3 138.5,25.3 138.8,25.3 139.2,25.4 139.5,25.3 139.8,25.9 140.2,27.3 140.5,28.4 140.8,26.0 141.2,25.5 141.5,24.6 141.8,25.3 142.2,25.6 142.5,26.9 142.8,26.5 143.2,25.5 143.5,24.9 143.8,25.6 144.2,25.6 144.5,25.2 144.8,24.7 145.2,24.8 145.5,25.0 145.8,24.8 146.2,25.0 146.5,25.3 146.8,25.8 147.2,24.4 147.5,25.2 147.8,24.4 148.2,26.9 148.5,30.5 148.8,32.6 149.2,31.6 149.5,28.4 149.8,25.8 150.2,27.8 150.5,26.6 150.8,25.8 151.2,25.9 151.5,25.1 151.8,25.0 152.2,24.9 152.5,26.9 152.8,27.4 153.2,28.5 153.5,27.1 153.8,25.9 154.2,26.9 154.5,26.7 154.8,27.6 155.2,25.5 155.5,26.1 155.8,24.5 156.2,24.3 156.5,25.5 156.9,24.7 157.2,25.5 157.5,24.6 157.9,24.4 158.2,25.5 158.5,25.4 158.9,25.7 159.2,25.5 159.5,24.4 159.9,25.3 160.2,25.4 160.5,25.0 160.9,27.9 161.2,29.0 161.5,32.4 161.9,31.9 162.2,28.6 162.5,26.4 162.9,25.3 163.2,25.6 163.5,24.4 163.9,24.8 164.2,25.5 164.5,26.0 164.9,29.9 165.2,29.6 165.5,26.1 165.9,24.9 166.2,25.2 166.5,25.6 166.9,27.9 167.2,26.0 167.5,27.2 167.9,27.1 168.2,26.4 168.5,25.3 168.9,25.0 169.2,24.9 169.5,26.0 169.9,30.1 170.2,33.7 170.5,33.1 170.9,28.8 171.2,24.6 171.5,25.9 171.9,25.4 172.2,25.6 172.5,24.8 172.9,25.3 173.2,25.9 173.5,25.6 173.9,25.3 174.2,26.1 174.5,28.9 174.9,32.3 175.2,34.1 175.5,33.6 175.9,30.8 176.2,28.6 176.5,27.0 176.9,26.8 177.2,25.2 177.5,26.1 177.9,27.1 178.2,26.8 178.5,26.4 178.9,25.8 179.2,24.4 179.5,25.6 179.9,25.6 180.2,25.7 180.5,25.2 180.9,24.7 181.2,25.7 181.5,27.7 181.9,30.2 182.2,32.9 182.5,29.2 182.9,26.0 183.2,25.2 183.5,25.6 183.9,24.6 184.2,28.0 184.5,32.2 184.9,27.7 185.2,25.3 185.5,25.4 185.9,25.2 186.2,27.5 186.5,30.3 186.9,33.8 187.2,32.9 187.5,29.7 187.9,26.4 188.2,25.6 188.5,25.5 188.9,24.7 189.2,25.2 189.5,27.5 189.9,29.2 190.2,26.8 190.5,25.1 190.9,25.2 191.2,24.6 191.5,24.6 191.9,24.6 192.2,26.3 192.5,26.6 192.9,27.7 193.2,27.2 193.5,26.6 193.9,25.2 194.2,24.4 194.5,25.9 194.9,24.9 195.2,24.5 195.5,25.3 195.9,25.6 196.2,24.5 196.5,25.3 196.9,24.9 197.2,25.1 197.5,24.3 197.9,24.4 198.2,25.9 198.5,26.5 198.9,27.2 199.2,28.1 199.5,26.3 199.9,25.9 200.2,25.0 200.5,25.8 200.9,25.5 201.2,25.6 201.5,25.8 201.9,24.7 202.2,24.4 202.5,24.6 202.9,24.6 203.2,24.4 203.5,24.4 203.9,26.7 204.2,30.1 204.5,28.9 204.9,27.1 205.2,27.6 205.5,26.1 205.9,26.4 206.2,25.5 206.5,24.5 206.9,25.8 207.2,24.7 207.5,25.4 207.9,26.1 208.2,27.1 208.5,27.3 208.9,26.5 209.2,26.0 209.5,25.0 209.9,25.8 210.2,25.9 210.5,24.7 210.9,24.4 211.2,24.7 211.5,24.9 211.9,25.7 212.2,25.7 212.5,25.6 212.9,24.4 213.2,25.6 213.5,25.4 213.9,25.3 214.2,25.9 214.5,24.5 214.9,26.8 215.2,29.9 215.5,29.2 215.9,26.7 216.2,24.8 216.5,25.2 216.9,25.9 217.2,26.1 217.5,25.8 217.9,24.7 218.2,24.5 218.5,25.1 218.9,24.6 219.2,24.7 219.5,24.5 219.9,25.4 220.2,24.3 220.5,25.4 220.9,24.6 221.2,24.4 221.5,25.8 221.9,24.7 222.2,25.8 222.5,26.0 222.9,27.8 223.2,28.4 223.5,29.1 223.9,26.8 224.2,26.4 224.5,25.6 224.9,25.3 225.2,25.0 225.5,24.8 225.9,25.6 226.2,25.1 226.5,25.3 226.9,24.5 227.2,25.0 227.5,25.7 227.9,27.7 228.2,28.3 228.5,27.1 228.9,27.3 229.2,25.4 229.5,25.0 229.9,24.5 230.2,24.7 230.5,25.6 230.9,24.8 231.2,25.3 231.5,26.9 231.9,26.5 232.2,26.3 232.5,25.7 232.9,27.9 233.2,26.3 233.5,26.8 233.9,26.5 234.2,27.6 234.5,26.8 234.9,24.8 235.2,24.7 235.5,24.6 235.9,24.9 236.2,25.9 236.5,25.9 236.9,25.8 237.2,24.5 237.5,24.8 237.9,26.0 238.2,25.7 238.5,27.9 238.9,27.0 239.2,27.0 239.5,24.3 239.9,25.6 240.2,27.7 240.5,30.9 240.9,32.3 241.2,30.1 241.5,26.0 241.9,24.6 242.2,25.0 242.5,25.8 242.9,24.6 243.2,25.2 243.5,24.5 243.9,24.6 244.2,25.5 244.5,26.0 244.9,26.5 245.2,27.7 245.5,27.3 245.9,26.8 246.2,25.3 246.5,25.0 246.9,25.5 247.2,26.8 247.5,26.4 247.9,26.5 248.2,26.6 248.5,25.9 248.9,26.1 249.2,28.3 249.5,28.1 249.9,27.5 250.2,25.4 250.5,25.6 250.9,25.9 251.2,27.7 251.5,28.2 251.9,26.6 252.2,24.8 252.5,25.8 252.9,25.1 253.2,29.3 253.5,30.3 253.9,26.5 254.2,25.6 254.5,24.9 254.9,24.9 255.2,26.3 255.5,27.5 255.9,25.5 256.2,25.2 256.5,25.0 256.9,25.1 257.2,24.5 257.5,25.4 257.9,26.8 258.2,28.2 258.5,28.5 258.9,27.8 259.2,25.9 259.5,25.5 259.9,24.4 260.2,25.7 260.5,25.8 260.9,28.1 261.2,31.7 261.5,33.5 261.9,29.9 262.2,25.4 262.5,25.8 262.9,25.1 263.2,26.4 263.5,27.7 263.9,27.6 264.2,27.2 264.5,24.5 264.9,24.5 265.2,25.4 265.5,25.4 265.9,26.4 266.2,28.5 266.5,27.6 266.9,26.2 267.2,27.7 267.5,29.9 267.9,34.3 268.2,33.7 268.5,29.5 268.9,26.4 269.2,25.1 269.5,25.1 269.9,24.7 270.2,24.5 270.5,24.9 270.9,24.5 271.2,25.2 271.5,29.8 271.9,33.4 272.2,31.7 272.5,27.3 272.9,24.6 273.2,25.6 273.2,132.2 272.9,131.5 272.5,131.2 272.2,131.1 271.9,131.1 271.5,130.9 271.2,131.3 270.9,131.0 270.5,131.4 270.2,131.7 269.9,132.1 269.5,132.0 269.2,132.4 268.9,132.3 268.5,131.7 268.2,131.3 267.9,130.4 267.5,130.0 267.2,129.4 266.9,130.5 266.5,130.3 266.2,129.4 265.9,129.2 265.5,129.9 265.2,131.0 264.9,132.0 264.5,131.9 264.2,131.1 263.9,130.4 263.5,131.3 263.2,131.4 262.9,131.2 262.5,131.1 262.2,130.4 261.9,130.4 261.5,129.8 261.2,130.1 260.9,130.6 260.5,131.2 260.2,131.7 259.9,130.8 259.5,130.3 259.2,129.6 258.9,129.3 258.5,128.4 258.2,129.1 257.9,129.3 257.5,129.9 257.2,130.7 256.9,131.1 256.5,131.9 256.2,132.0 255.9,132.2 255.5,132.1 255.2,129.2 254.9,126.1 254.5,122.7 254.2,123.1 253.9,126.0 253.5,129.3 253.2,132.5 252.9,130.8 252.5,130.0 252.2,128.4 251.9,128.5 251.5,129.5 251.2,130.8 250.9,130.3 250.5,129.8 250.2,129.7 249.9,127.0 249.5,124.4 249.2,122.6 248.9,122.3 248.5,124.7 248.2,127.2 247.9,129.4 247.5,132.0 247.2,132.5 246.9,132.3 246.5,132.5 246.2,131.8 245.9,131.5 245.5,131.5 245.2,130.8 244.9,130.9 244.5,131.0 244.2,131.4 243.9,131.9 243.5,132.1 243.2,132.4 242.9,132.3 242.5,132.0 242.2,132.4 241.9,132.2 241.5,132.0 241.2,132.4 240.9,132.1 240.5,131.6 240.2,131.2 239.9,130.8 239.5,130.6 239.2,130.1 238.9,130.2 238.5,130.4 238.2,131.1 237.9,131.2 237.5,131.4 237.2,132.0 236.9,132.4 236.5,132.0 236.2,132.3 235.9,132.3 235.5,132.1 235.2,132.2 234.9,131.2 234.5,130.4 234.2,129.5 233.9,128.9 233.5,129.9 233.2,131.3 232.9,131.1 232.5,130.6 232.2,129.9 231.9,129.3 231.5,129.9 231.2,130.4 230.9,130.9 230.5,131.7 230.2,131.1 229.9,130.3 229.5,129.3 229.2,128.3 228.9,127.2 228.5,128.0 228.2,129.0 227.9,130.0 227.5,130.5 227.2,130.5 226.9,131.1 226.5,131.7 226.2,132.3 225.9,131.2 225.5,129.7 225.2,128.2 224.9,127.0 224.5,127.3 224.2,128.5 223.9,129.9 223.5,130.7 223.2,130.8 222.9,130.8 222.5,131.7 222.2,132.0 221.9,131.6 221.5,130.4 221.2,128.7 220.9,127.8 220.5,126.8 220.2,126.5 219.9,128.1 219.5,128.9 219.2,130.3 218.9,131.6 218.5,131.5 218.2,130.9 217.9,130.0 217.5,129.4 217.2,129.2 216.9,129.8 216.5,130.2 216.2,129.4 215.9,128.8 215.5,127.8 215.2,126.5 214.9,127.0 214.5,127.8 214.2,128.8 213.9,129.7 213.5,129.7 213.2,129.6 212.9,128.1 212.5,126.4 212.2,127.6 211.9,129.1 211.5,128.8 211.2,128.4 210.9,129.2 210.5,130.1 210.2,129.5 209.9,128.3 209.5,126.8 209.2,125.6 208.9,126.8 208.5,127.9 208.2,127.4 207.9,128.1 207.5,128.9 207.2,129.8 206.9,131.1 206.5,130.8 206.2,129.8 205.9,129.6 205.5,128.5 205.2,128.6 204.9,129.3 204.5,130.0 204.2,131.0 203.9,131.6 203.5,131.9 203.2,132.1 202.9,132.4 202.5,132.0 202.2,131.8 201.9,131.5 201.5,130.6 201.2,129.7 200.9,130.0 200.5,130.8 200.2,130.8 199.9,130.1 199.5,130.6 199.2,131.2 198.9,132.3 198.5,132.3 198.2,130.8 197.9,129.2 197.5,127.5 197.2,125.9 196.9,124.5 196.5,124.3 196.2,125.9 195.9,127.7 195.5,129.2 195.2,128.9 194.9,128.1 194.5,126.6 194.2,125.6 193.9,126.2 193.5,127.6 193.2,128.6 192.9,130.0 192.5,130.7 192.2,132.2 191.9,132.3 191.5,131.9 191.2,131.5 190.9,130.6 190.5,130.0 190.2,129.2 189.9,128.3 189.5,129.0 189.2,128.3 188.9,127.3 188.5,126.9 188.2,127.8 187.9,128.8 187.5,129.9 187.2,129.8 186.9,128.4 186.5,127.2 186.2,125.8 185.9,124.9 185.5,126.2 185.2,127.1 184.9,126.7 184.5,127.6 184.2,128.3 183.9,129.7 183.5,129.2 183.2,129.8 182.9,130.1 182.5,129.1 182.2,128.6 181.9,127.4 181.5,126.8 181.2,127.5 180.9,128.5 180.5,129.4 180.2,130.2 179.9,130.8 179.5,129.8 179.2,129.6 178.9,128.8 178.5,128.4 178.2,129.1 177.9,130.0 177.5,130.5 177.2,131.6 176.9,131.0 176.5,130.2 176.2,130.0 175.9,129.8 175.5,130.8 175.2,129.7 174.9,129.9 174.5,130.5 174.2,130.8 173.9,131.0 173.5,131.2 173.2,131.3 172.9,131.6 172.5,131.5 172.2,130.3 171.9,129.1 171.5,128.7 171.2,129.8 170.9,130.6 170.5,131.7 170.2,131.3 169.9,131.3 169.5,130.7 169.2,131.1 168.9,131.2 168.5,128.3 168.2,125.7 167.9,123.1 167.5,122.4 167.2,125.2 166.9,126.2 166.5,123.6 166.2,121.4 165.9,122.9 165.5,125.6 165.2,127.7 164.9,129.7 164.5,132.1 164.2,132.0 163.9,132.4 163.5,132.1 163.2,132.1 162.9,132.3 162.5,132.3 162.2,132.1 161.9,132.1 161.5,132.5 161.2,132.3 160.9,132.4 160.5,131.8 160.2,131.0 159.9,130.2 159.5,129.2 159.2,129.1 158.9,130.0 158.5,130.4 158.2,130.2 157.9,129.9 157.5,130.4 157.2,130.2 156.9,128.8 156.5,127.4 156.2,128.3 155.8,129.4 155.5,130.9 155.2,131.8 154.8,132.3 154.5,132.0 154.2,132.4 153.8,132.4 153.5,132.0 153.2,131.8 152.8,131.3 152.5,131.0 152.2,130.8 151.8,130.3 151.5,130.8 151.2,129.6 150.8,128.1 150.5,126.9 150.2,127.4 149.8,129.2 149.5,130.5 149.2,130.9 148.8,131.3 148.5,130.5 148.2,129.2 147.8,128.6 147.5,127.5 147.2,128.9 146.8,129.7 146.5,130.9 146.2,131.8 145.8,131.2 145.5,131.2 145.2,130.3 144.8,130.1 144.5,129.5 144.2,129.7 143.8,130.3 143.5,130.4 143.2,130.8 142.8,131.5 142.5,132.2 142.2,132.0 141.8,132.3 141.5,132.4 141.2,132.1 140.8,132.4 140.5,132.3 140.2,132.1 139.8,132.5 139.5,132.4 139.2,132.3 138.8,132.4 138.5,132.4 138.2,132.3 137.8,131.9 137.5,131.6 137.2,131.0 136.8,130.1 136.5,129.4 136.2,128.6 135.8,129.1 135.5,129.5 135.2,130.4 134.8,129.5 134.5,129.3 134.2,128.6 133.8,129.3 133.5,129.9 133.2,130.2 132.8,131.0 132.5,130.5 132.2,130.5 131.8,130.8 131.5,130.8 131.2,131.3 130.8,131.7 130.5,131.6 130.2,132.2 129.8,131.9 129.5,132.1 129.2,132.3 128.8,132.0 128.5,132.0 128.2,132.3 127.8,132.0 127.5,131.5 127.2,131.6 126.8,131.0 126.5,130.3 126.2,130.2 125.8,130.3 125.5,131.0 125.2,131.3 124.8,131.8 124.5,131.3 124.2,131.0 123.8,130.8 123.5,130.8 123.2,130.9 122.8,131.2 122.5,130.1 122.2,129.8 121.8,130.6 121.5,130.4 121.2,130.1 120.8,129.6 120.5,130.6 120.2,131.1 119.8,131.2 119.5,131.8 119.2,132.0 118.8,132.2 118.5,132.0 118.2,131.4 117.8,130.7 117.5,129.6 117.2,130.1 116.8,130.8 116.5,131.2 116.2,130.5 115.8,130.1 115.5,130.6 115.2,129.5 114.8,128.7 114.5,129.0 114.2,127.4 113.8,125.1 113.5,122.3 113.2,124.7 112.8,127.0 112.5,129.8 112.2,131.8 111.8,130.6 111.5,130.0 111.2,128.9 110.8,129.3 110.5,130.4 110.2,130.8 109.8,131.4 109.5,132.3 109.2,132.1 108.8,132.1 108.5,132.4 108.2,132.4 107.8,132.2 107.5,131.9 107.2,129.6 106.8,127.3 106.5,124.8 106.2,126.4 105.8,128.4 105.5,127.7 105.2,127.7 104.8,128.4 104.5,129.7 104.2,130.2 103.8,130.8 103.5,131.5 103.2,132.3 102.8,132.4 102.5,132.0 102.2,132.2 101.8,132.3 101.5,131.9 101.2,132.1 100.8,132.2 100.5,132.2 100.2,131.3 99.8,130.3 99.5,129.5 99.2,129.3 98.8,130.4 98.5,131.4 98.2,132.4 97.8,132.2 97.5,132.1 97.2,131.8 96.8,131.6 96.5,130.9 96.2,130.5 95.8,131.1 95.5,131.5 95.2,132.1 94.8,132.2 94.5,130.7 94.2,129.1 93.8,127.1 93.5,125.1 93.2,123.4 92.8,123.7 92.5,125.9 92.2,127.8 91.8,125.5 91.5,126.5 91.2,128.4 90.8,129.8 90.5,131.6 90.2,132.0 89.8,132.3 89.5,131.9 89.2,132.4 88.8,132.2 88.5,132.2 88.2,132.4 87.8,132.3 87.5,131.9 87.2,131.3 86.8,130.8 86.5,130.2 86.2,130.4 85.8,131.1 85.5,131.2 85.2,130.8 84.8,130.7 84.5,131.0 84.2,130.0 83.8,126.9 83.5,123.7 83.2,122.1 82.8,125.2 82.5,128.3 82.2,131.6 81.8,132.2 81.5,132.0 81.2,131.6 80.8,131.6 80.5,131.3 80.2,130.9 79.8,131.1 79.5,130.3 79.2,130.9 78.8,130.7 78.5,131.1 78.2,130.8 77.8,130.5 77.5,129.8 77.2,129.3 76.8,129.8 76.5,129.1 76.2,128.0 75.8,128.7 75.5,129.7 75.2,129.5 74.8,129.9 74.5,130.4 74.2,129.8 73.8,128.6 73.5,128.7 73.2,130.0 72.8,131.0 72.5,129.7 72.2,127.9 71.8,125.9 71.5,126.4 71.2,128.2 70.8,129.9 70.5,132.4 70.2,132.4 69.8,132.0 69.5,132.3 69.2,131.9 68.8,132.3 68.5,132.2 68.2,132.2 67.8,132.4 67.5,132.0 67.2,132.3 66.8,132.5 66.5,132.1 66.2,132.3 65.8,132.2 65.5,132.4 65.2,132.4 64.8,132.3 64.5,132.2 64.2,132.1 63.8,131.8 63.5,131.2 63.2,130.4 62.8,130.1 62.5,129.1 62.2,129.5 61.8,130.2 61.5,130.7 61.2,131.5 60.8,132.4 60.5,132.4 60.2,132.3 59.8,132.3 59.5,132.3 59.2,132.4 58.8,132.4 58.5,132.4 58.2,132.2 57.8,132.2 57.5,132.3 57.2,131.9 56.8,128.7 56.5,126.0 56.2,123.4 55.8,122.0 55.5,125.1 55.2,128.1 54.8,130.6 54.5,132.2 54.2,132.2 53.8,132.3 53.5,132.1 53.2,131.9 52.8,132.2 52.5,132.3 52.2,131.7 51.8,130.6 51.5,128.9 51.2,127.9 50.8,128.1 50.5,129.5 50.2,130.9 49.8,132.1 49.5,131.9 49.2,132.0 48.8,130.7 48.5,128.7 48.2,126.3 47.8,123.6 47.5,125.8 47.2,128.5 46.8,130.7 46.5,132.3 46.2,132.1 45.8,132.2 45.5,132.0 45.2,131.3 44.8,130.9 44.5,130.9 44.2,130.8 43.8,130.5 43.5,130.8 43.2,130.5 42.8,129.5 42.5,128.7 42.2,130.1 41.8,128.1 41.5,126.1 41.2,126.0 40.8,127.8 40.5,129.8 40.2,132.3 39.8,132.2 39.5,132.0 39.2,132.2 38.8,132.3 38.5,131.9"/>
<rect x="123" y="22.20" width="1" height="112.30" fill="url(#g1)"/>
<rect x="124" y="22.20" width="1" height="112.30" fill="url(#g2)"/>
<rect x="125" y="22.20" width="1" height="112.30" fill="url(#g3)"/>
<rect x="126" y="22.20" width="1" height="112.30" fill="url(#g4)"/>
<rect x="127" y="22.20" width="1" height="112.30" fill="url(#g5)"/>
<rect x="128" y="22.20" width="1" height="112.30" fill="url(#g6)"/>
<rect x="129" y="22.20" width="1" height="112.30" fill="url(#g7)"/>
<rect x="130" y="22.20" width="1" height="112.30" fill="url(#g8)"/>
<rect x="131" y="22.20" width="1" height="112.30" fill="url(#g9)"/>
<rect x="132" y="22.20" width="1" height="112.30" fill="url(#g10)"/>
<rect x="133" y="22.20" width="1" height="112.30" fill="url(#g11)"/>
<rect x="134" y="22.20" width="1" height="112.30" fill="url(#g12)"/>
<rect x="135" y="22.20" width="1" height="112.30" fill="url(#g13)"/>
<rect x="136" y="22.20" width="1" height="112.30" fill="url(#g14)"/>
<rect x="137" y="22.20" width="1" height="112.30" fill="url(#g15)"/>
<rect x="138" y="22.20" width="1" height="112.30" fill="url(#g16)"/>
<rect x="139" y="22.20" width="1" height="112.30" fill="url(#g17)"/>
<rect x="140" y="22.20" width="1" height="112.30" fill="url(#g18)"/>
<rect x="141" y="22.20" width="1" height="112.30" fill="url(#g19)"/>
<rect x="142" y="22.20" width="1" height="112.30" fill="url(#g20)"/>
<rect x="143" y="22.20" width="1" height="112.30" fill="url(#g21)"/>
<rect x="144" y="22.20" width="1" height="112.30" fill="url(#g22)"/>
<rect x="145" y="22.20" width="1" height="112.30" fill="url(#g23)"/>
<rect x="146" y="22.20" width="1" height="112.30" fill="url(#g24)"/>
<rect x="147" y="22.20" width="1" height="112.30" fill="url(#g25)"/>
<rect x="148" y="22.20" width="1" height="112.30" fill="url(#g26)"/>
<rect x="149" y="22.20" width="1" height="112.30" fill="url(#g27)"/>
<rect x="150" y="22.20" width="1" height="112.30" fill="url(#g28)"/>
<rect x="151" y="22.20" width="1" height="112.30" fill="url(#g29)"/>
<rect x="152" y="22.20" width="1" height="112.30" fill="url(#g30)"/>
<rect x="153" y="22.20" width="1" height="112.30" fill="url(#g31)"/>
<rect x="154" y="22.20" width="1" height="112.30" fill="url(#g32)"/>
<rect x="155" y="22.20" width="1" height="112.30" fill="url(#g33)"/>
<rect x="156" y="22.20" width="1" height="112.30" fill="url(#g34)"/>
<rect x="157" y="22.20" width="1" height="112.30" fill="url(#g35)"/>
<rect x="158" y="22.20" width="1" height="112.30" fill="url(#g36)"/>
<rect x="159" y="22.20" width="1" height="112.30" fill="url(#g37)"/>
<rect x="160" y="22.20" width="1" height="112.30" fill="url(#g38)"/>
<rect x="161" y="22.20" width="1" height="112.30" fill="url(#g39)"/>
<rect x="162" y="22.20" width="1" height="112.30" fill="url(#g40)"/>
<rect x="163" y="22.20" width="1" height="112.30" fill="url(#g41)"/>
<rect x="164" y="22.20" width="1" height="112.30" fill="url(#g42)"/>
<rect x="165" y="22.20" width="1" height="112.30" fill="url(#g43)"/>
<rect x="166" y="22.20" width="1" height="112.30" fill="url(#g44)"/>
<rect x="167" y="22.20" width="1" height="112.30" fill="url(#g45)"/>
<rect x="168" y="22.20" width="1" height="112.30" fill="url(#g46)"/>
<rect x="169" y="22.20" width="1" height="112.30" fill="url(#g47)"/>
<rect x="170" y="22.20" width="1" height="112.30" fill="url(#g48)"/>
<rect x="171" y="22.20" width="1" height="112.30" fill="url(#g49)"/>
<rect x="172" y="22.20" width="1" height="112.30" fill="url(#g50)"/>
<rect x="173" y="22.20" width="1" height="112.30" fill="url(#g51)"/>
<rect x="174" y="22.20" width="1" height="112.30" fill="url(#g52)"/>
<rect x="175" y="22.20" width="1" height="112.30" fill="url(#g53)"/>
<rect x="176" y="22.20" width="1" height="112.30" fill="url(#g54)"/>
<rect x="177" y="22.20" width="1" height="112.30" fill="url(#g55)"/>
<rect x="178" y="22.20" width="1" height="112.30" fill="url(#g56)"/>
<rect x="179" y="22.20" width="1" height="112.30" fill="url(#g57)"/>
<rect x="180" y="22.20" width="1" height="112.30" fill="url(#g58)"/>
<rect x="181" y="22.20" width="1" height="112.30" fill="url(#g59)"/>
<rect x="182" y="22.20" width="1" height="112.30" fill="url(#g60)"/>
<rect x="183" y="22.20" width="1" height="112.30" fill="url(#g61)"/>
<rect x="184" y="22.20" width="1" height="112.30" fill="url(#g62)"/>
<rect x="185" y="22.20" width="1" height="112.30" fill="url(#g63)"/>
<rect x="186" y="22.20" width="1" height="112.30" fill="url(#g64)"/>
<rect x="187" y="22.20" width="1" height="112.30" fill="url(#g65)"/>
<polyline fill="none" stroke="#0072BF" stroke-width="0.4" stroke-opacity="0.18" points="152.38,23.80 152.52,34.59 152.67,44.83 152.81,54.52 152.96,63.65 153.11,72.23 153.25,80.26 153.40,87.73 153.55,94.65 153.69,101.01 153.84,106.83 153.98,112.08 154.13,116.79 154.28,120.94 154.42,124.54 154.57,127.58 154.72,130.07 154.86,132.01 155.01,133.39 155.15,134.22 155.30,134.50 155.45,134.22 155.59,133.39 155.74,132.01 155.89,130.07 156.03,127.58 156.18,124.54 156.32,120.94 156.47,116.79 156.62,112.08 156.76,106.83 156.91,101.01 157.06,94.65 157.20,87.73 157.35,80.26 157.49,72.23 157.64,63.65 157.79,54.52 157.93,44.83 158.08,34.59 158.23,23.80"/>
<rect x="38.50" y="11.50" width="234.70" height="123.00" fill="none" stroke="#d2d2d2" stroke-width="0.8"/>
<path d="M39.00 134.50v-1.8M39.00 11.50v1.8M68.25 134.50v-1.8M68.25 11.50v1.8M97.50 134.50v-1.8M97.50 11.50v1.8M126.75 134.50v-1.8M126.75 11.50v1.8M156.00 134.50v-1.8M156.00 11.50v1.8M185.25 134.50v-1.8M185.25 11.50v1.8M214.50 134.50v-1.8M214.50 11.50v1.8M243.75 134.50v-1.8M243.75 11.50v1.8M273.00 134.50v-1.8M273.00 11.50v1.8M38.50 134.50h1.8M273.20 134.50h-1.8M38.50 119.12h1.8M273.20 119.12h-1.8M38.50 103.75h1.8M273.20 103.75h-1.8M38.50 88.38h1.8M273.20 88.38h-1.8M38.50 73.00h1.8M273.20 73.00h-1.8M38.50 57.62h1.8M273.20 57.62h-1.8M38.50 42.25h1.8M273.20 42.25h-1.8M38.50 26.88h1.8M273.20 26.88h-1.8M38.50 11.50h1.8M273.20 11.50h-1.8" stroke="#b4b4b4" stroke-width="0.6" fill="none"/>
<text transform="translate(36.40,137.50) scale(1,1.1)" font-size="7.4" fill="#1e1e1e" stroke="#1e1e1e" stroke-width="0.28" text-anchor="end">0</text>
<text transform="translate(36.40,106.95) scale(1,1.1)" font-size="7.4" fill="#1e1e1e" stroke="#1e1e1e" stroke-width="0.28" text-anchor="end">100</text>
<text transform="translate(36.40,76.40) scale(1,1.1)" font-size="7.4" fill="#1e1e1e" stroke="#1e1e1e" stroke-width="0.28" text-anchor="end">200</text>
<text transform="translate(36.40,45.85) scale(1,1.1)" font-size="7.4" fill="#1e1e1e" stroke="#1e1e1e" stroke-width="0.28" text-anchor="end">300</text>
<text transform="translate(36.40,15.30) scale(1,1.1)" font-size="7.4" fill="#1e1e1e" stroke="#1e1e1e" stroke-width="0.28" text-anchor="end">400</text>
<text transform="translate(41.20,142.60) scale(1,1.1)" font-size="7.4" fill="#1e1e1e" stroke="#1e1e1e" stroke-width="0.28" text-anchor="middle">-20</text>
<text transform="translate(68.50,142.60) scale(1,1.1)" font-size="7.4" fill="#1e1e1e" stroke="#1e1e1e" stroke-width="0.28" text-anchor="middle">-15</text>
<text transform="translate(98.10,142.60) scale(1,1.1)" font-size="7.4" fill="#1e1e1e" stroke="#1e1e1e" stroke-width="0.28" text-anchor="middle">-10</text>
<text transform="translate(127.30,142.60) scale(1,1.1)" font-size="7.4" fill="#1e1e1e" stroke="#1e1e1e" stroke-width="0.28" text-anchor="middle">-5</text>
<text transform="translate(156.20,142.60) scale(1,1.1)" font-size="7.4" fill="#1e1e1e" stroke="#1e1e1e" stroke-width="0.28" text-anchor="middle">0</text>
<text transform="translate(185.00,142.60) scale(1,1.1)" font-size="7.4" fill="#1e1e1e" stroke="#1e1e1e" stroke-width="0.28" text-anchor="middle">5</text>
<text transform="translate(214.20,142.60) scale(1,1.1)" font-size="7.4" fill="#1e1e1e" stroke="#1e1e1e" stroke-width="0.28" text-anchor="middle">10</text>
<text transform="translate(242.50,142.60) scale(1,1.1)" font-size="7.4" fill="#1e1e1e" stroke="#1e1e1e" stroke-width="0.28" text-anchor="middle">15</text>
<text transform="translate(268.60,142.60) scale(1,1.1)" font-size="7.4" fill="#1e1e1e" stroke="#1e1e1e" stroke-width="0.28" text-anchor="middle">20</text>
<text x="4.8" y="16.5" font-size="11.2" fill="#222" stroke="#222" stroke-width="0.3">(a)</text>
<text transform="translate(21.50,77.20) rotate(-90) scale(1,1.03)" font-size="7.6" fill="#1e1e1e" stroke="#1e1e1e" stroke-width="0.28" text-anchor="middle">Phase (°)</text>
<text transform="translate(154.00,147.60) scale(1,1.0)" font-size="7.6" fill="#1e1e1e" stroke="#1e1e1e" stroke-width="0.28" text-anchor="middle">x (mm)</text>
<rect x="309.70" y="12.40" width="230.00" height="123.10" fill="#fff"/>
<polyline fill="none" stroke="#0072BD" stroke-opacity="0.32" stroke-width="0.75" stroke-linejoin="round" points="310.3,29.7 310.6,31.8 310.9,34.0 311.2,36.2 311.5,38.4 311.8,40.5 312.1,42.7 312.3,44.9 312.6,47.0 312.9,49.2 313.2,51.3 313.5,53.4 313.8,55.6 314.1,57.7 314.3,59.8 314.6,61.9 314.9,64.0 315.2,66.1 315.5,68.2 315.8,70.3 316.1,72.4 316.3,74.5 316.6,76.5 316.9,78.6 317.2,80.7 317.5,82.7 317.8,84.8 318.1,86.8 318.3,88.9 318.6,90.9 318.9,92.9 319.2,95.0 319.5,97.0 319.8,99.0 320.1,101.0 320.4,103.0 320.6,105.0 320.9,107.0 321.2,109.0 321.5,110.9 321.8,112.9 322.1,114.9 322.4,116.9 322.6,118.8 322.9,120.8 323.2,122.7 323.5,124.7 323.8,126.6 324.1,128.5 324.4,130.4 324.6,132.4 324.9,134.3 325.1,135.5 325.1,24.9 325.2,25.4 325.5,27.3 325.8,29.2 326.1,31.1 326.4,33.0 326.6,34.9 326.9,36.7 327.2,38.6 327.5,40.5 327.8,42.3 328.1,44.2 328.4,46.0 328.6,47.9 328.9,49.7 329.2,51.5 329.5,53.4 329.8,55.2 330.1,57.0 330.4,58.8 330.6,60.6 330.9,62.4 331.2,64.2 331.5,66.0 331.8,67.8 332.1,69.6 332.4,71.3 332.6,73.1 332.9,74.9 333.2,76.6 333.5,78.4 333.8,80.1 334.1,81.9 334.4,83.6 334.6,85.3 334.9,87.0 335.2,88.8 335.5,90.5 335.8,92.2 336.1,93.9 336.4,95.6 336.6,97.3 336.9,98.9 337.2,100.6 337.5,102.3 337.8,104.0 338.1,105.6 338.4,107.3 338.6,108.9 338.9,110.6 339.2,112.2 339.5,113.9 339.8,115.5 340.1,117.1 340.4,118.7 340.6,120.3 340.9,122.0 341.2,123.6 341.5,125.2 341.8,126.7 342.1,128.3 342.4,129.9 342.6,131.5 342.9,133.1 343.2,134.6 343.4,135.5 343.4,24.9 343.5,25.4 343.8,26.9 344.1,28.5 344.4,30.0 344.7,31.6 344.9,33.1 345.2,34.6 345.5,36.1 345.8,37.7 346.1,39.2 346.4,40.7 346.7,42.2 346.9,43.7 347.2,45.1 347.5,46.6 347.8,48.1 348.1,49.6 348.4,51.0 348.7,52.5 348.9,54.0 349.2,55.4 349.5,56.8 349.8,58.3 350.1,59.7 350.4,61.1 350.7,62.6 350.9,64.0 351.2,65.4 351.5,66.8 351.8,68.2 352.1,69.6 352.4,71.0 352.7,72.4 352.9,73.7 353.2,75.1 353.5,76.5 353.8,77.8 354.1,79.2 354.4,80.5 354.7,81.9 354.9,83.2 355.2,84.6 355.5,85.9 355.8,87.2 356.1,88.5 356.4,89.8 356.7,91.2 356.9,92.5 357.2,93.7 357.5,95.0 357.8,96.3 358.1,97.6 358.4,98.9 358.7,100.1 358.9,101.4 359.2,102.7 359.5,103.9 359.8,105.2 360.1,106.4 360.4,107.6 360.7,108.9 360.9,110.1 361.2,111.3 361.5,112.5 361.8,113.7 362.1,114.9 362.4,116.1 362.7,117.3 362.9,118.5 363.2,119.7 363.5,120.9 363.8,122.0 364.1,123.2 364.4,124.4 364.7,125.5 364.9,126.7 365.2,127.8 365.5,128.9 365.8,130.1 366.1,131.2 366.4,132.3 366.7,133.4 367.0,134.5 367.2,135.5 367.2,24.9 367.2,24.8 367.5,25.9 367.8,27.0 368.1,28.1 368.4,29.2 368.7,30.3 369.0,31.4 369.2,32.4 369.5,33.5 369.8,34.5 370.1,35.6 370.4,36.6 370.7,37.7 371.0,38.7 371.2,39.7 371.5,40.7 371.8,41.8 372.1,42.8 372.4,43.8 372.7,44.8 373.0,45.8 373.2,46.8 373.5,47.7 373.8,48.7 374.1,49.7 374.4,50.7 374.7,51.6 375.0,52.6 375.2,53.5 375.5,54.5 375.8,55.4 376.1,56.3 376.4,57.3 376.7,58.2 377.0,59.1 377.2,60.0 377.5,60.9 377.8,61.8 378.1,62.7 378.4,63.6 378.7,64.5 379.0,65.4 379.2,66.3 379.5,67.1 379.8,68.0 380.1,68.8 380.4,69.7 380.7,70.5 381.0,71.4 381.2,72.2 381.5,73.1 381.8,73.9 382.1,74.7 382.4,75.5 382.7,76.3 383.0,77.1 383.2,77.9 383.5,78.7 383.8,79.5 384.1,80.3 384.4,81.0 384.7,81.8 385.0,82.6 385.2,83.3 385.5,84.1 385.8,84.8 386.1,85.6 386.4,86.3 386.7,87.1 387.0,87.8 387.2,88.5 387.5,89.2 387.8,89.9 388.1,90.6 388.4,91.3 388.7,92.0 389.0,92.7 389.2,93.4 389.5,94.1 389.8,94.7 390.1,95.4 390.4,96.1 390.7,96.7 391.0,97.4 391.3,98.0 391.5,98.6 391.8,99.3 392.1,99.9 392.4,100.5 392.7,101.1 393.0,101.8 393.3,102.4 393.5,103.0 393.8,103.6 394.1,104.1 394.4,104.7 394.7,105.3 395.0,105.9 395.3,106.4 395.5,107.0 395.8,107.6 396.1,108.1 396.4,108.7 396.7,109.2 397.0,109.7 397.3,110.3 397.5,110.8 397.8,111.3 398.1,111.8 398.4,112.3 398.7,112.8 399.0,113.3 399.3,113.8 399.5,114.3 399.8,114.8 400.1,115.2 400.4,115.7 400.7,116.2 401.0,116.6 401.3,117.1 401.5,117.5 401.8,118.0 402.1,118.4 402.4,118.8 402.7,119.3 403.0,119.7 403.3,120.1 403.5,120.5 403.8,120.9 404.1,121.3 404.4,121.7 404.7,122.1 405.0,122.5 405.3,122.8 405.5,123.2 405.8,123.6 406.1,123.9 406.4,124.3 406.7,124.6 407.0,125.0 407.3,125.3 407.5,125.6 407.8,126.0 408.1,126.3 408.4,126.6 408.7,126.9 409.0,127.2 409.3,127.5 409.5,127.8 409.8,128.1 410.1,128.4 410.4,128.7 410.7,128.9 411.0,129.2 411.3,129.4 411.5,129.7 411.8,130.0 412.1,130.2 412.4,130.4 412.7,130.7 413.0,130.9 413.3,131.1 413.6,131.3 413.8,131.5 414.1,131.8 414.4,132.0 414.7,132.1 415.0,132.3 415.3,132.5 415.6,132.7 415.8,132.9 416.1,133.0 416.4,133.2 416.7,133.4 417.0,133.5 417.3,133.6 417.6,133.8 417.8,133.9 418.1,134.1 418.4,134.2 418.7,134.3 419.0,134.4 419.3,134.5 419.6,134.6 419.8,134.7 420.1,134.8 420.4,134.9 420.7,135.0 421.0,135.0 421.3,135.1 421.6,135.2 421.8,135.2 422.1,135.3 422.4,135.3 422.7,135.4 423.0,135.4 423.3,135.4 423.6,135.5 423.8,135.5 424.1,135.5 424.4,135.5 424.7,135.5 425.0,135.5 425.3,135.5 425.6,135.5 425.8,135.5 426.1,135.4 426.4,135.4 426.7,135.4 427.0,135.3 427.3,135.3 427.6,135.2 427.8,135.2 428.1,135.1 428.4,135.0 428.7,135.0 429.0,134.9 429.3,134.8 429.6,134.7 429.8,134.6 430.1,134.5 430.4,134.4 430.7,134.3 431.0,134.2 431.3,134.1 431.6,133.9 431.8,133.8 432.1,133.6 432.4,133.5 432.7,133.4 433.0,133.2 433.3,133.0 433.6,132.9 433.8,132.7 434.1,132.5 434.4,132.3 434.7,132.1 435.0,132.0 435.3,131.8 435.6,131.5 435.8,131.3 436.1,131.1 436.4,130.9 436.7,130.7 437.0,130.4 437.3,130.2 437.6,130.0 437.9,129.7 438.1,129.4 438.4,129.2 438.7,128.9 439.0,128.7 439.3,128.4 439.6,128.1 439.9,127.8 440.1,127.5 440.4,127.2 440.7,126.9 441.0,126.6 441.3,126.3 441.6,126.0 441.9,125.6 442.1,125.3 442.4,125.0 442.7,124.6 443.0,124.3 443.3,123.9 443.6,123.6 443.9,123.2 444.1,122.8 444.4,122.5 444.7,122.1 445.0,121.7 445.3,121.3 445.6,120.9 445.9,120.5 446.1,120.1 446.4,119.7 446.7,119.3 447.0,118.8 447.3,118.4 447.6,118.0 447.9,117.5 448.1,117.1 448.4,116.6 448.7,116.2 449.0,115.7 449.3,115.2 449.6,114.8 449.9,114.3 450.1,113.8 450.4,113.3 450.7,112.8 451.0,112.3 451.3,111.8 451.6,111.3 451.9,110.8 452.1,110.3 452.4,109.7 452.7,109.2 453.0,108.7 453.3,108.1 453.6,107.6 453.9,107.0 454.1,106.4 454.4,105.9 454.7,105.3 455.0,104.7 455.3,104.1 455.6,103.6 455.9,103.0 456.1,102.4 456.4,101.8 456.7,101.1 457.0,100.5 457.3,99.9 457.6,99.3 457.9,98.6 458.1,98.0 458.4,97.4 458.7,96.7 459.0,96.1 459.3,95.4 459.6,94.7 459.9,94.1 460.2,93.4 460.4,92.7 460.7,92.0 461.0,91.3 461.3,90.6 461.6,89.9 461.9,89.2 462.2,88.5 462.4,87.8 462.7,87.1 463.0,86.3 463.3,85.6 463.6,84.8 463.9,84.1 464.2,83.3 464.4,82.6 464.7,81.8 465.0,81.0 465.3,80.3 465.6,79.5 465.9,78.7 466.2,77.9 466.4,77.1 466.7,76.3 467.0,75.5 467.3,74.7 467.6,73.9 467.9,73.1 468.2,72.2 468.4,71.4 468.7,70.5 469.0,69.7 469.3,68.8 469.6,68.0 469.9,67.1 470.2,66.3 470.4,65.4 470.7,64.5 471.0,63.6 471.3,62.7 471.6,61.8 471.9,60.9 472.2,60.0 472.4,59.1 472.7,58.2 473.0,57.3 473.3,56.3 473.6,55.4 473.9,54.5 474.2,53.5 474.4,52.6 474.7,51.6 475.0,50.7 475.3,49.7 475.6,48.7 475.9,47.7 476.2,46.8 476.4,45.8 476.7,44.8 477.0,43.8 477.3,42.8 477.6,41.8 477.9,40.7 478.2,39.7 478.4,38.7 478.7,37.7 479.0,36.6 479.3,35.6 479.6,34.5 479.9,33.5 480.2,32.4 480.4,31.4 480.7,30.3 481.0,29.2 481.3,28.1 481.6,27.0 481.9,25.9 482.2,24.8 482.2,24.9 482.2,135.5 482.4,134.5 482.7,133.4 483.0,132.3 483.3,131.2 483.6,130.1 483.9,128.9 484.2,127.8 484.5,126.7 484.7,125.5 485.0,124.4 485.3,123.2 485.6,122.0 485.9,120.9 486.2,119.7 486.5,118.5 486.7,117.3 487.0,116.1 487.3,114.9 487.6,113.7 487.9,112.5 488.2,111.3 488.5,110.1 488.7,108.9 489.0,107.6 489.3,106.4 489.6,105.2 489.9,103.9 490.2,102.7 490.5,101.4 490.7,100.1 491.0,98.9 491.3,97.6 491.6,96.3 491.9,95.0 492.2,93.7 492.5,92.5 492.7,91.2 493.0,89.8 493.3,88.5 493.6,87.2 493.9,85.9 494.2,84.6 494.5,83.2 494.7,81.9 495.0,80.5 495.3,79.2 495.6,77.8 495.9,76.5 496.2,75.1 496.5,73.7 496.7,72.4 497.0,71.0 497.3,69.6 497.6,68.2 497.9,66.8 498.2,65.4 498.5,64.0 498.7,62.6 499.0,61.1 499.3,59.7 499.6,58.3 499.9,56.8 500.2,55.4 500.5,54.0 500.7,52.5 501.0,51.0 501.3,49.6 501.6,48.1 501.9,46.6 502.2,45.1 502.5,43.7 502.7,42.2 503.0,40.7 503.3,39.2 503.6,37.7 503.9,36.1 504.2,34.6 504.5,33.1 504.7,31.6 505.0,30.0 505.3,28.5 505.6,26.9 505.9,25.4 506.0,24.9 506.0,135.5 506.2,134.6 506.5,133.1 506.8,131.5 507.0,129.9 507.3,128.3 507.6,126.7 507.9,125.2 508.2,123.6 508.5,122.0 508.8,120.3 509.0,118.7 509.3,117.1 509.6,115.5 509.9,113.9 510.2,112.2 510.5,110.6 510.8,108.9 511.0,107.3 511.3,105.6 511.6,104.0 511.9,102.3 512.2,100.6 512.5,98.9 512.8,97.3 513.0,95.6 513.3,93.9 513.6,92.2 513.9,90.5 514.2,88.8 514.5,87.0 514.8,85.3 515.0,83.6 515.3,81.9 515.6,80.1 515.9,78.4 516.2,76.6 516.5,74.9 516.8,73.1 517.0,71.3 517.3,69.6 517.6,67.8 517.9,66.0 518.2,64.2 518.5,62.4 518.8,60.6 519.0,58.8 519.3,57.0 519.6,55.2 519.9,53.4 520.2,51.5 520.5,49.7 520.8,47.9 521.0,46.0 521.3,44.2 521.6,42.3 521.9,40.5 522.2,38.6 522.5,36.7 522.8,34.9 523.0,33.0 523.3,31.1 523.6,29.2 523.9,27.3 524.2,25.4 524.3,24.9 524.3,135.5 524.5,134.3 524.8,132.4 525.0,130.4 525.3,128.5 525.6,126.6 525.9,124.7 526.2,122.7 526.5,120.8 526.8,118.8 527.0,116.9 527.3,114.9 527.6,112.9 527.9,110.9 528.2,109.0 528.5,107.0 528.8,105.0 529.0,103.0 529.3,101.0 529.6,99.0 529.9,97.0 530.2,95.0 530.5,92.9 530.8,90.9 531.1,88.9 531.3,86.8 531.6,84.8 531.9,82.7 532.2,80.7 532.5,78.6 532.8,76.5 533.1,74.5 533.3,72.4 533.6,70.3 533.9,68.2 534.2,66.1 534.5,64.0 534.8,61.9 535.1,59.8 535.3,57.7 535.6,55.6 535.9,53.4 536.2,51.3 536.5,49.2 536.8,47.0 537.1,44.9 537.3,42.7 537.6,40.5 537.9,38.4 538.2,36.2 538.5,34.0 538.8,31.8 539.1,29.7"/>
<rect x="309.70" y="12.40" width="230.00" height="123.10" fill="none" stroke="#d2d2d2" stroke-width="0.8"/>
<path d="M309.70 135.50v-1.8M309.70 12.40v1.8M332.70 135.50v-1.8M332.70 12.40v1.8M355.70 135.50v-1.8M355.70 12.40v1.8M378.70 135.50v-1.8M378.70 12.40v1.8M401.70 135.50v-1.8M401.70 12.40v1.8M424.70 135.50v-1.8M424.70 12.40v1.8M447.70 135.50v-1.8M447.70 12.40v1.8M470.70 135.50v-1.8M470.70 12.40v1.8M493.70 135.50v-1.8M493.70 12.40v1.8M516.70 135.50v-1.8M516.70 12.40v1.8M539.70 135.50v-1.8M539.70 12.40v1.8M309.70 135.50h1.8M539.70 135.50h-1.8M309.70 120.11h1.8M539.70 120.11h-1.8M309.70 104.72h1.8M539.70 104.72h-1.8M309.70 89.34h1.8M539.70 89.34h-1.8M309.70 73.95h1.8M539.70 73.95h-1.8M309.70 58.56h1.8M539.70 58.56h-1.8M309.70 43.18h1.8M539.70 43.18h-1.8M309.70 27.79h1.8M539.70 27.79h-1.8M309.70 12.40h1.8M539.70 12.40h-1.8" stroke="#b4b4b4" stroke-width="0.6" fill="none"/>
<text transform="translate(305.30,137.90) scale(1,1.1)" font-size="7.4" fill="#1e1e1e" stroke="#1e1e1e" stroke-width="0.28" text-anchor="end">0</text>
<text transform="translate(305.30,107.22) scale(1,1.1)" font-size="7.4" fill="#1e1e1e" stroke="#1e1e1e" stroke-width="0.28" text-anchor="end">100</text>
<text transform="translate(305.30,76.54) scale(1,1.1)" font-size="7.4" fill="#1e1e1e" stroke="#1e1e1e" stroke-width="0.28" text-anchor="end">200</text>
<text transform="translate(305.30,45.86) scale(1,1.1)" font-size="7.4" fill="#1e1e1e" stroke="#1e1e1e" stroke-width="0.28" text-anchor="end">300</text>
<text transform="translate(305.30,15.18) scale(1,1.1)" font-size="7.4" fill="#1e1e1e" stroke="#1e1e1e" stroke-width="0.28" text-anchor="end">400</text>
<text transform="translate(309.70,145.10) scale(1,1.1)" font-size="7.4" fill="#1e1e1e" stroke="#1e1e1e" stroke-width="0.28" text-anchor="middle">-1</text>
<text transform="translate(332.70,145.10) scale(1,1.1)" font-size="7.4" fill="#1e1e1e" stroke="#1e1e1e" stroke-width="0.28" text-anchor="middle">-0.8</text>
<text transform="translate(355.70,145.10) scale(1,1.1)" font-size="7.4" fill="#1e1e1e" stroke="#1e1e1e" stroke-width="0.28" text-anchor="middle">-0.6</text>
<text transform="translate(378.70,145.10) scale(1,1.1)" font-size="7.4" fill="#1e1e1e" stroke="#1e1e1e" stroke-width="0.28" text-anchor="middle">-0.4</text>
<text transform="translate(401.70,145.10) scale(1,1.1)" font-size="7.4" fill="#1e1e1e" stroke="#1e1e1e" stroke-width="0.28" text-anchor="middle">-0.2</text>
<text transform="translate(424.70,145.10) scale(1,1.1)" font-size="7.4" fill="#1e1e1e" stroke="#1e1e1e" stroke-width="0.28" text-anchor="middle">0</text>
<text transform="translate(447.70,145.10) scale(1,1.1)" font-size="7.4" fill="#1e1e1e" stroke="#1e1e1e" stroke-width="0.28" text-anchor="middle">0.2</text>
<text transform="translate(470.70,145.10) scale(1,1.1)" font-size="7.4" fill="#1e1e1e" stroke="#1e1e1e" stroke-width="0.28" text-anchor="middle">0.4</text>
<text transform="translate(493.70,145.10) scale(1,1.1)" font-size="7.4" fill="#1e1e1e" stroke="#1e1e1e" stroke-width="0.28" text-anchor="middle">0.6</text>
<text transform="translate(516.70,145.10) scale(1,1.1)" font-size="7.4" fill="#1e1e1e" stroke="#1e1e1e" stroke-width="0.28" text-anchor="middle">0.8</text>
<text transform="translate(539.70,145.10) scale(1,1.1)" font-size="7.4" fill="#1e1e1e" stroke="#1e1e1e" stroke-width="0.28" text-anchor="middle">1</text>
<text x="275.3" y="17.1" font-size="11.2" fill="#222" stroke="#222" stroke-width="0.3">(b)</text>
<text transform="translate(290.20,75.80) rotate(-90) scale(1,1.03)" font-size="7.6" fill="#1e1e1e" stroke="#1e1e1e" stroke-width="0.28" text-anchor="middle">Phase (°)</text>
<text transform="translate(424.70,150.60) scale(1,1.0)" font-size="7.6" fill="#1e1e1e" stroke="#1e1e1e" stroke-width="0.28" text-anchor="middle">x (mm)</text>
<rect x="36.90" y="153.30" width="232.90" height="123.90" fill="#fff"/>
<polygon fill="#0072BF" fill-opacity="0.62" points="36.9,167.9 37.2,169.4 37.6,167.9 37.9,166.7 38.2,167.5 38.6,167.5 38.9,166.8 39.2,166.1 39.6,166.6 39.9,166.0 40.2,166.4 40.6,166.1 40.9,166.7 41.2,168.0 41.6,167.2 41.9,167.0 42.2,166.1 42.6,166.3 42.9,166.6 43.2,166.9 43.6,168.4 43.9,169.8 44.2,168.1 44.6,167.7 44.9,167.1 45.2,166.5 45.6,166.6 45.9,168.2 46.2,167.1 46.6,167.0 46.9,166.8 47.2,167.0 47.6,166.6 47.9,166.7 48.2,167.0 48.6,166.7 48.9,166.7 49.2,166.3 49.6,166.2 49.9,166.8 50.2,165.9 50.6,166.6 50.9,166.5 51.2,166.4 51.6,166.3 51.9,166.6 52.2,166.7 52.6,166.5 52.9,166.6 53.2,165.9 53.6,166.4 53.9,166.7 54.3,166.9 54.6,166.7 54.9,166.0 55.3,166.4 55.6,167.0 55.9,166.9 56.3,166.4 56.6,166.6 56.9,167.0 57.3,167.2 57.6,167.1 57.9,166.4 58.3,168.4 58.6,170.0 58.9,170.7 59.3,168.6 59.6,168.0 59.9,167.1 60.3,166.2 60.6,166.8 60.9,166.5 61.3,166.5 61.6,166.1 61.9,166.6 62.3,168.2 62.6,168.8 62.9,167.6 63.3,166.2 63.6,166.0 63.9,166.7 64.3,167.9 64.6,166.5 64.9,166.6 65.3,166.0 65.6,166.2 65.9,166.0 66.3,167.5 66.6,168.8 66.9,169.6 67.3,168.3 67.6,166.3 67.9,166.2 68.3,167.1 68.6,167.0 68.9,167.1 69.3,166.7 69.6,166.0 69.9,166.1 70.3,166.2 70.6,167.0 70.9,168.2 71.3,167.1 71.6,166.3 71.9,167.9 72.3,167.5 72.6,167.5 72.9,167.3 73.3,166.7 73.6,166.2 73.9,166.0 74.3,166.6 74.6,166.3 74.9,166.4 75.3,166.5 75.6,166.6 75.9,166.1 76.3,166.2 76.6,166.7 76.9,166.4 77.3,166.1 77.6,166.5 77.9,166.1 78.3,166.9 78.6,167.1 78.9,167.6 79.3,166.7 79.6,167.2 79.9,167.2 80.3,166.7 80.6,166.7 80.9,166.2 81.3,166.8 81.6,167.7 81.9,167.5 82.3,166.6 82.6,167.1 82.9,166.5 83.3,166.5 83.6,167.3 83.9,167.7 84.3,166.9 84.6,166.5 84.9,167.4 85.3,169.7 85.6,169.1 85.9,166.6 86.3,166.2 86.6,166.2 87.0,166.6 87.3,166.2 87.6,166.1 88.0,166.7 88.3,166.4 88.6,166.4 89.0,167.9 89.3,167.3 89.6,167.3 90.0,167.8 90.3,166.9 90.6,167.2 91.0,168.7 91.3,168.0 91.6,166.5 92.0,166.4 92.3,166.3 92.6,166.4 93.0,166.1 93.3,166.7 93.6,166.9 94.0,167.3 94.3,166.5 94.6,166.5 95.0,166.6 95.3,166.3 95.6,166.7 96.0,166.7 96.3,166.6 96.6,166.6 97.0,166.6 97.3,167.6 97.6,166.6 98.0,167.4 98.3,166.9 98.6,166.4 99.0,166.1 99.3,166.0 99.6,166.7 100.0,167.4 100.3,166.8 100.6,167.2 101.0,167.9 101.3,167.0 101.6,166.8 102.0,166.8 102.3,167.0 102.6,167.0 103.0,167.3 103.3,166.3 103.6,166.6 104.0,166.2 104.3,165.9 104.6,166.5 105.0,166.0 105.3,166.1 105.6,165.9 106.0,166.3 106.3,166.4 106.6,166.6 107.0,166.0 107.3,168.2 107.6,166.5 108.0,166.1 108.3,166.5 108.6,166.2 109.0,166.2 109.3,166.4 109.6,167.5 110.0,169.8 110.3,167.2 110.6,167.5 111.0,167.2 111.3,166.5 111.6,165.9 112.0,166.6 112.3,165.9 112.6,166.3 113.0,166.3 113.3,166.8 113.6,168.0 114.0,168.2 114.3,167.3 114.6,167.3 115.0,167.1 115.3,166.7 115.6,166.1 116.0,166.9 116.3,167.7 116.6,167.8 117.0,167.3 117.3,166.5 117.6,167.5 118.0,166.7 118.3,168.3 118.6,166.7 119.0,166.3 119.3,166.8 119.6,168.1 120.0,167.2 120.3,166.3 120.7,166.4 121.0,166.9 121.3,166.7 121.7,166.3 122.0,166.6 122.3,166.7 122.7,171.5 123.0,167.1 123.3,166.5 123.7,166.1 124.0,166.6 124.3,168.3 124.7,167.8 125.0,167.4 125.3,167.1 125.7,166.7 126.0,166.7 126.3,166.5 126.7,166.5 127.0,166.3 127.3,166.7 127.7,166.5 128.0,167.0 128.3,167.2 128.7,167.9 129.0,167.2 129.3,166.5 129.7,166.1 130.0,167.5 130.3,168.8 130.7,167.2 131.0,166.4 131.3,168.1 131.7,167.3 132.0,166.7 132.3,166.6 132.7,166.3 133.0,166.9 133.3,168.0 133.7,168.0 134.0,167.6 134.3,168.3 134.7,169.0 135.0,168.0 135.3,166.9 135.7,167.1 136.0,167.5 136.3,166.3 136.7,166.0 137.0,166.4 137.3,166.3 137.7,166.1 138.0,166.1 138.3,165.9 138.7,166.7 139.0,166.5 139.3,166.7 139.7,167.2 140.0,166.8 140.3,166.5 140.7,166.8 141.0,168.1 141.3,168.4 141.7,166.9 142.0,167.2 142.3,171.3 142.7,168.5 143.0,166.2 143.3,165.9 143.7,166.6 144.0,166.6 144.3,166.4 144.7,166.7 145.0,166.9 145.3,167.0 145.7,166.4 146.0,166.3 146.3,166.7 146.7,167.3 147.0,167.3 147.3,167.1 147.7,166.3 148.0,166.7 148.3,167.2 148.7,166.2 149.0,166.0 149.3,166.4 149.7,166.0 150.0,166.9 150.3,170.1 150.7,167.5 151.0,169.0 151.3,167.3 151.7,166.3 152.0,166.0 152.3,166.5 152.7,165.9 153.0,166.3 153.3,166.3 153.7,166.5 154.0,166.5 154.4,166.1 154.7,166.5 155.0,166.5 155.4,166.3 155.7,166.0 156.0,167.3 156.4,167.8 156.7,167.0 157.0,166.5 157.4,168.6 157.7,168.2 158.0,166.8 158.4,167.9 158.7,169.6 159.0,166.5 159.4,166.6 159.7,165.9 160.0,166.0 160.4,167.1 160.7,167.3 161.0,166.5 161.4,166.1 161.7,166.6 162.0,169.9 162.4,166.5 162.7,166.5 163.0,167.2 163.4,167.4 163.7,168.0 164.0,166.8 164.4,166.2 164.7,165.9 165.0,166.6 165.4,166.0 165.7,166.8 166.0,166.5 166.4,166.1 166.7,166.6 167.0,166.0 167.4,166.9 167.7,167.9 168.0,167.2 168.4,167.3 168.7,167.7 169.0,166.3 169.4,167.4 169.7,167.2 170.0,167.0 170.4,166.3 170.7,166.7 171.0,167.1 171.4,167.7 171.7,166.7 172.0,166.7 172.4,167.8 172.7,166.2 173.0,166.2 173.4,165.9 173.7,166.6 174.0,165.9 174.4,166.6 174.7,166.6 175.0,168.0 175.4,168.6 175.7,166.9 176.0,166.1 176.4,166.3 176.7,166.0 177.0,166.8 177.4,168.3 177.7,168.2 178.0,166.4 178.4,167.6 178.7,168.0 179.0,167.6 179.4,167.9 179.7,167.5 180.0,166.4 180.4,167.5 180.7,167.7 181.0,167.6 181.4,168.5 181.7,169.6 182.0,166.8 182.4,166.0 182.7,166.0 183.0,166.5 183.4,166.4 183.7,167.1 184.0,169.4 184.4,167.2 184.7,166.4 185.0,166.5 185.4,166.7 185.7,166.5 186.0,166.6 186.4,166.7 186.7,168.6 187.1,172.1 187.4,168.0 187.7,167.3 188.1,168.3 188.4,169.3 188.7,166.8 189.1,166.1 189.4,166.7 189.7,166.3 190.1,166.5 190.4,166.7 190.7,166.6 191.1,166.2 191.4,166.2 191.7,166.0 192.1,166.5 192.4,167.5 192.7,166.9 193.1,166.7 193.4,166.6 193.7,166.6 194.1,166.8 194.4,166.6 194.7,166.1 195.1,166.1 195.4,166.7 195.7,167.2 196.1,168.3 196.4,168.1 196.7,167.3 197.1,166.2 197.4,166.6 197.7,166.6 198.1,166.7 198.4,166.6 198.7,166.4 199.1,166.0 199.4,166.6 199.7,166.2 200.1,166.5 200.4,166.2 200.7,166.4 201.1,167.1 201.4,166.7 201.7,166.5 202.1,166.5 202.4,166.4 202.7,166.7 203.1,166.3 203.4,166.7 203.7,168.1 204.1,167.6 204.4,166.0 204.7,166.2 205.1,166.8 205.4,167.5 205.7,166.4 206.1,166.8 206.4,166.9 206.7,167.4 207.1,169.4 207.4,167.0 207.7,166.5 208.1,166.8 208.4,167.3 208.7,167.1 209.1,167.1 209.4,167.8 209.7,165.9 210.1,166.5 210.4,166.1 210.7,166.1 211.1,166.8 211.4,167.6 211.7,167.2 212.1,167.0 212.4,167.6 212.7,167.9 213.1,166.9 213.4,166.6 213.7,166.9 214.1,166.5 214.4,166.5 214.7,166.0 215.1,166.0 215.4,166.3 215.7,166.8 216.1,166.5 216.4,166.1 216.7,168.1 217.1,167.7 217.4,166.1 217.7,167.2 218.1,166.9 218.4,168.1 218.7,167.0 219.1,166.5 219.4,166.0 219.7,167.1 220.1,167.2 220.4,166.6 220.8,165.9 221.1,166.6 221.4,166.3 221.8,167.9 222.1,168.4 222.4,167.2 222.8,166.4 223.1,166.9 223.4,167.9 223.8,168.4 224.1,166.9 224.4,166.6 224.8,166.4 225.1,166.5 225.4,166.1 225.8,166.0 226.1,166.1 226.4,168.2 226.8,168.1 227.1,167.0 227.4,167.4 227.8,167.4 228.1,166.7 228.4,166.2 228.8,167.7 229.1,166.9 229.4,168.5 229.8,170.4 230.1,166.5 230.4,166.0 230.8,166.6 231.1,167.7 231.4,169.9 231.8,167.4 232.1,166.0 232.4,166.1 232.8,166.9 233.1,167.4 233.4,166.7 233.8,167.2 234.1,166.8 234.4,166.5 234.8,166.1 235.1,166.2 235.4,166.2 235.8,166.5 236.1,166.8 236.4,170.4 236.8,166.3 237.1,166.5 237.4,166.6 237.8,166.1 238.1,166.5 238.4,167.4 238.8,166.7 239.1,166.4 239.4,167.0 239.8,166.8 240.1,167.0 240.4,168.2 240.8,168.0 241.1,167.1 241.4,166.9 241.8,167.2 242.1,167.7 242.4,167.3 242.8,167.7 243.1,168.4 243.4,167.2 243.8,166.7 244.1,168.2 244.4,167.7 244.8,166.4 245.1,167.2 245.4,168.1 245.8,168.2 246.1,166.7 246.4,167.9 246.8,168.1 247.1,166.9 247.4,167.3 247.8,168.0 248.1,166.1 248.4,166.0 248.8,166.1 249.1,166.7 249.4,166.3 249.8,166.5 250.1,166.0 250.4,166.5 250.8,167.1 251.1,167.5 251.4,167.3 251.8,166.4 252.1,166.0 252.4,167.9 252.8,167.2 253.1,168.5 253.5,169.4 253.8,167.9 254.1,166.5 254.5,166.7 254.8,167.8 255.1,167.7 255.5,166.9 255.8,167.0 256.1,166.9 256.5,166.8 256.8,167.6 257.1,168.0 257.5,167.8 257.8,167.1 258.1,166.6 258.5,166.7 258.8,166.2 259.1,166.7 259.5,166.1 259.8,166.1 260.1,167.1 260.5,169.6 260.8,166.0 261.1,167.3 261.5,168.4 261.8,168.5 262.1,167.0 262.5,166.8 262.8,167.4 263.1,167.6 263.5,167.4 263.8,166.4 264.1,166.5 264.5,167.0 264.8,167.4 265.1,166.8 265.5,169.6 265.8,171.8 266.1,169.6 266.5,166.7 266.8,167.8 267.1,167.9 267.5,166.9 267.8,166.8 268.1,166.1 268.5,166.8 268.8,166.5 269.1,166.7 269.5,167.6 269.8,166.6 269.8,276.9 269.5,276.9 269.1,276.9 268.8,276.9 268.5,276.9 268.1,276.9 267.8,276.9 267.5,276.9 267.1,276.4 266.8,276.1 266.5,276.9 266.1,276.9 265.8,276.9 265.5,276.9 265.1,276.9 264.8,276.9 264.5,276.9 264.1,276.9 263.8,276.9 263.5,276.9 263.1,276.2 262.8,276.6 262.5,276.9 262.1,276.9 261.8,276.9 261.5,276.9 261.1,276.9 260.8,276.1 260.5,276.0 260.1,276.2 259.8,275.3 259.5,276.2 259.1,276.9 258.8,276.4 258.5,276.0 258.1,276.6 257.8,275.7 257.5,276.3 257.1,276.9 256.8,276.9 256.5,276.9 256.1,276.9 255.8,276.9 255.5,276.6 255.1,276.1 254.8,276.7 254.5,276.7 254.1,275.7 253.8,276.2 253.5,276.9 253.1,276.5 252.8,276.2 252.4,276.6 252.1,276.3 251.8,276.6 251.4,276.9 251.1,276.9 250.8,276.9 250.4,276.9 250.1,276.2 249.8,275.5 249.4,276.3 249.1,276.4 248.8,275.5 248.4,276.0 248.1,275.7 247.8,275.3 247.4,276.9 247.1,276.9 246.8,276.9 246.4,276.9 246.1,276.9 245.8,276.9 245.4,276.9 245.1,276.9 244.8,276.4 244.4,275.1 244.1,275.8 243.8,276.9 243.4,276.9 243.1,276.9 242.8,276.9 242.4,276.3 242.1,275.2 241.8,276.5 241.4,276.9 241.1,276.9 240.8,276.6 240.4,276.0 240.1,276.0 239.8,276.6 239.4,276.3 239.1,276.4 238.8,276.6 238.4,276.1 238.1,276.3 237.8,276.8 237.4,276.9 237.1,276.9 236.8,276.9 236.4,276.5 236.1,276.1 235.8,276.5 235.4,276.9 235.1,276.9 234.8,276.9 234.4,276.9 234.1,276.9 233.8,276.9 233.4,276.9 233.1,276.9 232.8,275.4 232.4,273.7 232.1,276.0 231.8,276.0 231.4,274.9 231.1,275.9 230.8,276.9 230.4,276.9 230.1,276.9 229.8,276.9 229.4,276.8 229.1,275.8 228.8,276.1 228.4,276.9 228.1,276.9 227.8,276.9 227.4,276.9 227.1,276.4 226.8,275.4 226.4,275.7 226.1,276.8 225.8,276.9 225.4,276.9 225.1,276.9 224.8,276.9 224.4,276.9 224.1,276.4 223.8,275.2 223.4,275.3 223.1,276.2 222.8,275.3 222.4,276.2 222.1,276.9 221.8,276.9 221.4,276.9 221.1,276.9 220.8,276.9 220.4,276.9 220.1,276.9 219.7,276.9 219.4,276.9 219.1,276.9 218.7,276.0 218.4,276.6 218.1,276.9 217.7,276.9 217.4,276.9 217.1,276.9 216.7,275.0 216.4,276.6 216.1,276.9 215.7,276.9 215.4,276.9 215.1,276.9 214.7,276.9 214.4,276.5 214.1,276.2 213.7,276.7 213.4,276.9 213.1,276.9 212.7,275.6 212.4,274.3 212.1,275.9 211.7,276.9 211.4,276.9 211.1,276.9 210.7,276.9 210.4,276.1 210.1,276.0 209.7,276.9 209.4,276.9 209.1,276.9 208.7,276.9 208.4,275.7 208.1,273.7 207.7,274.3 207.4,276.3 207.1,276.5 206.7,276.3 206.4,276.8 206.1,276.2 205.7,276.6 205.4,276.9 205.1,276.9 204.7,276.9 204.4,276.4 204.1,276.2 203.7,276.6 203.4,275.8 203.1,276.5 202.7,276.9 202.4,276.9 202.1,276.9 201.7,276.9 201.4,276.9 201.1,276.9 200.7,276.9 200.4,276.9 200.1,275.8 199.7,275.1 199.4,276.9 199.1,276.8 198.7,276.2 198.4,276.1 198.1,276.7 197.7,276.9 197.4,276.9 197.1,276.9 196.7,276.9 196.4,276.0 196.1,275.6 195.7,276.1 195.4,275.5 195.1,276.2 194.7,276.6 194.4,275.3 194.1,276.9 193.7,276.9 193.4,276.9 193.1,276.9 192.7,276.9 192.4,276.3 192.1,276.2 191.7,276.8 191.4,276.9 191.1,276.9 190.7,274.9 190.4,276.1 190.1,276.8 189.7,276.1 189.4,276.2 189.1,276.5 188.7,276.4 188.4,276.9 188.1,276.9 187.7,276.9 187.4,276.9 187.1,276.4 186.7,275.4 186.4,276.8 186.0,276.9 185.7,276.7 185.4,276.0 185.0,276.0 184.7,276.7 184.4,276.9 184.0,276.9 183.7,276.9 183.4,276.9 183.0,276.9 182.7,276.9 182.4,276.9 182.0,276.9 181.7,274.7 181.4,276.4 181.0,276.9 180.7,276.7 180.4,276.2 180.0,276.3 179.7,276.6 179.4,275.9 179.0,276.9 178.7,276.2 178.4,276.0 178.0,276.9 177.7,276.9 177.4,276.8 177.0,275.7 176.7,276.7 176.4,276.0 176.0,276.1 175.7,276.5 175.4,276.2 175.0,276.6 174.7,275.3 174.4,275.2 174.0,276.9 173.7,276.9 173.4,276.9 173.0,276.9 172.7,276.9 172.4,276.6 172.0,274.2 171.7,275.7 171.4,276.4 171.0,275.5 170.7,276.9 170.4,276.9 170.0,275.8 169.7,276.2 169.4,276.5 169.0,276.2 168.7,276.7 168.4,276.9 168.0,276.9 167.7,275.8 167.4,276.7 167.0,276.9 166.7,276.9 166.4,276.2 166.0,275.6 165.7,276.4 165.4,276.3 165.0,276.5 164.7,276.8 164.4,276.3 164.0,276.3 163.7,276.8 163.4,276.9 163.0,276.9 162.7,276.9 162.4,276.3 162.0,276.1 161.7,276.9 161.4,276.8 161.0,275.4 160.7,276.9 160.4,276.9 160.0,276.9 159.7,276.9 159.4,276.9 159.0,276.9 158.7,276.9 158.4,276.9 158.0,276.9 157.7,275.2 157.4,274.0 157.0,276.8 156.7,276.9 156.4,276.9 156.0,275.5 155.7,275.3 155.4,276.3 155.0,274.9 154.7,275.1 154.4,276.5 154.0,276.5 153.7,276.5 153.3,276.9 153.0,276.9 152.7,275.9 152.3,274.6 152.0,276.2 151.7,276.9 151.3,276.6 151.0,274.0 150.7,276.7 150.3,276.9 150.0,276.5 149.7,275.9 149.3,276.4 149.0,276.4 148.7,274.3 148.3,275.3 148.0,276.9 147.7,276.9 147.3,276.9 147.0,276.9 146.7,276.9 146.3,276.9 146.0,276.9 145.7,276.9 145.3,276.9 145.0,276.9 144.7,276.9 144.3,276.9 144.0,276.9 143.7,276.9 143.3,276.9 143.0,276.9 142.7,276.5 142.3,276.1 142.0,276.5 141.7,276.9 141.3,276.9 141.0,276.9 140.7,276.9 140.3,276.9 140.0,275.8 139.7,276.2 139.3,276.9 139.0,276.5 138.7,275.8 138.3,276.3 138.0,276.3 137.7,276.3 137.3,276.8 137.0,276.9 136.7,276.9 136.3,276.6 136.0,276.3 135.7,276.9 135.3,276.2 135.0,275.2 134.7,275.5 134.3,276.4 134.0,275.9 133.7,276.5 133.3,276.9 133.0,276.9 132.7,276.9 132.3,276.9 132.0,276.9 131.7,276.9 131.3,276.9 131.0,275.9 130.7,276.4 130.3,276.9 130.0,276.3 129.7,276.3 129.3,276.8 129.0,276.5 128.7,276.3 128.3,276.7 128.0,276.9 127.7,276.9 127.3,276.9 127.0,276.4 126.7,276.6 126.3,276.9 126.0,276.9 125.7,276.9 125.3,276.4 125.0,276.0 124.7,276.5 124.3,276.9 124.0,276.9 123.7,276.5 123.3,274.1 123.0,275.4 122.7,276.9 122.3,276.9 122.0,276.9 121.7,276.9 121.3,276.8 121.0,276.2 120.7,276.8 120.3,276.4 120.0,276.2 119.6,276.6 119.3,276.9 119.0,276.9 118.6,276.9 118.3,276.9 118.0,276.9 117.6,276.2 117.3,276.5 117.0,276.9 116.6,276.9 116.3,276.9 116.0,276.2 115.6,275.8 115.3,276.6 115.0,276.9 114.6,276.9 114.3,276.9 114.0,276.9 113.6,275.3 113.3,274.6 113.0,276.5 112.6,276.3 112.3,276.5 112.0,276.9 111.6,276.9 111.3,276.9 111.0,276.9 110.6,276.9 110.3,276.9 110.0,276.0 109.6,276.2 109.3,276.9 109.0,276.9 108.6,274.9 108.3,276.3 108.0,276.9 107.6,276.4 107.3,275.8 107.0,276.3 106.6,276.9 106.3,276.9 106.0,276.0 105.6,275.3 105.3,276.3 105.0,276.5 104.6,276.0 104.3,276.5 104.0,276.7 103.6,276.0 103.3,276.3 103.0,276.9 102.6,276.9 102.3,276.5 102.0,276.4 101.6,276.9 101.3,276.9 101.0,276.6 100.6,276.1 100.3,276.4 100.0,276.9 99.6,276.9 99.3,276.9 99.0,276.9 98.6,276.7 98.3,275.6 98.0,276.4 97.6,276.9 97.3,276.7 97.0,276.0 96.6,276.4 96.3,276.9 96.0,276.9 95.6,276.6 95.3,276.3 95.0,276.7 94.6,275.5 94.3,275.2 94.0,276.4 93.6,276.9 93.3,276.9 93.0,276.9 92.6,276.9 92.3,276.9 92.0,276.6 91.6,276.3 91.3,276.9 91.0,276.9 90.6,276.0 90.3,276.0 90.0,276.9 89.6,276.9 89.3,276.9 89.0,276.9 88.6,276.9 88.3,276.9 88.0,276.3 87.6,276.3 87.3,276.9 87.0,274.5 86.6,274.7 86.3,276.3 85.9,276.2 85.6,276.1 85.3,274.9 84.9,275.7 84.6,276.9 84.3,276.9 83.9,276.9 83.6,276.9 83.3,276.9 82.9,276.9 82.6,276.9 82.3,276.9 81.9,276.9 81.6,276.9 81.3,276.9 80.9,276.9 80.6,276.9 80.3,276.9 79.9,276.9 79.6,276.9 79.3,276.9 78.9,276.9 78.6,276.5 78.3,275.8 77.9,276.5 77.6,276.9 77.3,276.9 76.9,276.9 76.6,276.4 76.3,276.1 75.9,276.9 75.6,276.9 75.3,276.9 74.9,276.8 74.6,276.4 74.3,276.4 73.9,276.8 73.6,276.9 73.3,276.6 72.9,276.2 72.6,276.6 72.3,276.4 71.9,276.4 71.6,276.8 71.3,275.5 70.9,276.2 70.6,276.9 70.3,276.9 69.9,276.9 69.6,276.9 69.3,276.1 68.9,275.5 68.6,276.4 68.3,275.1 67.9,276.4 67.6,276.9 67.3,276.9 66.9,276.6 66.6,275.9 66.3,276.0 65.9,276.7 65.6,276.9 65.3,275.3 64.9,275.1 64.6,276.9 64.3,276.9 63.9,275.6 63.6,275.3 63.3,276.9 62.9,276.9 62.6,276.0 62.3,275.9 61.9,275.3 61.6,274.6 61.3,276.2 60.9,276.9 60.6,276.5 60.3,275.9 59.9,276.6 59.6,276.9 59.3,276.9 58.9,276.9 58.6,276.9 58.3,276.1 57.9,276.6 57.6,276.9 57.3,276.9 56.9,276.9 56.6,275.9 56.3,275.7 55.9,276.9 55.6,276.9 55.3,276.9 54.9,276.9 54.6,276.9 54.3,276.9 53.9,276.9 53.6,276.9 53.2,276.9 52.9,276.9 52.6,276.9 52.2,274.8 51.9,275.6 51.6,276.9 51.2,276.9 50.9,276.6 50.6,275.9 50.2,276.6 49.9,276.9 49.6,276.9 49.2,276.9 48.9,276.9 48.6,276.5 48.2,275.9 47.9,276.4 47.6,276.6 47.2,276.0 46.9,276.3 46.6,276.9 46.2,276.9 45.9,275.9 45.6,276.8 45.2,276.9 44.9,276.9 44.6,276.5 44.2,275.8 43.9,276.3 43.6,276.1 43.2,275.5 42.9,276.3 42.6,276.1 42.2,276.4 41.9,276.9 41.6,275.9 41.2,275.8 40.9,276.9 40.6,275.8 40.2,276.6 39.9,276.9 39.6,275.8 39.2,276.9 38.9,276.9 38.6,276.2 38.2,276.5 37.9,276.9 37.6,276.9 37.2,276.9 36.9,276.9"/>
<polygon fill="#0072BF" points="36.9,170.1 37.2,171.3 37.6,170.7 37.9,168.4 38.2,168.8 38.6,168.8 38.9,168.8 39.2,166.8 39.6,167.8 39.9,167.2 40.2,167.7 40.6,168.4 40.9,169.2 41.2,168.8 41.6,168.6 41.9,167.9 42.2,168.7 42.6,167.5 42.9,168.0 43.2,169.1 43.6,170.9 43.9,173.2 44.2,170.3 44.6,168.8 44.9,167.8 45.2,168.1 45.6,168.9 45.9,169.9 46.2,169.8 46.6,168.4 46.9,169.0 47.2,169.1 47.6,167.7 47.9,169.1 48.2,168.4 48.6,167.4 48.9,168.4 49.2,167.0 49.6,166.8 49.9,167.3 50.2,167.3 50.6,168.3 50.9,168.2 51.2,167.5 51.6,167.6 51.9,168.1 52.2,168.1 52.6,167.8 52.9,167.6 53.2,167.0 53.6,167.7 53.9,168.9 54.3,168.2 54.6,168.1 54.9,168.2 55.3,168.6 55.6,168.1 55.9,168.3 56.3,168.9 56.6,168.1 56.9,168.1 57.3,169.4 57.6,168.2 57.9,169.5 58.3,171.4 58.6,173.3 58.9,173.8 59.3,171.1 59.6,170.4 59.9,169.1 60.3,168.2 60.6,167.9 60.9,168.1 61.3,166.8 61.6,168.0 61.9,169.5 62.3,170.8 62.6,171.1 62.9,169.1 63.3,169.2 63.6,168.1 63.9,168.1 64.3,169.2 64.6,169.4 64.9,167.3 65.3,167.4 65.6,168.5 65.9,169.7 66.3,169.9 66.6,171.9 66.9,171.6 67.3,170.8 67.6,169.7 67.9,167.4 68.3,168.1 68.6,168.5 68.9,168.6 69.3,167.8 69.6,167.4 69.9,167.4 70.3,168.1 70.6,168.3 70.9,169.9 71.3,169.9 71.6,168.7 71.9,169.3 72.3,169.9 72.6,168.8 72.9,168.4 73.3,168.2 73.6,166.8 73.9,167.9 74.3,167.0 74.6,167.4 74.9,168.3 75.3,168.0 75.6,168.1 75.9,167.8 76.3,167.8 76.6,167.9 76.9,168.3 77.3,167.1 77.6,168.0 77.9,167.3 78.3,168.1 78.6,170.0 78.9,169.3 79.3,168.9 79.6,169.6 79.9,168.7 80.3,168.0 80.6,167.7 80.9,168.2 81.3,169.0 81.6,169.0 81.9,168.6 82.3,167.7 82.6,168.0 82.9,168.9 83.3,167.6 83.6,168.5 83.9,168.7 84.3,168.9 84.6,168.8 84.9,169.4 85.3,172.2 85.6,172.5 85.9,169.9 86.3,167.0 86.6,167.3 87.0,167.6 87.3,167.3 87.6,167.5 88.0,167.6 88.3,167.2 88.6,167.6 89.0,169.1 89.3,168.5 89.6,169.0 90.0,170.2 90.3,169.6 90.6,169.2 91.0,171.5 91.3,170.4 91.6,168.3 92.0,167.6 92.3,167.1 92.6,168.3 93.0,167.7 93.3,167.1 93.6,167.6 94.0,168.9 94.3,168.2 94.6,168.3 95.0,167.2 95.3,168.1 95.6,168.1 96.0,166.9 96.3,167.7 96.6,167.1 97.0,168.6 97.3,169.5 97.6,169.1 98.0,168.4 98.3,167.7 98.6,168.0 99.0,167.7 99.3,167.1 99.6,167.8 100.0,169.0 100.3,168.2 100.6,169.8 101.0,169.8 101.3,169.1 101.6,168.6 102.0,168.0 102.3,168.7 102.6,168.0 103.0,169.1 103.3,167.9 103.6,167.6 104.0,167.8 104.3,167.9 104.6,167.8 105.0,168.2 105.3,167.1 105.6,167.3 106.0,167.9 106.3,167.2 106.6,167.0 107.0,168.0 107.3,170.4 107.6,169.4 108.0,167.9 108.3,168.3 108.6,168.1 109.0,167.3 109.3,168.1 109.6,170.8 110.0,171.5 110.3,170.3 110.6,168.2 111.0,167.9 111.3,168.1 111.6,167.0 112.0,168.3 112.3,168.2 112.6,167.7 113.0,168.0 113.3,168.6 113.6,170.0 114.0,170.1 114.3,169.1 114.6,169.5 115.0,168.9 115.3,168.8 115.6,167.2 116.0,167.8 116.3,168.9 116.6,169.3 117.0,168.4 117.3,168.5 117.6,168.2 118.0,168.9 118.3,170.3 118.6,169.5 119.0,168.4 119.3,168.5 119.6,169.8 120.0,170.0 120.3,168.7 120.7,168.4 121.0,167.9 121.3,168.3 121.7,168.4 122.0,167.5 122.3,169.6 122.7,176.0 123.0,171.7 123.3,167.0 123.7,167.5 124.0,169.2 124.3,170.2 124.7,169.2 125.0,169.0 125.3,168.9 125.7,167.7 126.0,166.9 126.3,167.4 126.7,167.3 127.0,169.0 127.3,167.9 127.7,168.2 128.0,168.7 128.3,168.4 128.7,169.1 129.0,168.7 129.3,168.0 129.7,168.6 130.0,170.1 130.3,170.0 130.7,169.0 131.0,169.5 131.3,170.6 131.7,169.5 132.0,167.5 132.3,167.2 132.7,169.3 133.0,169.0 133.3,170.3 133.7,171.0 134.0,170.3 134.3,171.3 134.7,170.8 135.0,170.7 135.3,169.1 135.7,168.5 136.0,168.9 136.3,168.7 136.7,168.2 137.0,167.0 137.3,167.1 137.7,168.3 138.0,167.0 138.3,168.1 138.7,167.3 139.0,167.2 139.3,167.2 139.7,168.3 140.0,169.3 140.3,167.6 140.7,169.6 141.0,169.6 141.3,169.7 141.7,169.7 142.0,171.1 142.3,174.7 142.7,171.9 143.0,168.6 143.3,168.2 143.7,167.7 144.0,166.8 144.3,168.5 144.7,168.9 145.0,168.8 145.3,169.3 145.7,168.1 146.0,168.6 146.3,168.7 146.7,168.2 147.0,168.7 147.3,168.4 147.7,168.0 148.0,168.4 148.3,167.9 148.7,167.4 149.0,168.2 149.3,167.4 149.7,167.8 150.0,170.7 150.3,173.4 150.7,169.9 151.0,171.9 151.3,169.9 151.7,168.4 152.0,168.0 152.3,168.0 152.7,168.1 153.0,167.2 153.3,167.8 153.7,167.4 154.0,168.1 154.4,167.0 154.7,167.7 155.0,167.3 155.4,168.1 155.7,167.9 156.0,169.4 156.4,170.2 156.7,169.9 157.0,168.5 157.4,171.3 157.7,171.3 158.0,169.6 158.4,170.7 158.7,171.4 159.0,169.8 159.4,167.7 159.7,167.5 160.0,167.6 160.4,168.7 160.7,169.0 161.0,169.1 161.4,167.6 161.7,169.2 162.0,171.7 162.4,168.7 162.7,167.8 163.0,167.8 163.4,169.6 163.7,169.0 164.0,168.2 164.4,167.7 164.7,168.2 165.0,167.1 165.4,167.5 165.7,167.4 166.0,168.1 166.4,168.3 166.7,167.3 167.0,167.9 167.4,169.6 167.7,170.3 168.0,169.6 168.4,169.0 168.7,168.7 169.0,169.0 169.4,168.9 169.7,168.2 170.0,168.5 170.4,168.5 170.7,168.4 171.0,168.7 171.4,169.1 171.7,169.4 172.0,169.4 172.4,169.3 172.7,168.2 173.0,167.4 173.4,168.3 173.7,167.9 174.0,167.0 174.4,168.3 174.7,167.8 175.0,170.9 175.4,171.5 175.7,169.8 176.0,167.5 176.4,166.9 176.7,167.6 177.0,169.4 177.4,171.2 177.7,170.6 178.0,168.4 178.4,169.7 178.7,170.1 179.0,169.0 179.4,171.1 179.7,170.6 180.0,168.7 180.4,169.1 180.7,170.4 181.0,170.2 181.4,170.3 181.7,171.7 182.0,169.7 182.4,168.3 182.7,167.1 183.0,167.7 183.4,167.6 183.7,170.0 184.0,171.5 184.4,170.6 184.7,168.4 185.0,167.7 185.4,168.1 185.7,167.1 186.0,168.2 186.4,168.4 186.7,172.3 187.1,176.1 187.4,171.8 187.7,169.5 188.1,170.4 188.4,171.4 188.7,169.3 189.1,168.2 189.4,168.2 189.7,168.3 190.1,168.0 190.4,169.3 190.7,168.5 191.1,167.2 191.4,167.8 191.7,168.1 192.1,168.0 192.4,168.8 192.7,168.0 193.1,167.5 193.4,167.5 193.7,167.6 194.1,167.5 194.4,166.9 194.7,166.8 195.1,167.8 195.4,169.3 195.7,170.3 196.1,170.4 196.4,169.6 196.7,169.1 197.1,167.7 197.4,167.8 197.7,168.2 198.1,167.1 198.4,167.7 198.7,167.9 199.1,168.0 199.4,167.9 199.7,167.9 200.1,167.2 200.4,168.1 200.7,168.4 201.1,167.5 201.4,169.3 201.7,168.0 202.1,166.9 202.4,166.9 202.7,168.1 203.1,167.9 203.4,167.5 203.7,170.0 204.1,169.6 204.4,168.4 204.7,167.8 205.1,169.1 205.4,168.4 205.7,167.9 206.1,168.0 206.4,168.2 206.7,169.9 207.1,172.0 207.4,169.2 207.7,167.3 208.1,167.6 208.4,168.3 208.7,168.2 209.1,169.5 209.4,169.7 209.7,168.5 210.1,167.5 210.4,168.3 210.7,167.6 211.1,168.9 211.4,169.4 211.7,168.5 212.1,168.9 212.4,168.8 212.7,169.1 213.1,168.4 213.4,169.0 213.7,169.8 214.1,168.5 214.4,168.1 214.7,167.8 215.1,167.4 215.4,167.9 215.7,167.4 216.1,167.0 216.4,169.1 216.7,170.2 217.1,169.5 217.4,169.3 217.7,169.4 218.1,168.7 218.4,170.1 218.7,169.6 219.1,167.9 219.4,167.5 219.7,168.2 220.1,169.2 220.4,168.2 220.8,168.0 221.1,168.4 221.4,168.1 221.8,169.5 222.1,170.8 222.4,169.6 222.8,168.9 223.1,169.9 223.4,170.1 223.8,170.9 224.1,169.5 224.4,168.4 224.8,167.3 225.1,167.0 225.4,168.2 225.8,168.1 226.1,167.9 226.4,169.7 226.8,170.4 227.1,169.1 227.4,168.9 227.8,170.1 228.1,168.7 228.4,168.5 228.8,169.9 229.1,169.2 229.4,171.7 229.8,173.9 230.1,168.7 230.4,167.8 230.8,168.6 231.1,170.5 231.4,172.8 231.8,170.1 232.1,167.4 232.4,168.3 232.8,168.5 233.1,169.0 233.4,168.4 233.8,169.1 234.1,168.2 234.4,168.7 234.8,167.2 235.1,167.2 235.4,166.9 235.8,168.1 236.1,169.1 236.4,172.4 236.8,168.9 237.1,167.2 237.4,168.0 237.8,168.5 238.1,169.4 238.4,170.0 238.8,168.8 239.1,168.9 239.4,167.9 239.8,169.6 240.1,169.5 240.4,170.1 240.8,171.0 241.1,170.2 241.4,168.8 241.8,169.0 242.1,170.7 242.4,169.9 242.8,170.0 243.1,170.8 243.4,168.5 243.8,168.6 244.1,170.0 244.4,168.9 244.8,168.7 245.1,169.1 245.4,169.1 245.8,169.4 246.1,168.6 246.4,169.7 246.8,170.5 247.1,170.0 247.4,169.4 247.8,170.5 248.1,168.3 248.4,167.4 248.8,167.2 249.1,167.2 249.4,168.3 249.8,168.4 250.1,168.1 250.4,167.9 250.8,168.6 251.1,169.2 251.4,168.8 251.8,168.8 252.1,167.6 252.4,169.4 252.8,170.0 253.1,171.0 253.5,172.7 253.8,171.2 254.1,168.8 254.5,169.0 254.8,170.4 255.1,169.6 255.5,168.5 255.8,168.8 256.1,169.3 256.5,169.4 256.8,170.3 257.1,170.5 257.5,169.1 257.8,168.3 258.1,167.8 258.5,167.9 258.8,166.8 259.1,168.1 259.5,168.0 259.8,167.6 260.1,168.9 260.5,172.4 260.8,168.9 261.1,170.4 261.5,171.4 261.8,171.4 262.1,169.7 262.5,169.4 262.8,169.7 263.1,170.0 263.5,169.0 263.8,168.0 264.1,167.9 264.5,168.9 264.8,169.5 265.1,171.2 265.5,173.7 265.8,175.9 266.1,173.7 266.5,170.6 266.8,168.9 267.1,170.1 267.5,168.7 267.8,168.6 268.1,167.2 268.5,168.3 268.8,168.1 269.1,168.2 269.5,169.5 269.8,167.7 269.8,274.5 269.5,274.5 269.1,274.4 268.8,274.1 268.5,274.5 268.1,274.5 267.8,274.3 267.5,273.9 267.1,273.2 266.8,272.9 266.5,273.3 266.1,274.2 265.8,274.3 265.5,274.1 265.1,274.2 264.8,274.1 264.5,274.1 264.1,274.4 263.8,274.1 263.5,273.8 263.1,272.9 262.8,273.2 262.5,273.9 262.1,274.1 261.8,274.4 261.5,274.1 261.1,274.0 260.8,272.1 260.5,272.2 260.1,272.2 259.8,271.4 259.5,272.3 259.1,273.1 258.8,273.2 258.5,272.9 258.1,272.8 257.8,271.9 257.5,272.3 257.1,273.8 256.8,274.1 256.5,274.3 256.1,274.3 255.8,273.7 255.5,273.5 255.1,272.8 254.8,273.5 254.5,272.8 254.1,271.7 253.8,272.5 253.5,273.6 253.1,273.4 252.8,272.7 252.4,273.2 252.1,273.0 251.8,273.8 251.4,274.0 251.1,274.3 250.8,274.1 250.4,272.9 250.1,272.6 249.8,271.9 249.4,272.6 249.1,272.4 248.8,271.8 248.4,271.9 248.1,271.1 247.8,271.0 247.4,272.2 247.1,274.2 246.8,274.3 246.4,274.1 246.1,274.3 245.8,274.2 245.4,274.5 245.1,273.1 244.8,272.0 244.4,270.8 244.1,271.3 243.8,273.0 243.4,274.1 243.1,274.2 242.8,273.4 242.4,272.0 242.1,271.3 241.8,272.3 241.4,273.8 241.1,273.4 240.8,272.8 240.4,272.1 240.1,272.1 239.8,273.2 239.4,273.1 239.1,273.3 238.8,273.5 238.4,272.7 238.1,273.2 237.8,273.8 237.4,274.1 237.1,274.4 236.8,273.8 236.4,273.1 236.1,273.1 235.8,273.1 235.4,273.7 235.1,274.0 234.8,274.1 234.4,274.3 234.1,274.1 233.8,274.6 233.4,274.3 233.1,272.1 232.8,270.1 232.4,268.0 232.1,270.7 231.8,271.6 231.4,270.4 231.1,271.4 230.8,273.1 230.4,273.8 230.1,274.5 229.8,274.0 229.4,272.9 229.1,271.8 228.8,272.4 228.4,273.4 228.1,274.1 227.8,274.3 227.4,273.1 227.1,272.3 226.8,271.4 226.4,271.6 226.1,272.5 225.8,273.6 225.4,274.3 225.1,274.2 224.8,274.4 224.4,273.3 224.1,271.9 223.8,270.8 223.4,271.1 223.1,272.0 222.8,271.4 222.4,272.3 222.1,273.4 221.8,274.1 221.4,274.5 221.1,274.2 220.8,274.4 220.4,274.2 220.1,274.2 219.7,274.5 219.4,274.5 219.1,273.5 218.7,272.6 218.4,273.0 218.1,273.9 217.7,274.0 217.4,274.5 217.1,272.9 216.7,270.6 216.4,272.4 216.1,274.0 215.7,274.3 215.4,274.1 215.1,274.4 214.7,273.8 214.4,273.2 214.1,272.8 213.7,273.3 213.4,274.1 213.1,272.4 212.7,270.8 212.4,269.1 212.1,271.1 211.7,272.7 211.4,274.0 211.1,274.3 210.7,273.4 210.4,272.5 210.1,272.3 209.7,273.5 209.4,274.2 209.1,273.5 208.7,272.1 208.4,270.0 208.1,267.9 207.7,268.5 207.4,270.6 207.1,272.6 206.7,272.8 206.4,273.7 206.1,272.7 205.7,273.4 205.4,273.9 205.1,274.1 204.7,273.7 204.4,272.7 204.1,272.8 203.7,273.0 203.4,272.4 203.1,273.0 202.7,273.9 202.4,274.4 202.1,274.5 201.7,274.5 201.4,274.6 201.1,274.5 200.7,274.3 200.4,274.0 200.1,270.5 199.7,270.2 199.4,272.9 199.1,273.5 198.7,273.0 198.4,272.5 198.1,273.3 197.7,273.8 197.4,274.1 197.1,273.8 196.7,273.0 196.4,272.4 196.1,271.9 195.7,272.6 195.4,271.4 195.1,272.4 194.7,272.4 194.4,271.4 194.1,272.8 193.7,274.1 193.4,274.6 193.1,274.2 192.7,273.5 192.4,273.2 192.1,272.7 191.7,273.6 191.4,273.8 191.1,272.9 190.7,270.0 190.4,271.4 190.1,273.4 189.7,272.7 189.4,272.9 189.1,273.4 188.7,273.1 188.4,273.7 188.1,274.2 187.7,274.4 187.4,274.1 187.1,272.5 186.7,271.4 186.4,272.8 186.0,273.9 185.7,272.8 185.4,272.1 185.0,272.6 184.7,273.2 184.4,273.7 184.0,274.2 183.7,274.6 183.4,274.5 183.0,274.2 182.7,274.2 182.4,274.4 182.0,272.4 181.7,270.1 181.4,272.0 181.0,273.9 180.7,273.4 180.4,273.1 180.0,273.1 179.7,273.0 179.4,272.5 179.0,273.4 178.7,272.3 178.4,272.6 178.0,273.4 177.7,274.1 177.4,273.3 177.0,272.2 176.7,272.9 176.4,272.2 176.0,272.5 175.7,273.0 175.4,272.7 175.0,272.5 174.7,270.9 174.4,270.8 174.0,272.0 173.7,274.1 173.4,274.3 173.0,274.3 172.7,273.6 172.4,271.2 172.0,268.7 171.7,270.4 171.4,272.5 171.0,271.7 170.7,273.1 170.4,273.1 170.0,271.9 169.7,272.2 169.4,273.6 169.0,273.1 168.7,273.6 168.4,273.7 168.0,273.1 167.7,272.1 167.4,273.1 167.0,273.8 166.7,273.6 166.4,272.6 166.0,272.1 165.7,272.8 165.4,273.0 165.0,273.2 164.7,273.4 164.4,272.9 164.0,272.9 163.7,273.7 163.4,274.1 163.0,274.2 162.7,273.6 162.4,272.8 162.0,272.6 161.7,273.5 161.4,272.9 161.0,271.6 160.7,272.9 160.4,274.3 160.0,274.1 159.7,274.2 159.4,274.4 159.0,274.4 158.7,274.4 158.4,274.3 158.0,272.1 157.7,269.8 157.4,268.4 157.0,271.0 156.7,273.8 156.4,273.3 156.0,270.7 155.7,270.2 155.4,271.8 155.0,270.0 154.7,270.4 154.4,271.8 154.0,273.2 153.7,273.4 153.3,274.1 153.0,272.8 152.7,271.3 152.3,270.1 152.0,271.7 151.7,273.1 151.3,271.6 151.0,269.1 150.7,271.6 150.3,273.4 150.0,273.0 149.7,272.2 149.3,272.9 149.0,271.0 148.7,269.0 148.3,269.9 148.0,272.3 147.7,274.0 147.3,274.1 147.0,274.4 146.7,274.6 146.3,274.6 146.0,274.2 145.7,274.4 145.3,274.5 145.0,274.2 144.7,274.1 144.3,274.5 144.0,274.2 143.7,274.1 143.3,274.0 143.0,274.0 142.7,273.6 142.3,272.9 142.0,273.0 141.7,273.8 141.3,274.0 141.0,274.4 140.7,274.2 140.3,273.5 140.0,271.7 139.7,272.2 139.3,273.9 139.0,273.0 138.7,272.5 138.3,272.5 138.0,272.9 137.7,273.2 137.3,273.2 137.0,274.1 136.7,273.8 136.3,273.3 136.0,273.4 135.7,273.0 135.3,272.1 135.0,270.9 134.7,271.1 134.3,272.1 134.0,272.6 133.7,272.9 133.3,273.6 133.0,274.1 132.7,274.5 132.3,274.3 132.0,274.3 131.7,274.5 131.3,273.1 131.0,271.8 130.7,272.6 130.3,273.8 130.0,273.2 129.7,273.0 129.3,273.4 129.0,273.4 128.7,273.3 128.3,273.4 128.0,274.1 127.7,274.4 127.3,273.6 127.0,273.0 126.7,273.6 126.3,274.3 126.0,274.1 125.7,273.7 125.3,273.4 125.0,272.4 124.7,273.4 124.3,273.6 124.0,273.6 123.7,271.1 123.3,269.0 123.0,270.1 122.7,272.3 122.3,274.2 122.0,274.5 121.7,274.4 121.3,273.6 121.0,273.2 120.7,273.5 120.3,273.4 120.0,272.9 119.6,273.2 119.3,274.0 119.0,274.5 118.6,274.5 118.3,274.3 118.0,273.4 117.6,272.5 117.3,273.2 117.0,274.1 116.6,274.3 116.3,273.5 116.0,272.3 115.6,272.2 115.3,273.1 115.0,273.8 114.6,274.2 114.3,274.3 114.0,272.3 113.6,270.5 113.3,269.9 113.0,271.7 112.6,273.1 112.3,273.0 112.0,273.7 111.6,274.2 111.3,274.1 111.0,274.2 110.6,274.5 110.3,273.4 110.0,272.2 109.6,272.4 109.3,273.9 109.0,272.9 108.6,270.4 108.3,271.4 108.0,273.6 107.6,272.6 107.3,272.3 107.0,272.8 106.6,273.6 106.3,273.2 106.0,271.9 105.6,271.3 105.3,272.2 105.0,273.1 104.6,272.6 104.3,273.3 104.0,273.0 103.6,272.4 103.3,273.0 103.0,273.7 102.6,274.1 102.3,273.5 102.0,273.0 101.6,273.8 101.3,273.7 101.0,273.1 100.6,273.0 100.3,273.0 100.0,273.5 99.6,273.7 99.3,274.0 99.0,273.7 98.6,272.8 98.3,271.9 98.0,272.8 97.6,273.8 97.3,273.1 97.0,272.8 96.6,272.6 96.3,273.5 96.0,274.3 95.6,273.1 95.3,273.1 95.0,272.1 94.6,271.3 94.3,270.9 94.0,271.8 93.6,273.4 93.3,274.0 93.0,274.5 92.6,274.1 92.3,274.2 92.0,273.6 91.6,273.4 91.3,273.5 91.0,273.1 90.6,272.0 90.3,272.3 90.0,273.5 89.6,274.1 89.3,274.4 89.0,274.0 88.6,274.3 88.3,273.9 88.0,273.2 87.6,272.8 87.3,271.7 87.0,268.4 86.6,268.7 86.3,271.9 85.9,272.6 85.6,271.5 85.3,270.8 84.9,271.4 84.6,272.7 84.3,273.7 83.9,274.6 83.6,274.6 83.3,274.0 82.9,274.5 82.6,274.0 82.3,274.4 81.9,274.2 81.6,274.4 81.3,274.2 80.9,274.1 80.6,274.3 80.3,274.2 79.9,274.0 79.6,274.4 79.3,274.2 78.9,273.4 78.6,272.9 78.3,272.2 77.9,273.1 77.6,273.9 77.3,274.5 76.9,274.3 76.6,272.9 76.3,272.4 75.9,273.7 75.6,274.0 75.3,274.0 74.9,273.8 74.6,272.9 74.3,273.0 73.9,273.7 73.6,273.6 73.3,273.6 72.9,272.9 72.6,273.2 72.3,273.1 71.9,273.3 71.6,273.2 71.3,271.3 70.9,272.0 70.6,274.0 70.3,274.5 69.9,274.4 69.6,273.2 69.3,272.0 68.9,271.7 68.6,272.1 68.3,270.7 67.9,272.0 67.6,273.6 67.3,273.9 66.9,272.8 66.6,272.2 66.3,272.2 65.9,272.8 65.6,272.7 65.3,270.6 64.9,270.1 64.6,272.2 64.3,272.7 63.9,271.0 63.6,270.5 63.3,272.4 62.9,273.0 62.6,272.4 62.3,271.8 61.9,270.7 61.6,269.6 61.3,271.4 60.9,272.7 60.6,273.2 60.3,272.5 59.9,273.1 59.6,274.0 59.3,274.5 58.9,274.1 58.6,273.8 58.3,272.8 57.9,273.0 57.6,274.3 57.3,274.2 56.9,273.0 56.6,271.9 56.3,271.7 55.9,273.2 55.6,274.0 55.3,274.1 54.9,274.5 54.6,274.3 54.3,274.6 53.9,274.1 53.6,274.5 53.2,274.4 52.9,274.2 52.6,272.5 52.2,269.7 51.9,270.6 51.6,272.8 51.2,274.2 50.9,273.1 50.6,272.6 50.2,273.0 49.9,274.1 49.6,274.3 49.2,274.0 48.9,273.8 48.6,272.8 48.2,272.4 47.9,272.7 47.6,273.0 47.2,272.5 46.9,272.9 46.6,273.2 46.2,273.2 45.9,272.2 45.6,273.4 45.2,274.3 44.9,273.5 44.6,273.1 44.2,272.1 43.9,272.8 43.6,272.5 43.2,271.5 42.9,272.3 42.6,272.9 42.2,272.9 41.9,273.2 41.6,271.6 41.2,272.0 40.9,273.3 40.6,272.3 40.2,272.6 39.9,273.6 39.6,272.1 39.2,273.5 38.9,273.5 38.6,272.6 38.2,273.1 37.9,273.6 37.6,274.5 37.2,274.1 36.9,274.0"/>
<rect x="93" y="164.69" width="1" height="112.51" fill="url(#g66)"/>
<rect x="94" y="164.69" width="1" height="112.51" fill="url(#g67)"/>
<rect x="95" y="164.69" width="1" height="112.51" fill="url(#g68)"/>
<rect x="96" y="164.69" width="1" height="112.51" fill="url(#g69)"/>
<rect x="97" y="164.69" width="1" height="112.51" fill="url(#g70)"/>
<rect x="98" y="164.69" width="1" height="112.51" fill="url(#g71)"/>
<rect x="99" y="164.69" width="1" height="112.51" fill="url(#g72)"/>
<rect x="100" y="164.69" width="1" height="112.51" fill="url(#g73)"/>
<rect x="101" y="164.69" width="1" height="112.51" fill="url(#g74)"/>
<rect x="102" y="164.69" width="1" height="112.51" fill="url(#g75)"/>
<rect x="103" y="164.69" width="1" height="112.51" fill="url(#g76)"/>
<rect x="104" y="164.69" width="1" height="112.51" fill="url(#g77)"/>
<rect x="105" y="164.69" width="1" height="112.51" fill="url(#g78)"/>
<rect x="106" y="164.69" width="1" height="112.51" fill="url(#g79)"/>
<rect x="107" y="164.69" width="1" height="112.51" fill="url(#g80)"/>
<rect x="108" y="164.69" width="1" height="112.51" fill="url(#g81)"/>
<rect x="109" y="164.69" width="1" height="112.51" fill="url(#g82)"/>
<rect x="110" y="164.69" width="1" height="112.51" fill="url(#g83)"/>
<rect x="111" y="164.69" width="1" height="112.51" fill="url(#g84)"/>
<rect x="112" y="164.69" width="1" height="112.51" fill="url(#g85)"/>
<rect x="113" y="164.69" width="1" height="112.51" fill="url(#g86)"/>
<rect x="114" y="164.69" width="1" height="112.51" fill="url(#g87)"/>
<rect x="115" y="164.69" width="1" height="112.51" fill="url(#g88)"/>
<rect x="116" y="164.69" width="1" height="112.51" fill="url(#g89)"/>
<rect x="117" y="164.69" width="1" height="112.51" fill="url(#g90)"/>
<rect x="118" y="164.69" width="1" height="112.51" fill="url(#g91)"/>
<rect x="119" y="164.69" width="1" height="112.51" fill="url(#g92)"/>
<rect x="120" y="164.69" width="1" height="112.51" fill="url(#g93)"/>
<rect x="121" y="164.69" width="1" height="112.51" fill="url(#g94)"/>
<rect x="122" y="164.69" width="1" height="112.51" fill="url(#g95)"/>
<rect x="123" y="164.69" width="1" height="112.51" fill="url(#g96)"/>
<rect x="124" y="164.69" width="1" height="112.51" fill="url(#g97)"/>
<rect x="125" y="164.69" width="1" height="112.51" fill="url(#g98)"/>
<rect x="126" y="164.69" width="1" height="112.51" fill="url(#g99)"/>
<rect x="127" y="164.69" width="1" height="112.51" fill="url(#g100)"/>
<rect x="128" y="164.69" width="1" height="112.51" fill="url(#g101)"/>
<rect x="129" y="164.69" width="1" height="112.51" fill="url(#g102)"/>
<rect x="130" y="164.69" width="1" height="112.51" fill="url(#g103)"/>
<rect x="131" y="164.69" width="1" height="112.51" fill="url(#g104)"/>
<rect x="132" y="164.69" width="1" height="112.51" fill="url(#g105)"/>
<rect x="133" y="164.69" width="1" height="112.51" fill="url(#g106)"/>
<rect x="134" y="164.69" width="1" height="112.51" fill="url(#g107)"/>
<rect x="135" y="164.69" width="1" height="112.51" fill="url(#g108)"/>
<rect x="136" y="164.69" width="1" height="112.51" fill="url(#g109)"/>
<rect x="137" y="164.69" width="1" height="112.51" fill="url(#g110)"/>
<rect x="138" y="164.69" width="1" height="112.51" fill="url(#g111)"/>
<rect x="139" y="164.69" width="1" height="112.51" fill="url(#g112)"/>
<rect x="140" y="164.69" width="1" height="112.51" fill="url(#g113)"/>
<rect x="141" y="164.69" width="1" height="112.51" fill="url(#g114)"/>
<rect x="142" y="164.69" width="1" height="112.51" fill="url(#g115)"/>
<rect x="143" y="164.69" width="1" height="112.51" fill="url(#g116)"/>
<rect x="144" y="164.69" width="1" height="112.51" fill="url(#g117)"/>
<rect x="145" y="164.69" width="1" height="112.51" fill="url(#g118)"/>
<rect x="146" y="164.69" width="1" height="112.51" fill="url(#g119)"/>
<rect x="147" y="164.69" width="1" height="112.51" fill="url(#g120)"/>
<rect x="148" y="164.69" width="1" height="112.51" fill="url(#g121)"/>
<rect x="149" y="164.69" width="1" height="112.51" fill="url(#g122)"/>
<rect x="150" y="164.69" width="1" height="112.51" fill="url(#g123)"/>
<rect x="151" y="164.69" width="1" height="112.51" fill="url(#g124)"/>
<rect x="152" y="164.69" width="1" height="112.51" fill="url(#g125)"/>
<rect x="153" y="164.69" width="1" height="112.51" fill="url(#g126)"/>
<rect x="154" y="164.69" width="1" height="112.51" fill="url(#g127)"/>
<rect x="155" y="164.69" width="1" height="112.51" fill="url(#g128)"/>
<rect x="156" y="164.69" width="1" height="112.51" fill="url(#g129)"/>
<rect x="157" y="164.69" width="1" height="112.51" fill="url(#g130)"/>
<rect x="158" y="164.69" width="1" height="112.51" fill="url(#g131)"/>
<rect x="159" y="164.69" width="1" height="112.51" fill="url(#g132)"/>
<rect x="160" y="164.69" width="1" height="112.51" fill="url(#g133)"/>
<rect x="161" y="164.69" width="1" height="112.51" fill="url(#g134)"/>
<rect x="162" y="164.69" width="1" height="112.51" fill="url(#g135)"/>
<rect x="163" y="164.69" width="1" height="112.51" fill="url(#g136)"/>
<rect x="164" y="164.69" width="1" height="112.51" fill="url(#g137)"/>
<rect x="165" y="164.69" width="1" height="112.51" fill="url(#g138)"/>
<rect x="166" y="164.69" width="1" height="112.51" fill="url(#g139)"/>
<rect x="167" y="164.69" width="1" height="112.51" fill="url(#g140)"/>
<rect x="168" y="164.69" width="1" height="112.51" fill="url(#g141)"/>
<rect x="169" y="164.69" width="1" height="112.51" fill="url(#g142)"/>
<rect x="170" y="164.69" width="1" height="112.51" fill="url(#g143)"/>
<rect x="171" y="164.69" width="1" height="112.51" fill="url(#g144)"/>
<rect x="172" y="164.69" width="1" height="112.51" fill="url(#g145)"/>
<rect x="173" y="164.69" width="1" height="112.51" fill="url(#g146)"/>
<rect x="174" y="164.69" width="1" height="112.51" fill="url(#g147)"/>
<rect x="175" y="164.69" width="1" height="112.51" fill="url(#g148)"/>
<rect x="176" y="164.69" width="1" height="112.51" fill="url(#g149)"/>
<rect x="177" y="164.69" width="1" height="112.51" fill="url(#g150)"/>
<rect x="178" y="164.69" width="1" height="112.51" fill="url(#g151)"/>
<rect x="179" y="164.69" width="1" height="112.51" fill="url(#g152)"/>
<rect x="180" y="164.69" width="1" height="112.51" fill="url(#g153)"/>
<rect x="181" y="164.69" width="1" height="112.51" fill="url(#g154)"/>
<rect x="182" y="164.69" width="1" height="112.51" fill="url(#g155)"/>
<rect x="183" y="164.69" width="1" height="112.51" fill="url(#g156)"/>
<rect x="184" y="164.69" width="1" height="112.51" fill="url(#g157)"/>
<rect x="185" y="164.69" width="1" height="112.51" fill="url(#g158)"/>
<rect x="186" y="164.69" width="1" height="112.51" fill="url(#g159)"/>
<rect x="187" y="164.69" width="1" height="112.51" fill="url(#g160)"/>
<rect x="188" y="164.69" width="1" height="112.51" fill="url(#g161)"/>
<rect x="189" y="164.69" width="1" height="112.51" fill="url(#g162)"/>
<rect x="190" y="164.69" width="1" height="112.51" fill="url(#g163)"/>
<rect x="191" y="164.69" width="1" height="112.51" fill="url(#g164)"/>
<rect x="192" y="164.69" width="1" height="112.51" fill="url(#g165)"/>
<rect x="193" y="164.69" width="1" height="112.51" fill="url(#g166)"/>
<rect x="194" y="164.69" width="1" height="112.51" fill="url(#g167)"/>
<rect x="195" y="164.69" width="1" height="112.51" fill="url(#g168)"/>
<rect x="196" y="164.69" width="1" height="112.51" fill="url(#g169)"/>
<rect x="197" y="164.69" width="1" height="112.51" fill="url(#g170)"/>
<rect x="198" y="164.69" width="1" height="112.51" fill="url(#g171)"/>
<rect x="199" y="164.69" width="1" height="112.51" fill="url(#g172)"/>
<rect x="200" y="164.69" width="1" height="112.51" fill="url(#g173)"/>
<rect x="201" y="164.69" width="1" height="112.51" fill="url(#g174)"/>
<rect x="202" y="164.69" width="1" height="112.51" fill="url(#g175)"/>
<rect x="203" y="164.69" width="1" height="112.51" fill="url(#g176)"/>
<rect x="204" y="164.69" width="1" height="112.51" fill="url(#g177)"/>
<rect x="205" y="164.69" width="1" height="112.51" fill="url(#g178)"/>
<rect x="206" y="164.69" width="1" height="112.51" fill="url(#g179)"/>
<rect x="207" y="164.69" width="1" height="112.51" fill="url(#g180)"/>
<rect x="208" y="164.69" width="1" height="112.51" fill="url(#g181)"/>
<rect x="209" y="164.69" width="1" height="112.51" fill="url(#g182)"/>
<rect x="210" y="164.69" width="1" height="112.51" fill="url(#g183)"/>
<rect x="211" y="164.69" width="1" height="112.51" fill="url(#g184)"/>
<rect x="212" y="164.69" width="1" height="112.51" fill="url(#g185)"/>
<rect x="213" y="164.69" width="1" height="112.51" fill="url(#g186)"/>
<polyline fill="none" stroke="#0072BF" stroke-width="0.4" stroke-opacity="0.18" points="148.86,165.69 149.07,176.56 149.28,186.88 149.48,196.63 149.69,205.83 149.90,214.48 150.10,222.56 150.31,230.09 150.52,237.06 150.72,243.47 150.93,249.32 151.14,254.62 151.35,259.36 151.55,263.54 151.76,267.16 151.97,270.23 152.17,272.74 152.38,274.69 152.59,276.08 152.79,276.92 153.00,277.20 153.21,276.92 153.41,276.08 153.62,274.69 153.83,272.74 154.03,270.23 154.24,267.16 154.45,263.54 154.65,259.36 154.86,254.62 155.07,249.32 155.28,243.47 155.48,237.06 155.69,230.09 155.90,222.56 156.10,214.48 156.31,205.83 156.52,196.63 156.72,186.88 156.93,176.56 157.14,165.69"/>
<rect x="36.90" y="153.30" width="232.90" height="123.90" fill="none" stroke="#d2d2d2" stroke-width="0.8"/>
<path d="M36.40 277.20v-1.8M36.40 153.30v1.8M65.65 277.20v-1.8M65.65 153.30v1.8M94.90 277.20v-1.8M94.90 153.30v1.8M124.15 277.20v-1.8M124.15 153.30v1.8M153.40 277.20v-1.8M153.40 153.30v1.8M182.65 277.20v-1.8M182.65 153.30v1.8M211.90 277.20v-1.8M211.90 153.30v1.8M241.15 277.20v-1.8M241.15 153.30v1.8M270.40 277.20v-1.8M270.40 153.30v1.8M36.90 277.20h1.8M269.80 277.20h-1.8M36.90 261.71h1.8M269.80 261.71h-1.8M36.90 246.22h1.8M269.80 246.22h-1.8M36.90 230.74h1.8M269.80 230.74h-1.8M36.90 215.25h1.8M269.80 215.25h-1.8M36.90 199.76h1.8M269.80 199.76h-1.8M36.90 184.28h1.8M269.80 184.28h-1.8M36.90 168.79h1.8M269.80 168.79h-1.8M36.90 153.30h1.8M269.80 153.30h-1.8" stroke="#b4b4b4" stroke-width="0.6" fill="none"/>
<text transform="translate(34.80,279.50) scale(1,1.1)" font-size="7.4" fill="#1e1e1e" stroke="#1e1e1e" stroke-width="0.28" text-anchor="end">0</text>
<text transform="translate(34.80,249.10) scale(1,1.1)" font-size="7.4" fill="#1e1e1e" stroke="#1e1e1e" stroke-width="0.28" text-anchor="end">100</text>
<text transform="translate(34.80,218.70) scale(1,1.1)" font-size="7.4" fill="#1e1e1e" stroke="#1e1e1e" stroke-width="0.28" text-anchor="end">200</text>
<text transform="translate(34.80,188.30) scale(1,1.1)" font-size="7.4" fill="#1e1e1e" stroke="#1e1e1e" stroke-width="0.28" text-anchor="end">300</text>
<text transform="translate(34.80,157.90) scale(1,1.1)" font-size="7.4" fill="#1e1e1e" stroke="#1e1e1e" stroke-width="0.28" text-anchor="end">400</text>
<text transform="translate(39.30,284.20) scale(1,1.1)" font-size="7.4" fill="#1e1e1e" stroke="#1e1e1e" stroke-width="0.28" text-anchor="middle">-20</text>
<text transform="translate(66.70,284.20) scale(1,1.1)" font-size="7.4" fill="#1e1e1e" stroke="#1e1e1e" stroke-width="0.28" text-anchor="middle">-15</text>
<text transform="translate(96.10,284.20) scale(1,1.1)" font-size="7.4" fill="#1e1e1e" stroke="#1e1e1e" stroke-width="0.28" text-anchor="middle">-10</text>
<text transform="translate(125.50,284.20) scale(1,1.1)" font-size="7.4" fill="#1e1e1e" stroke="#1e1e1e" stroke-width="0.28" text-anchor="middle">-5</text>
<text transform="translate(153.40,284.20) scale(1,1.1)" font-size="7.4" fill="#1e1e1e" stroke="#1e1e1e" stroke-width="0.28" text-anchor="middle">0</text>
<text transform="translate(183.00,284.20) scale(1,1.1)" font-size="7.4" fill="#1e1e1e" stroke="#1e1e1e" stroke-width="0.28" text-anchor="middle">5</text>
<text transform="translate(212.00,284.20) scale(1,1.1)" font-size="7.4" fill="#1e1e1e" stroke="#1e1e1e" stroke-width="0.28" text-anchor="middle">10</text>
<text transform="translate(240.80,284.20) scale(1,1.1)" font-size="7.4" fill="#1e1e1e" stroke="#1e1e1e" stroke-width="0.28" text-anchor="middle">15</text>
<text transform="translate(266.40,284.20) scale(1,1.1)" font-size="7.4" fill="#1e1e1e" stroke="#1e1e1e" stroke-width="0.28" text-anchor="middle">20</text>
<text x="4.4" y="159.6" font-size="11.2" fill="#222" stroke="#222" stroke-width="0.3">(c)</text>
<text transform="translate(20.00,217.90) rotate(-90) scale(1,1.03)" font-size="7.6" fill="#1e1e1e" stroke="#1e1e1e" stroke-width="0.28" text-anchor="middle">Phase (°)</text>
<text transform="translate(153.40,289.00) scale(1,1.0)" font-size="7.6" fill="#1e1e1e" stroke="#1e1e1e" stroke-width="0.28" text-anchor="middle">x (mm)</text>
<rect x="309.70" y="156.30" width="230.80" height="119.30" fill="#fff"/>
<polyline fill="none" stroke="#0072BD" stroke-opacity="0.32" stroke-width="0.75" stroke-linejoin="round" points="310.3,170.6 310.6,171.7 310.9,172.7 311.2,173.8 311.5,174.9 311.8,175.9 312.1,177.0 312.4,178.0 312.6,179.0 312.9,180.1 313.2,181.1 313.5,182.1 313.8,183.2 314.1,184.2 314.4,185.2 314.6,186.3 314.9,187.3 315.2,188.3 315.5,189.3 315.8,190.3 316.1,191.3 316.4,192.3 316.7,193.3 316.9,194.3 317.2,195.3 317.5,196.3 317.8,197.3 318.1,198.3 318.4,199.3 318.7,200.3 319.0,201.3 319.2,202.3 319.5,203.2 319.8,204.2 320.1,205.2 320.4,206.2 320.7,207.1 321.0,208.1 321.2,209.1 321.5,210.0 321.8,211.0 322.1,211.9 322.4,212.9 322.7,213.8 323.0,214.8 323.3,215.7 323.5,216.7 323.8,217.6 324.1,218.5 324.4,219.5 324.7,220.4 325.0,221.3 325.3,222.2 325.6,223.2 325.8,224.1 326.1,225.0 326.4,225.9 326.7,226.8 327.0,227.7 327.3,228.6 327.6,229.6 327.8,230.5 328.1,231.4 328.4,232.2 328.7,233.1 329.0,234.0 329.3,234.9 329.6,235.8 329.9,236.7 330.1,237.6 330.4,238.4 330.7,239.3 331.0,240.2 331.3,241.1 331.6,241.9 331.9,242.8 332.1,243.7 332.4,244.5 332.7,245.4 333.0,246.2 333.3,247.1 333.6,247.9 333.9,248.8 334.2,249.6 334.4,250.4 334.7,251.3 335.0,252.1 335.3,253.0 335.6,253.8 335.9,254.6 336.2,255.4 336.5,256.3 336.7,257.1 337.0,257.9 337.3,258.7 337.6,259.5 337.9,260.3 338.2,261.1 338.5,261.9 338.7,262.7 339.0,263.5 339.3,264.3 339.6,265.1 339.9,265.9 340.2,266.7 340.5,267.5 340.8,268.3 341.0,269.0 341.3,269.8 341.6,270.6 341.9,271.4 342.2,272.1 342.5,272.9 342.8,273.7 343.1,274.4 343.3,275.2 343.5,275.6 343.5,168.4 343.6,168.6 343.9,169.3 344.2,170.1 344.5,170.8 344.8,171.6 345.1,172.3 345.3,173.0 345.6,173.8 345.9,174.5 346.2,175.2 346.5,176.0 346.8,176.7 347.1,177.4 347.4,178.1 347.6,178.9 347.9,179.6 348.2,180.3 348.5,181.0 348.8,181.7 349.1,182.4 349.4,183.1 349.6,183.8 349.9,184.5 350.2,185.2 350.5,185.9 350.8,186.6 351.1,187.3 351.4,187.9 351.7,188.6 351.9,189.3 352.2,190.0 352.5,190.7 352.8,191.3 353.1,192.0 353.4,192.7 353.7,193.3 354.0,194.0 354.2,194.6 354.5,195.3 354.8,195.9 355.1,196.6 355.4,197.2 355.7,197.9 356.0,198.5 356.2,199.2 356.5,199.8 356.8,200.4 357.1,201.1 357.4,201.7 357.7,202.3 358.0,202.9 358.3,203.6 358.5,204.2 358.8,204.8 359.1,205.4 359.4,206.0 359.7,206.6 360.0,207.2 360.3,207.8 360.6,208.4 360.8,209.0 361.1,209.6 361.4,210.2 361.7,210.8 362.0,211.4 362.3,211.9 362.6,212.5 362.8,213.1 363.1,213.7 363.4,214.3 363.7,214.8 364.0,215.4 364.3,216.0 364.6,216.5 364.9,217.1 365.1,217.6 365.4,218.2 365.7,218.7 366.0,219.3 366.3,219.8 366.6,220.4 366.9,220.9 367.1,221.4 367.4,222.0 367.7,222.5 368.0,223.0 368.3,223.6 368.6,224.1 368.9,224.6 369.2,225.1 369.4,225.7 369.7,226.2 370.0,226.7 370.3,227.2 370.6,227.7 370.9,228.2 371.2,228.7 371.5,229.2 371.7,229.7 372.0,230.2 372.3,230.7 372.6,231.2 372.9,231.6 373.2,232.1 373.5,232.6 373.7,233.1 374.0,233.6 374.3,234.0 374.6,234.5 374.9,235.0 375.2,235.4 375.5,235.9 375.8,236.3 376.0,236.8 376.3,237.2 376.6,237.7 376.9,238.1 377.2,238.6 377.5,239.0 377.8,239.5 378.1,239.9 378.3,240.3 378.6,240.8 378.9,241.2 379.2,241.6 379.5,242.0 379.8,242.5 380.1,242.9 380.3,243.3 380.6,243.7 380.9,244.1 381.2,244.5 381.5,244.9 381.8,245.3 382.1,245.7 382.4,246.1 382.6,246.5 382.9,246.9 383.2,247.3 383.5,247.7 383.8,248.1 384.1,248.5 384.4,248.8 384.6,249.2 384.9,249.6 385.2,250.0 385.5,250.3 385.8,250.7 386.1,251.1 386.4,251.4 386.7,251.8 386.9,252.1 387.2,252.5 387.5,252.8 387.8,253.2 388.1,253.5 388.4,253.9 388.7,254.2 389.0,254.5 389.2,254.9 389.5,255.2 389.8,255.5 390.1,255.8 390.4,256.2 390.7,256.5 391.0,256.8 391.2,257.1 391.5,257.4 391.8,257.7 392.1,258.0 392.4,258.4 392.7,258.7 393.0,259.0 393.3,259.2 393.5,259.5 393.8,259.8 394.1,260.1 394.4,260.4 394.7,260.7 395.0,261.0 395.3,261.2 395.6,261.5 395.8,261.8 396.1,262.1 396.4,262.3 396.7,262.6 397.0,262.9 397.3,263.1 397.6,263.4 397.8,263.6 398.1,263.9 398.4,264.1 398.7,264.4 399.0,264.6 399.3,264.9 399.6,265.1 399.9,265.3 400.1,265.6 400.4,265.8 400.7,266.0 401.0,266.2 401.3,266.5 401.6,266.7 401.9,266.9 402.1,267.1 402.4,267.3 402.7,267.5 403.0,267.7 403.3,267.9 403.6,268.1 403.9,268.3 404.2,268.5 404.4,268.7 404.7,268.9 405.0,269.1 405.3,269.3 405.6,269.5 405.9,269.6 406.2,269.8 406.5,270.0 406.7,270.2 407.0,270.3 407.3,270.5 407.6,270.7 407.9,270.8 408.2,271.0 408.5,271.1 408.7,271.3 409.0,271.4 409.3,271.6 409.6,271.7 409.9,271.9 410.2,272.0 410.5,272.1 410.8,272.3 411.0,272.4 411.3,272.5 411.6,272.7 411.9,272.8 412.2,272.9 412.5,273.0 412.8,273.1 413.1,273.3 413.3,273.4 413.6,273.5 413.9,273.6 414.2,273.7 414.5,273.8 414.8,273.9 415.1,274.0 415.3,274.1 415.6,274.2 415.9,274.2 416.2,274.3 416.5,274.4 416.8,274.5 417.1,274.6 417.4,274.6 417.6,274.7 417.9,274.8 418.2,274.8 418.5,274.9 418.8,275.0 419.1,275.0 419.4,275.1 419.6,275.1 419.9,275.2 420.2,275.2 420.5,275.3 420.8,275.3 421.1,275.3 421.4,275.4 421.7,275.4 421.9,275.4 422.2,275.5 422.5,275.5 422.8,275.5 423.1,275.5 423.4,275.6 423.7,275.6 424.0,275.6 424.2,275.6 424.5,275.6 424.8,275.6 425.1,275.6 425.4,275.6 425.7,275.6 426.0,275.6 426.2,275.6 426.5,275.6 426.8,275.6 427.1,275.5 427.4,275.5 427.7,275.5 428.0,275.5 428.3,275.4 428.5,275.4 428.8,275.4 429.1,275.3 429.4,275.3 429.7,275.3 430.0,275.2 430.3,275.2 430.6,275.1 430.8,275.1 431.1,275.0 431.4,275.0 431.7,274.9 432.0,274.8 432.3,274.8 432.6,274.7 432.8,274.6 433.1,274.6 433.4,274.5 433.7,274.4 434.0,274.3 434.3,274.2 434.6,274.2 434.9,274.1 435.1,274.0 435.4,273.9 435.7,273.8 436.0,273.7 436.3,273.6 436.6,273.5 436.9,273.4 437.1,273.3 437.4,273.1 437.7,273.0 438.0,272.9 438.3,272.8 438.6,272.7 438.9,272.5 439.2,272.4 439.4,272.3 439.7,272.1 440.0,272.0 440.3,271.9 440.6,271.7 440.9,271.6 441.2,271.4 441.5,271.3 441.7,271.1 442.0,271.0 442.3,270.8 442.6,270.7 442.9,270.5 443.2,270.3 443.5,270.2 443.7,270.0 444.0,269.8 444.3,269.6 444.6,269.5 444.9,269.3 445.2,269.1 445.5,268.9 445.8,268.7 446.0,268.5 446.3,268.3 446.6,268.1 446.9,267.9 447.2,267.7 447.5,267.5 447.8,267.3 448.1,267.1 448.3,266.9 448.6,266.7 448.9,266.5 449.2,266.2 449.5,266.0 449.8,265.8 450.1,265.6 450.3,265.3 450.6,265.1 450.9,264.9 451.2,264.6 451.5,264.4 451.8,264.1 452.1,263.9 452.4,263.6 452.6,263.4 452.9,263.1 453.2,262.9 453.5,262.6 453.8,262.3 454.1,262.1 454.4,261.8 454.6,261.5 454.9,261.2 455.2,261.0 455.5,260.7 455.8,260.4 456.1,260.1 456.4,259.8 456.7,259.5 456.9,259.2 457.2,259.0 457.5,258.7 457.8,258.4 458.1,258.0 458.4,257.7 458.7,257.4 459.0,257.1 459.2,256.8 459.5,256.5 459.8,256.2 460.1,255.8 460.4,255.5 460.7,255.2 461.0,254.9 461.2,254.5 461.5,254.2 461.8,253.9 462.1,253.5 462.4,253.2 462.7,252.8 463.0,252.5 463.3,252.1 463.5,251.8 463.8,251.4 464.1,251.1 464.4,250.7 464.7,250.3 465.0,250.0 465.3,249.6 465.6,249.2 465.8,248.8 466.1,248.5 466.4,248.1 466.7,247.7 467.0,247.3 467.3,246.9 467.6,246.5 467.8,246.1 468.1,245.7 468.4,245.3 468.7,244.9 469.0,244.5 469.3,244.1 469.6,243.7 469.9,243.3 470.1,242.9 470.4,242.5 470.7,242.0 471.0,241.6 471.3,241.2 471.6,240.8 471.9,240.3 472.1,239.9 472.4,239.5 472.7,239.0 473.0,238.6 473.3,238.1 473.6,237.7 473.9,237.2 474.2,236.8 474.4,236.3 474.7,235.9 475.0,235.4 475.3,235.0 475.6,234.5 475.9,234.0 476.2,233.6 476.5,233.1 476.7,232.6 477.0,232.1 477.3,231.6 477.6,231.2 477.9,230.7 478.2,230.2 478.5,229.7 478.7,229.2 479.0,228.7 479.3,228.2 479.6,227.7 479.9,227.2 480.2,226.7 480.5,226.2 480.8,225.7 481.0,225.1 481.3,224.6 481.6,224.1 481.9,223.6 482.2,223.0 482.5,222.5 482.8,222.0 483.1,221.4 483.3,220.9 483.6,220.4 483.9,219.8 484.2,219.3 484.5,218.7 484.8,218.2 485.1,217.6 485.3,217.1 485.6,216.5 485.9,216.0 486.2,215.4 486.5,214.8 486.8,214.3 487.1,213.7 487.4,213.1 487.6,212.5 487.9,211.9 488.2,211.4 488.5,210.8 488.8,210.2 489.1,209.6 489.4,209.0 489.6,208.4 489.9,207.8 490.2,207.2 490.5,206.6 490.8,206.0 491.1,205.4 491.4,204.8 491.7,204.2 491.9,203.6 492.2,202.9 492.5,202.3 492.8,201.7 493.1,201.1 493.4,200.4 493.7,199.8 494.0,199.2 494.2,198.5 494.5,197.9 494.8,197.2 495.1,196.6 495.4,195.9 495.7,195.3 496.0,194.6 496.2,194.0 496.5,193.3 496.8,192.7 497.1,192.0 497.4,191.3 497.7,190.7 498.0,190.0 498.3,189.3 498.5,188.6 498.8,187.9 499.1,187.3 499.4,186.6 499.7,185.9 500.0,185.2 500.3,184.5 500.6,183.8 500.8,183.1 501.1,182.4 501.4,181.7 501.7,181.0 502.0,180.3 502.3,179.6 502.6,178.9 502.8,178.1 503.1,177.4 503.4,176.7 503.7,176.0 504.0,175.2 504.3,174.5 504.6,173.8 504.9,173.0 505.1,172.3 505.4,171.6 505.7,170.8 506.0,170.1 506.3,169.3 506.6,168.6 506.7,168.4 506.7,275.6 506.9,275.2 507.1,274.4 507.4,273.7 507.7,272.9 508.0,272.1 508.3,271.4 508.6,270.6 508.9,269.8 509.2,269.0 509.4,268.3 509.7,267.5 510.0,266.7 510.3,265.9 510.6,265.1 510.9,264.3 511.2,263.5 511.5,262.7 511.7,261.9 512.0,261.1 512.3,260.3 512.6,259.5 512.9,258.7 513.2,257.9 513.5,257.1 513.7,256.3 514.0,255.4 514.3,254.6 514.6,253.8 514.9,253.0 515.2,252.1 515.5,251.3 515.8,250.4 516.0,249.6 516.3,248.8 516.6,247.9 516.9,247.1 517.2,246.2 517.5,245.4 517.8,244.5 518.1,243.7 518.3,242.8 518.6,241.9 518.9,241.1 519.2,240.2 519.5,239.3 519.8,238.4 520.1,237.6 520.3,236.7 520.6,235.8 520.9,234.9 521.2,234.0 521.5,233.1 521.8,232.2 522.1,231.4 522.4,230.5 522.6,229.6 522.9,228.6 523.2,227.7 523.5,226.8 523.8,225.9 524.1,225.0 524.4,224.1 524.6,223.2 524.9,222.2 525.2,221.3 525.5,220.4 525.8,219.5 526.1,218.5 526.4,217.6 526.7,216.7 526.9,215.7 527.2,214.8 527.5,213.8 527.8,212.9 528.1,211.9 528.4,211.0 528.7,210.0 529.0,209.1 529.2,208.1 529.5,207.1 529.8,206.2 530.1,205.2 530.4,204.2 530.7,203.2 531.0,202.3 531.2,201.3 531.5,200.3 531.8,199.3 532.1,198.3 532.4,197.3 532.7,196.3 533.0,195.3 533.3,194.3 533.5,193.3 533.8,192.3 534.1,191.3 534.4,190.3 534.7,189.3 535.0,188.3 535.3,187.3 535.6,186.3 535.8,185.2 536.1,184.2 536.4,183.2 536.7,182.1 537.0,181.1 537.3,180.1 537.6,179.0 537.8,178.0 538.1,177.0 538.4,175.9 538.7,174.9 539.0,173.8 539.3,172.7 539.6,171.7 539.9,170.6"/>
<rect x="309.70" y="156.30" width="230.80" height="119.30" fill="none" stroke="#d2d2d2" stroke-width="0.8"/>
<path d="M309.70 275.60v-1.8M309.70 156.30v1.8M332.78 275.60v-1.8M332.78 156.30v1.8M355.86 275.60v-1.8M355.86 156.30v1.8M378.94 275.60v-1.8M378.94 156.30v1.8M402.02 275.60v-1.8M402.02 156.30v1.8M425.10 275.60v-1.8M425.10 156.30v1.8M448.18 275.60v-1.8M448.18 156.30v1.8M471.26 275.60v-1.8M471.26 156.30v1.8M494.34 275.60v-1.8M494.34 156.30v1.8M517.42 275.60v-1.8M517.42 156.30v1.8M540.50 275.60v-1.8M540.50 156.30v1.8M309.70 275.60h1.8M540.50 275.60h-1.8M309.70 260.69h1.8M540.50 260.69h-1.8M309.70 245.78h1.8M540.50 245.78h-1.8M309.70 230.86h1.8M540.50 230.86h-1.8M309.70 215.95h1.8M540.50 215.95h-1.8M309.70 201.04h1.8M540.50 201.04h-1.8M309.70 186.12h1.8M540.50 186.12h-1.8M309.70 171.21h1.8M540.50 171.21h-1.8M309.70 156.30h1.8M540.50 156.30h-1.8" stroke="#b4b4b4" stroke-width="0.6" fill="none"/>
<text transform="translate(305.30,279.90) scale(1,1.1)" font-size="7.4" fill="#1e1e1e" stroke="#1e1e1e" stroke-width="0.28" text-anchor="end">0</text>
<text transform="translate(305.30,249.47) scale(1,1.1)" font-size="7.4" fill="#1e1e1e" stroke="#1e1e1e" stroke-width="0.28" text-anchor="end">100</text>
<text transform="translate(305.30,219.04) scale(1,1.1)" font-size="7.4" fill="#1e1e1e" stroke="#1e1e1e" stroke-width="0.28" text-anchor="end">200</text>
<text transform="translate(305.30,188.61) scale(1,1.1)" font-size="7.4" fill="#1e1e1e" stroke="#1e1e1e" stroke-width="0.28" text-anchor="end">300</text>
<text transform="translate(305.30,158.18) scale(1,1.1)" font-size="7.4" fill="#1e1e1e" stroke="#1e1e1e" stroke-width="0.28" text-anchor="end">400</text>
<text transform="translate(309.70,283.70) scale(1,1.1)" font-size="7.4" fill="#1e1e1e" stroke="#1e1e1e" stroke-width="0.28" text-anchor="middle">-1</text>
<text transform="translate(332.78,283.70) scale(1,1.1)" font-size="7.4" fill="#1e1e1e" stroke="#1e1e1e" stroke-width="0.28" text-anchor="middle">-0.8</text>
<text transform="translate(355.86,283.70) scale(1,1.1)" font-size="7.4" fill="#1e1e1e" stroke="#1e1e1e" stroke-width="0.28" text-anchor="middle">-0.6</text>
<text transform="translate(378.94,283.70) scale(1,1.1)" font-size="7.4" fill="#1e1e1e" stroke="#1e1e1e" stroke-width="0.28" text-anchor="middle">-0.4</text>
<text transform="translate(402.02,283.70) scale(1,1.1)" font-size="7.4" fill="#1e1e1e" stroke="#1e1e1e" stroke-width="0.28" text-anchor="middle">-0.2</text>
<text transform="translate(425.10,283.70) scale(1,1.1)" font-size="7.4" fill="#1e1e1e" stroke="#1e1e1e" stroke-width="0.28" text-anchor="middle">0</text>
<text transform="translate(448.18,283.70) scale(1,1.1)" font-size="7.4" fill="#1e1e1e" stroke="#1e1e1e" stroke-width="0.28" text-anchor="middle">0.2</text>
<text transform="translate(471.26,283.70) scale(1,1.1)" font-size="7.4" fill="#1e1e1e" stroke="#1e1e1e" stroke-width="0.28" text-anchor="middle">0.4</text>
<text transform="translate(494.34,283.70) scale(1,1.1)" font-size="7.4" fill="#1e1e1e" stroke="#1e1e1e" stroke-width="0.28" text-anchor="middle">0.6</text>
<text transform="translate(517.42,283.70) scale(1,1.1)" font-size="7.4" fill="#1e1e1e" stroke="#1e1e1e" stroke-width="0.28" text-anchor="middle">0.8</text>
<text transform="translate(540.50,283.70) scale(1,1.1)" font-size="7.4" fill="#1e1e1e" stroke="#1e1e1e" stroke-width="0.28" text-anchor="middle">1</text>
<text x="275.3" y="161.3" font-size="11.2" fill="#222" stroke="#222" stroke-width="0.3">(d)</text>
<text transform="translate(290.20,217.90) rotate(-90) scale(1,1.03)" font-size="7.6" fill="#1e1e1e" stroke="#1e1e1e" stroke-width="0.28" text-anchor="middle">Phase (°)</text>
<text transform="translate(424.60,289.30) scale(1,1.0)" font-size="7.6" fill="#1e1e1e" stroke="#1e1e1e" stroke-width="0.28" text-anchor="middle">x (mm)</text>
</svg></body></html>
